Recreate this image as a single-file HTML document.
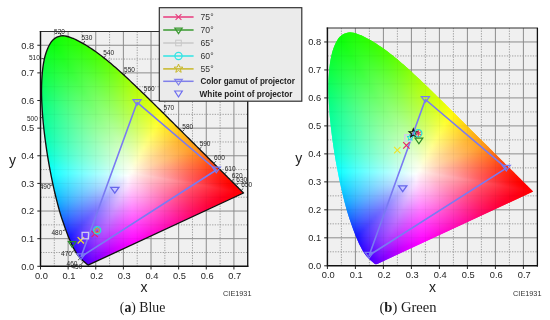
<!DOCTYPE html><html><head><meta charset="utf-8"><title>CIE1931 chromaticity</title><style>html,body{margin:0;padding:0;background:#fff}
#w{position:relative;width:550px;height:320px;overflow:hidden;background:#fff}
.ly{position:absolute;left:0;top:0}
.cf{position:absolute;left:0;top:0;width:208px;height:236px;opacity:1;transform-origin:0 0;clip-path:polygon(48.60px 233.92px,48.60px 233.92px,48.60px 233.92px,48.59px 233.92px,48.59px 233.92px,48.58px 233.92px,48.58px 233.92px,48.57px 233.92px,48.56px 233.93px,48.55px 233.93px,48.54px 233.94px,48.53px 233.94px,48.52px 233.95px,48.51px 233.95px,48.50px 233.95px,48.50px 233.95px,48.49px 233.95px,48.48px 233.94px,48.47px 233.95px,48.45px 233.95px,48.44px 233.95px,48.43px 233.96px,48.41px 233.97px,48.40px 233.97px,48.38px 233.97px,48.37px 233.98px,48.36px 233.98px,48.34px 233.98px,48.33px 233.97px,48.32px 233.97px,48.30px 233.97px,48.28px 233.97px,48.27px 233.97px,48.25px 233.97px,48.23px 233.97px,48.21px 233.97px,48.19px 233.97px,48.17px 233.97px,48.15px 233.98px,48.13px 233.98px,48.10px 233.98px,48.08px 233.98px,48.05px 233.97px,48.02px 233.97px,47.99px 233.96px,47.96px 233.94px,47.93px 233.93px,47.90px 233.91px,47.86px 233.89px,47.81px 233.87px,47.77px 233.84px,47.72px 233.81px,47.67px 233.77px,47.61px 233.74px,47.55px 233.70px,47.50px 233.66px,47.44px 233.61px,47.38px 233.56px,47.31px 233.51px,47.24px 233.46px,47.17px 233.39px,47.09px 233.33px,47.00px 233.26px,46.91px 233.18px,46.82px 233.10px,46.72px 233.01px,46.61px 232.92px,46.51px 232.83px,46.40px 232.73px,46.29px 232.63px,46.18px 232.52px,46.05px 232.41px,45.92px 232.29px,45.79px 232.17px,45.65px 232.04px,45.50px 231.92px,45.35px 231.78px,45.19px 231.64px,45.01px 231.49px,44.83px 231.33px,44.63px 231.16px,44.43px 230.98px,44.22px 230.80px,44.00px 230.61px,43.77px 230.41px,43.53px 230.20px,43.29px 229.99px,43.04px 229.77px,42.78px 229.54px,42.51px 229.29px,42.22px 229.03px,41.93px 228.75px,41.62px 228.46px,41.30px 228.15px,40.98px 227.82px,40.64px 227.47px,40.29px 227.09px,39.93px 226.70px,39.56px 226.30px,39.19px 225.87px,38.80px 225.41px,38.38px 224.88px,37.94px 224.28px,37.47px 223.61px,36.98px 222.90px,36.47px 222.13px,35.93px 221.28px,35.37px 220.36px,34.79px 219.33px,34.18px 218.23px,33.56px 217.06px,32.90px 215.81px,32.23px 214.45px,31.52px 212.96px,30.78px 211.32px,30.01px 209.54px,29.22px 207.66px,28.39px 205.65px,27.54px 203.49px,26.65px 201.16px,25.73px 198.63px,24.76px 195.94px,23.74px 193.09px,22.69px 190.08px,21.62px 186.87px,20.55px 183.47px,19.48px 179.85px,18.42px 176.00px,17.34px 171.94px,16.25px 167.68px,15.17px 163.22px,14.10px 158.59px,13.04px 153.79px,11.99px 148.77px,10.93px 143.51px,9.88px 138.07px,8.86px 132.51px,7.89px 126.89px,6.99px 121.27px,6.15px 115.58px,5.34px 109.76px,4.58px 103.88px,3.88px 98.01px,3.27px 92.21px,2.77px 86.54px,2.35px 80.96px,2.00px 75.41px,1.73px 69.94px,1.57px 64.57px,1.51px 59.37px,1.58px 54.38px,1.76px 49.54px,2.05px 44.82px,2.45px 40.26px,2.97px 35.90px,3.59px 31.81px,4.34px 28.02px,5.22px 24.51px,6.23px 21.23px,7.36px 18.21px,8.58px 15.47px,9.88px 13.04px,11.25px 10.94px,12.70px 9.21px,14.25px 7.82px,15.88px 6.73px,17.57px 5.92px,19.29px 5.33px,21.03px 4.92px,22.79px 4.76px,24.61px 4.89px,26.45px 5.24px,28.32px 5.76px,30.19px 6.37px,32.05px 7.02px,33.92px 7.74px,35.79px 8.59px,37.68px 9.54px,39.55px 10.55px,41.41px 11.59px,43.24px 12.63px,45.04px 13.68px,46.82px 14.76px,48.59px 15.87px,50.33px 17.00px,52.07px 18.16px,53.80px 19.34px,55.51px 20.54px,57.21px 21.77px,58.90px 23.02px,60.58px 24.29px,62.26px 25.58px,63.94px 26.89px,65.61px 28.22px,67.29px 29.57px,68.96px 30.95px,70.62px 32.34px,72.28px 33.75px,73.94px 35.18px,75.60px 36.61px,77.25px 38.07px,78.89px 39.54px,80.54px 41.02px,82.19px 42.52px,83.83px 44.02px,85.48px 45.53px,87.12px 47.05px,88.76px 48.59px,90.41px 50.13px,92.05px 51.69px,93.70px 53.25px,95.34px 54.81px,96.99px 56.39px,98.64px 57.97px,100.29px 59.56px,101.94px 61.16px,103.59px 62.75px,105.23px 64.35px,106.87px 65.95px,108.51px 67.56px,110.15px 69.17px,111.79px 70.78px,113.42px 72.39px,115.06px 74.00px,116.70px 75.61px,118.33px 77.22px,119.96px 78.83px,121.59px 80.44px,123.20px 82.04px,124.82px 83.63px,126.43px 85.23px,128.03px 86.83px,129.62px 88.41px,131.21px 90.00px,132.79px 91.57px,134.36px 93.13px,135.93px 94.70px,137.49px 96.25px,139.04px 97.80px,140.58px 99.33px,142.10px 100.85px,143.62px 102.36px,145.13px 103.87px,146.62px 105.36px,148.11px 106.84px,149.58px 108.30px,151.03px 109.75px,152.47px 111.18px,153.89px 112.60px,155.31px 114.00px,156.70px 115.38px,158.08px 116.75px,159.43px 118.09px,160.76px 119.42px,162.07px 120.73px,163.36px 122.03px,164.63px 123.30px,165.87px 124.54px,167.08px 125.75px,168.26px 126.92px,169.40px 128.06px,170.52px 129.18px,171.62px 130.27px,172.69px 131.33px,173.74px 132.38px,174.77px 133.41px,175.79px 134.42px,176.78px 135.41px,177.75px 136.37px,178.69px 137.30px,179.60px 138.21px,180.48px 139.08px,181.33px 139.92px,182.15px 140.73px,182.94px 141.51px,183.71px 142.28px,184.46px 143.02px,185.18px 143.73px,185.87px 144.43px,186.54px 145.09px,187.19px 145.74px,187.81px 146.36px,188.41px 146.97px,188.99px 147.55px,189.54px 148.10px,190.08px 148.63px,190.59px 149.15px,191.08px 149.64px,191.56px 150.12px,192.02px 150.57px,192.47px 151.01px,192.89px 151.43px,193.30px 151.83px,193.69px 152.22px,194.08px 152.60px,194.44px 152.97px,194.80px 153.32px,195.14px 153.66px,195.46px 153.99px,195.78px 154.31px,196.09px 154.62px,196.40px 154.92px,196.69px 155.22px,196.98px 155.50px,197.25px 155.78px,197.52px 156.05px,197.78px 156.31px,198.03px 156.56px,198.27px 156.80px,198.51px 157.03px,198.73px 157.26px,198.95px 157.48px,199.16px 157.69px,199.36px 157.89px,199.56px 158.08px,199.75px 158.26px,199.93px 158.44px,200.10px 158.60px,200.26px 158.76px,200.42px 158.92px,200.57px 159.07px,200.71px 159.21px,200.84px 159.34px,200.97px 159.47px,201.09px 159.59px,201.21px 159.71px,201.33px 159.83px,201.43px 159.93px,201.54px 160.04px,201.64px 160.14px,201.73px 160.23px,201.82px 160.32px,201.90px 160.40px,201.98px 160.48px,202.06px 160.56px,202.13px 160.63px,202.20px 160.70px,202.26px 160.76px,202.31px 160.81px,202.36px 160.86px,202.41px 160.91px,202.46px 160.96px,202.50px 161.00px,202.55px 161.05px,202.59px 161.09px,202.63px 161.13px,202.67px 161.17px,202.71px 161.21px,202.75px 161.25px,202.79px 161.29px,202.82px 161.32px,202.85px 161.35px,202.88px 161.38px,202.91px 161.41px,202.95px 161.45px,202.98px 161.48px,203.01px 161.51px,203.04px 161.54px,203.08px 161.58px,203.11px 161.61px,203.14px 161.64px,203.17px 161.67px,203.20px 161.70px,203.23px 161.73px,203.25px 161.75px,203.28px 161.78px,203.30px 161.80px,203.33px 161.83px,203.35px 161.85px,203.37px 161.87px,203.38px 161.88px,203.40px 161.90px,203.41px 161.91px,203.43px 161.93px,203.44px 161.94px,203.45px 161.95px,203.46px 161.96px,203.46px 161.96px,203.47px 161.97px,203.48px 161.98px,203.48px 161.98px,203.49px 161.99px,203.49px 161.99px,203.49px 161.99px,203.50px 162.00px)}
.cf i{display:block;height:1px;width:208px}
.cf i:first-child{margin-top:3px}
.c2 i{height:2.2px;margin-bottom:-1.2px}
text{font-family:"Liberation Sans",Arial,sans-serif;fill:#262626}
.tk{font-size:9.3px}
.wl{font-size:6.5px;fill:#222}
.lg{font-size:8.6px;fill:#333}
.lgb{font-size:8.5px;font-weight:bold;fill:#222}
.axl{font-size:14px;fill:#222}
.cie{font-size:7.3px;fill:#333}
.cap{font-family:"Liberation Serif","DejaVu Serif",serif;font-size:14.2px;fill:#1c1c1c}
.r3{background:linear-gradient(90deg,#000,#000,#000,#000,#13ff06,#18ff05,#1eff04,#23ff04,#000,#000,#000,#000,#000,#000,#000,#000,#000,#000,#000,#000,#000,#000,#000,#000,#000,#000,#000,#000,#000,#000,#000,#000,#000,#000,#000,#000,#000,#000,#000,#000,#000,#000,#000,#000,#000,#000,#000,#000,#000,#000,#000,#000,#000)}
.r4{background:linear-gradient(90deg,#000,#000,#000,#000,#12ff06,#17ff05,#1dff04,#22ff04,#000,#000,#000,#000,#000,#000,#000,#000,#000,#000,#000,#000,#000,#000,#000,#000,#000,#000,#000,#000,#000,#000,#000,#000,#000,#000,#000,#000,#000,#000,#000,#000,#000,#000,#000,#000,#000,#000,#000,#000,#000,#000,#000,#000,#000)}
.r5{background:linear-gradient(90deg,#000,#000,#000,#0cff07,#11ff06,#17ff05,#1cff05,#21ff03,#27ff03,#000,#000,#000,#000,#000,#000,#000,#000,#000,#000,#000,#000,#000,#000,#000,#000,#000,#000,#000,#000,#000,#000,#000,#000,#000,#000,#000,#000,#000,#000,#000,#000,#000,#000,#000,#000,#000,#000,#000,#000,#000,#000,#000,#000)}
.r6{background:linear-gradient(90deg,#000,#000,#000,#0bff07,#10ff06,#17ff06,#1dff06,#21ff04,#26ff03,#2cff02,#000,#000,#000,#000,#000,#000,#000,#000,#000,#000,#000,#000,#000,#000,#000,#000,#000,#000,#000,#000,#000,#000,#000,#000,#000,#000,#000,#000,#000,#000,#000,#000,#000,#000,#000,#000,#000,#000,#000,#000,#000,#000,#000)}
.r7{background:linear-gradient(90deg,#000,#000,#000,#0aff07,#10ff07,#17ff07,#1dff07,#21ff06,#25ff03,#2bff02,#32ff02,#000,#000,#000,#000,#000,#000,#000,#000,#000,#000,#000,#000,#000,#000,#000,#000,#000,#000,#000,#000,#000,#000,#000,#000,#000,#000,#000,#000,#000,#000,#000,#000,#000,#000,#000,#000,#000,#000,#000,#000,#000,#000)}
.r8{background:linear-gradient(90deg,#000,#000,#0bff0f,#09ff07,#10ff08,#17ff09,#1dff09,#22ff07,#26ff04,#2aff02,#31ff01,#000,#000,#000,#000,#000,#000,#000,#000,#000,#000,#000,#000,#000,#000,#000,#000,#000,#000,#000,#000,#000,#000,#000,#000,#000,#000,#000,#000,#000,#000,#000,#000,#000,#000,#000,#000,#000,#000,#000,#000,#000,#000)}
.r9{background:linear-gradient(90deg,#000,#000,#0bff10,#09ff08,#10ff08,#17ff0a,#1dff0a,#22ff08,#26ff06,#2aff03,#30ff01,#37ff01,#000,#000,#000,#000,#000,#000,#000,#000,#000,#000,#000,#000,#000,#000,#000,#000,#000,#000,#000,#000,#000,#000,#000,#000,#000,#000,#000,#000,#000,#000,#000,#000,#000,#000,#000,#000,#000,#000,#000,#000,#000)}
.r10{background:linear-gradient(90deg,#000,#000,#0bff11,#0aff0a,#10ff09,#17ff0b,#1eff0b,#23ff0a,#26ff07,#2aff04,#2fff01,#36ff01,#000,#000,#000,#000,#000,#000,#000,#000,#000,#000,#000,#000,#000,#000,#000,#000,#000,#000,#000,#000,#000,#000,#000,#000,#000,#000,#000,#000,#000,#000,#000,#000,#000,#000,#000,#000,#000,#000,#000,#000,#000)}
.r11{background:linear-gradient(90deg,#000,#000,#0bff12,#0aff0b,#10ff0a,#18ff0c,#1eff0d,#23ff0c,#27ff09,#2bff06,#2fff02,#35ff01,#000,#000,#000,#000,#000,#000,#000,#000,#000,#000,#000,#000,#000,#000,#000,#000,#000,#000,#000,#000,#000,#000,#000,#000,#000,#000,#000,#000,#000,#000,#000,#000,#000,#000,#000,#000,#000,#000,#000,#000,#000)}
.r12{background:linear-gradient(90deg,#000,#000,#0bff13,#0bff0d,#10ff0b,#18ff0d,#1eff0e,#24ff0d,#27ff0a,#2bff07,#2fff03,#34ff01,#3cff01,#000,#000,#000,#000,#000,#000,#000,#000,#000,#000,#000,#000,#000,#000,#000,#000,#000,#000,#000,#000,#000,#000,#000,#000,#000,#000,#000,#000,#000,#000,#000,#000,#000,#000,#000,#000,#000,#000,#000,#000)}
.r13{background:linear-gradient(90deg,#000,#0cff1c,#0bff14,#0cff0f,#10ff0c,#18ff0e,#1fff0f,#24ff0f,#28ff0c,#2bff09,#2fff05,#34ff01,#3bff01,#000,#000,#000,#000,#000,#000,#000,#000,#000,#000,#000,#000,#000,#000,#000,#000,#000,#000,#000,#000,#000,#000,#000,#000,#000,#000,#000,#000,#000,#000,#000,#000,#000,#000,#000,#000,#000,#000,#000,#000)}
.r14{background:linear-gradient(90deg,#000,#0cff1d,#0bff15,#0dff11,#10ff0d,#18ff10,#1fff11,#25ff10,#28ff0e,#2cff0a,#30ff07,#34ff03,#3aff01,#43ff02,#000,#000,#000,#000,#000,#000,#000,#000,#000,#000,#000,#000,#000,#000,#000,#000,#000,#000,#000,#000,#000,#000,#000,#000,#000,#000,#000,#000,#000,#000,#000,#000,#000,#000,#000,#000,#000,#000,#000)}
.r15{background:linear-gradient(90deg,#000,#0cff1e,#0bff17,#0eff13,#10ff0f,#18ff11,#1fff12,#25ff12,#29ff0f,#2dff0c,#30ff08,#34ff04,#39ff01,#42ff01,#000,#000,#000,#000,#000,#000,#000,#000,#000,#000,#000,#000,#000,#000,#000,#000,#000,#000,#000,#000,#000,#000,#000,#000,#000,#000,#000,#000,#000,#000,#000,#000,#000,#000,#000,#000,#000,#000,#000)}
.r16{background:linear-gradient(90deg,#000,#0cff1f,#0bff18,#0eff14,#1f1,#19ff12,#20ff13,#26ff13,#2aff11,#2dff0e,#31ff0a,#35ff06,#3aff02,#41ff01,#4aff02,#000,#000,#000,#000,#000,#000,#000,#000,#000,#000,#000,#000,#000,#000,#000,#000,#000,#000,#000,#000,#000,#000,#000,#000,#000,#000,#000,#000,#000,#000,#000,#000,#000,#000,#000,#000,#000,#000)}
.r17{background:linear-gradient(90deg,#000,#0cff20,#0bff19,#0fff16,#12ff13,#19ff13,#20ff15,#26ff15,#2aff13,#2eff10,#32ff0c,#35ff08,#3aff04,#40ff01,#49ff02,#000,#000,#000,#000,#000,#000,#000,#000,#000,#000,#000,#000,#000,#000,#000,#000,#000,#000,#000,#000,#000,#000,#000,#000,#000,#000,#000,#000,#000,#000,#000,#000,#000,#000,#000,#000,#000,#000)}
.r18{background:linear-gradient(90deg,#000,#0cff22,#0cff1b,#10ff18,#13ff15,#19ff14,#20ff16,#27ff16,#2bff15,#2fff12,#32ff0e,#36ff0a,#3aff06,#40ff02,#49ff02,#000,#000,#000,#000,#000,#000,#000,#000,#000,#000,#000,#000,#000,#000,#000,#000,#000,#000,#000,#000,#000,#000,#000,#000,#000,#000,#000,#000,#000,#000,#000,#000,#000,#000,#000,#000,#000,#000)}
.r19{background:linear-gradient(90deg,#000,#0cff23,#0dff1c,#11ff1a,#14ff17,#19ff15,#21ff17,#27ff18,#2cff16,#2fff13,#33ff10,#37ff0c,#3bff07,#40ff03,#48ff02,#52ff03,#000,#000,#000,#000,#000,#000,#000,#000,#000,#000,#000,#000,#000,#000,#000,#000,#000,#000,#000,#000,#000,#000,#000,#000,#000,#000,#000,#000,#000,#000,#000,#000,#000,#000,#000,#000,#000)}
.r20{background:linear-gradient(90deg,#000,#0cff24,#0dff1e,#11ff1c,#15ff19,#19ff16,#21ff18,#27ff19,#2cff18,#30ff15,#34ff12,#37ff0e,#3cff09,#41ff05,#47ff02,#51ff03,#000,#000,#000,#000,#000,#000,#000,#000,#000,#000,#000,#000,#000,#000,#000,#000,#000,#000,#000,#000,#000,#000,#000,#000,#000,#000,#000,#000,#000,#000,#000,#000,#000,#000,#000,#000,#000)}
.r21{background:linear-gradient(90deg,#0dff2d,#0cff25,#0eff20,#12ff1d,#16ff1b,#19ff18,#21ff1a,#28ff1b,#2dff1a,#31ff17,#35ff14,#38ff10,#3cff0b,#41ff07,#47ff03,#50ff03,#000,#000,#000,#000,#000,#000,#000,#000,#000,#000,#000,#000,#000,#000,#000,#000,#000,#000,#000,#000,#000,#000,#000,#000,#000,#000,#000,#000,#000,#000,#000,#000,#000,#000,#000,#000,#000)}
.r22{background:linear-gradient(90deg,#0dff2e,#0cff26,#0eff22,#13ff1f,#17ff1d,#1aff19,#22ff1b,#28ff1c,#2eff1c,#32ff19,#35ff16,#39ff12,#3dff0d,#42ff08,#47ff04,#50ff03,#5aff04,#000,#000,#000,#000,#000,#000,#000,#000,#000,#000,#000,#000,#000,#000,#000,#000,#000,#000,#000,#000,#000,#000,#000,#000,#000,#000,#000,#000,#000,#000,#000,#000,#000,#000,#000,#000)}
.r23{background:linear-gradient(90deg,#0dff2f,#0cff28,#0fff23,#14ff21,#18ff1f,#1bff1c,#22ff1c,#29ff1d,#2eff1d,#33ff1b,#36ff18,#3aff14,#3eff0f,#42ff0a,#48ff06,#4fff02,#59ff03,#000,#000,#000,#000,#000,#000,#000,#000,#000,#000,#000,#000,#000,#000,#000,#000,#000,#000,#000,#000,#000,#000,#000,#000,#000,#000,#000,#000,#000,#000,#000,#000,#000,#000,#000,#000)}
.r24{background:linear-gradient(90deg,#0dff30,#0cff29,#0fff25,#14ff23,#19ff20,#1cff1e,#22ff1d,#29ff1f,#2fff1f,#33ff1d,#37ff1a,#3bff16,#3fff11,#43ff0c,#48ff08,#4fff03,#59ff03,#000,#000,#000,#000,#000,#000,#000,#000,#000,#000,#000,#000,#000,#000,#000,#000,#000,#000,#000,#000,#000,#000,#000,#000,#000,#000,#000,#000,#000,#000,#000,#000,#000,#000,#000,#000)}
.r25{background:linear-gradient(90deg,#0dff32,#0cff2a,#10ff27,#15ff25,#19ff22,#1dff20,#22ff1f,#29ff20,#30ff21,#34ff1f,#38ff1c,#3cff18,#3fff13,#44ff0e,#49ff0a,#4fff05,#58ff03,#63ff04,#000,#000,#000,#000,#000,#000,#000,#000,#000,#000,#000,#000,#000,#000,#000,#000,#000,#000,#000,#000,#000,#000,#000,#000,#000,#000,#000,#000,#000,#000,#000,#000,#000,#000,#000)}
.r26{background:linear-gradient(90deg,#0dff33,#0cff2c,#10ff28,#15ff26,#1aff24,#1eff22,#22ff20,#2aff22,#30ff22,#35ff21,#39ff1e,#3cff1a,#40ff15,#45ff10,#4aff0b,#50ff07,#58ff03,#62ff04,#000,#000,#000,#000,#000,#000,#000,#000,#000,#000,#000,#000,#000,#000,#000,#000,#000,#000,#000,#000,#000,#000,#000,#000,#000,#000,#000,#000,#000,#000,#000,#000,#000,#000,#000)}
.r27{background:linear-gradient(90deg,#0dff34,#0cff2d,#11ff2a,#16ff28,#1bff26,#1fff24,#22ff21,#2aff23,#31ff24,#36ff23,#3aff20,#3dff1c,#41ff17,#45ff12,#4bff0d,#50ff09,#57ff04,#62ff04,#000,#000,#000,#000,#000,#000,#000,#000,#000,#000,#000,#000,#000,#000,#000,#000,#000,#000,#000,#000,#000,#000,#000,#000,#000,#000,#000,#000,#000,#000,#000,#000,#000,#000,#000)}
.r28{background:linear-gradient(90deg,#0dff36,#0cff2e,#11ff2c,#17ff2a,#1bff28,#20ff25,#2f2,#2aff24,#31ff25,#37ff25,#3bff22,#3eff1e,#42ff19,#46ff15,#4bff10,#51ff0a,#58ff06,#61ff04,#6dff06,#000,#000,#000,#000,#000,#000,#000,#000,#000,#000,#000,#000,#000,#000,#000,#000,#000,#000,#000,#000,#000,#000,#000,#000,#000,#000,#000,#000,#000,#000,#000,#000,#000,#000)}
.r29{background:linear-gradient(90deg,#0dff37,#0cff2f,#11ff2d,#17ff2c,#1cff2a,#20ff27,#23ff24,#2bff26,#32ff27,#37ff26,#3bff24,#3fff20,#43ff1c,#47ff17,#4cff12,#52ff0c,#59ff07,#61ff04,#6cff05,#000,#000,#000,#000,#000,#000,#000,#000,#000,#000,#000,#000,#000,#000,#000,#000,#000,#000,#000,#000,#000,#000,#000,#000,#000,#000,#000,#000,#000,#000,#000,#000,#000,#000)}
.r30{background:linear-gradient(90deg,#0dff38,#0cff31,#12ff2f,#18ff2d,#1dff2c,#21ff29,#24ff26,#2bff27,#32ff28,#38ff28,#3cff26,#40ff22,#44ff1e,#48ff19,#4dff14,#53ff0e,#59ff09,#61ff05,#6cff05,#000,#000,#000,#000,#000,#000,#000,#000,#000,#000,#000,#000,#000,#000,#000,#000,#000,#000,#000,#000,#000,#000,#000,#000,#000,#000,#000,#000,#000,#000,#000,#000,#000,#000)}
.r31{background:linear-gradient(90deg,#0dff3a,#0cff33,#12ff31,#18ff2f,#1dff2d,#22ff2b,#25ff29,#2bff28,#33ff2a,#39ff2a,#3dff28,#41ff25,#45ff20,#49ff1b,#4eff16,#53ff11,#5aff0b,#61ff06,#6cff05,#77ff07,#000,#000,#000,#000,#000,#000,#000,#000,#000,#000,#000,#000,#000,#000,#000,#000,#000,#000,#000,#000,#000,#000,#000,#000,#000,#000,#000,#000,#000,#000,#000,#000,#000)}
.r32{background:linear-gradient(90deg,#0cff3b,#0dff34,#13ff32,#19ff31,#1eff2f,#23ff2d,#26ff2b,#2bff29,#33ff2b,#39ff2c,#3eff2a,#42ff27,#46ff22,#4aff1d,#4fff18,#54ff13,#5bff0d,#62ff08,#6bff05,#77ff07,#000,#000,#000,#000,#000,#000,#000,#000,#000,#000,#000,#000,#000,#000,#000,#000,#000,#000,#000,#000,#000,#000,#000,#000,#000,#000,#000,#000,#000,#000,#000,#000,#000)}
.r33{background:linear-gradient(90deg,#0cff3c,#0dff36,#13ff34,#19ff33,#1fff31,#23ff2f,#27ff2d,#2bff2b,#33ff2d,#3aff2d,#3fff2c,#43ff29,#47ff24,#4bff1f,#50ff1a,#55ff15,#5bff0f,#63ff0a,#6bff05,#77ff06,#000,#000,#000,#000,#000,#000,#000,#000,#000,#000,#000,#000,#000,#000,#000,#000,#000,#000,#000,#000,#000,#000,#000,#000,#000,#000,#000,#000,#000,#000,#000,#000,#000)}
.r34{background:linear-gradient(90deg,#0cff3e,#0dff37,#13ff36,#1aff35,#1fff33,#24ff31,#28ff2f,#2bff2c,#34ff2e,#3bff2f,#40ff2e,#44ff2b,#48ff27,#4cff22,#51ff1c,#56ff17,#5cff11,#63ff0c,#6bff07,#76ff06,#000,#000,#000,#000,#000,#000,#000,#000,#000,#000,#000,#000,#000,#000,#000,#000,#000,#000,#000,#000,#000,#000,#000,#000,#000,#000,#000,#000,#000,#000,#000,#000,#000)}
.r35{background:linear-gradient(90deg,#0cff3f,#0dff39,#14ff38,#1aff36,#20ff35,#25ff33,#29ff31,#2cff2e,#34ff30,#3bff31,#41ff30,#45ff2d,#49ff29,#4dff24,#52ff1f,#57ff19,#5dff13,#64ff0e,#6cff08,#76ff06,#82ff07,#000,#000,#000,#000,#000,#000,#000,#000,#000,#000,#000,#000,#000,#000,#000,#000,#000,#000,#000,#000,#000,#000,#000,#000,#000,#000,#000,#000,#000,#000,#000,#000)}
.r36{background:linear-gradient(90deg,#0cff41,#0dff3b,#14ff39,#1bff38,#20ff37,#26ff35,#2aff33,#2dff30,#35ff31,#3cff32,#42ff32,#46ff2f,#4aff2b,#4eff26,#53ff21,#58ff1b,#5eff16,#65ff10,#6dff0a,#76ff06,#82ff07,#000,#000,#000,#000,#000,#000,#000,#000,#000,#000,#000,#000,#000,#000,#000,#000,#000,#000,#000,#000,#000,#000,#000,#000,#000,#000,#000,#000,#000,#000,#000,#000)}
.r37{background:linear-gradient(90deg,#0cff42,#0dff3c,#14ff3b,#1bff3a,#21ff39,#26ff37,#2bff35,#2eff32,#35ff32,#3dff34,#43ff34,#47ff31,#4bff2d,#4fff28,#54ff23,#59ff1e,#5fff18,#66ff12,#6dff0c,#76ff07,#82ff07,#000,#000,#000,#000,#000,#000,#000,#000,#000,#000,#000,#000,#000,#000,#000,#000,#000,#000,#000,#000,#000,#000,#000,#000,#000,#000,#000,#000,#000,#000,#000,#000)}
.r38{background:linear-gradient(90deg,#0cff44,#0eff3e,#15ff3d,#1bff3c,#22ff3a,#27ff39,#2cff37,#30ff34,#35ff34,#3dff35,#44ff36,#48ff33,#4cff2f,#50ff2b,#55ff25,#5aff20,#60ff1a,#67ff14,#6eff0e,#77ff09,#82ff07,#000,#000,#000,#000,#000,#000,#000,#000,#000,#000,#000,#000,#000,#000,#000,#000,#000,#000,#000,#000,#000,#000,#000,#000,#000,#000,#000,#000,#000,#000,#000,#000)}
.r39{background:linear-gradient(90deg,#0cff45,#0eff40,#15ff3e,#1cff3d,#22ff3c,#28ff3b,#2dff39,#31ff36,#35ff35,#3eff37,#45ff37,#49ff35,#4eff32,#52ff2d,#56ff28,#5bff22,#61ff1c,#68ff16,#6fff10,#77ff0a,#82ff07,#8dff08,#000,#000,#000,#000,#000,#000,#000,#000,#000,#000,#000,#000,#000,#000,#000,#000,#000,#000,#000,#000,#000,#000,#000,#000,#000,#000,#000,#000,#000,#000,#000)}
.r40{background:linear-gradient(90deg,#0cff47,#0eff41,#15ff40,#1cff3f,#23ff3e,#29ff3d,#2dff3b,#32ff39,#36ff36,#3eff39,#45ff39,#4bff37,#4fff34,#53ff2f,#57ff2a,#5cff24,#62ff1e,#69ff18,#70ff12,#78ff0c,#81ff07,#8eff08,#000,#000,#000,#000,#000,#000,#000,#000,#000,#000,#000,#000,#000,#000,#000,#000,#000,#000,#000,#000,#000,#000,#000,#000,#000,#000,#000,#000,#000,#000,#000)}
.r41{background:linear-gradient(90deg,#0cff48,#0eff43,#15ff42,#1dff41,#23ff40,#29ff3f,#2eff3d,#33ff3b,#36ff38,#3fff3a,#46ff3b,#4cff39,#50ff36,#54ff31,#58ff2c,#5dff27,#63ff21,#6aff1b,#71ff14,#79ff0e,#82ff08,#8eff08,#000,#000,#000,#000,#000,#000,#000,#000,#000,#000,#000,#000,#000,#000,#000,#000,#000,#000,#000,#000,#000,#000,#000,#000,#000,#000,#000,#000,#000,#000,#000)}
.r42{background:linear-gradient(90deg,#0cff4a,#0eff45,#16ff44,#1dff43,#24ff42,#2aff41,#2fff3f,#34ff3d,#37ff3a,#3fff3c,#47ff3d,#4dff3c,#51ff38,#55ff34,#5aff2f,#5fff29,#64ff23,#6bff1d,#72ff16,#7aff10,#83ff0a,#8eff08,#99ff08,#000,#000,#000,#000,#000,#000,#000,#000,#000,#000,#000,#000,#000,#000,#000,#000,#000,#000,#000,#000,#000,#000,#000,#000,#000,#000,#000,#000,#000,#000)}
.r43{background:linear-gradient(90deg,#0bff4c,#0eff47,#16ff45,#1dff45,#24ff44,#2aff43,#30ff41,#35ff3f,#38ff3c,#40ff3d,#48ff3e,#4eff3e,#52ff3a,#56ff36,#5bff31,#60ff2b,#65ff25,#6cff1f,#73ff19,#7bff12,#84ff0c,#8eff08,#9aff08,#000,#000,#000,#000,#000,#000,#000,#000,#000,#000,#000,#000,#000,#000,#000,#000,#000,#000,#000,#000,#000,#000,#000,#000,#000,#000,#000,#000,#000,#000)}
.r44{background:linear-gradient(90deg,#0bff4d,#0eff48,#16ff47,#1eff46,#25ff46,#2bff45,#31ff43,#36ff41,#3aff3e,#40ff3e,#48ff40,#4fff40,#53ff3d,#58ff38,#5cff33,#61ff2d,#67ff27,#6dff21,#74ff1b,#7cff14,#85ff0e,#8eff08,#9aff08,#000,#000,#000,#000,#000,#000,#000,#000,#000,#000,#000,#000,#000,#000,#000,#000,#000,#000,#000,#000,#000,#000,#000,#000,#000,#000,#000,#000,#000,#000)}
.r45{background:linear-gradient(90deg,#0bff4f,#0fff4a,#16ff49,#1eff48,#25ff48,#2cff46,#32ff45,#37ff43,#3bff41,#41ff40,#49ff42,#50ff41,#55ff3f,#59ff3b,#5dff35,#62ff30,#68ff2a,#6eff23,#75ff1d,#7dff16,#86ff0f,#8fff09,#9aff08,#000,#000,#000,#000,#000,#000,#000,#000,#000,#000,#000,#000,#000,#000,#000,#000,#000,#000,#000,#000,#000,#000,#000,#000,#000,#000,#000,#000,#000,#000)}
.r46{background:linear-gradient(90deg,#0bff51,#0fff4c,#17ff4b,#1eff4a,#26ff49,#2cff48,#32ff47,#38ff45,#3cff43,#41ff41,#4aff43,#51ff43,#56ff41,#5aff3d,#5fff38,#63ff32,#69ff2c,#6fff26,#76ff1f,#7eff18,#87ff11,#90ff0b,#9aff08,#a6ff08,#000,#000,#000,#000,#000,#000,#000,#000,#000,#000,#000,#000,#000,#000,#000,#000,#000,#000,#000,#000,#000,#000,#000,#000,#000,#000,#000,#000,#000)}
.r47{background:linear-gradient(90deg,#0bff52,#0fff4e,#17ff4d,#1fff4c,#26ff4b,#2dff4a,#33ff49,#38ff47,#3dff45,#41ff43,#4aff45,#52ff45,#57ff43,#5cff3f,#60ff3a,#65ff34,#6aff2e,#70ff28,#77ff21,#7fff1a,#88ff13,#91ff0d,#9bff08,#a6ff08,#000,#000,#000,#000,#000,#000,#000,#000,#000,#000,#000,#000,#000,#000,#000,#000,#000,#000,#000,#000,#000,#000,#000,#000,#000,#000,#000,#000,#000)}
.r48{background:linear-gradient(90deg,#0bff54,#0fff50,#17ff4f,#1fff4e,#26ff4d,#2dff4c,#34ff4b,#39ff4a,#3eff47,#42ff44,#4bff46,#52ff47,#58ff45,#5dff41,#61ff3c,#66ff37,#6bff30,#71ff2a,#78ff23,#80ff1c,#89ff15,#92ff0e,#9bff08,#a6ff08,#000,#000,#000,#000,#000,#000,#000,#000,#000,#000,#000,#000,#000,#000,#000,#000,#000,#000,#000,#000,#000,#000,#000,#000,#000,#000,#000,#000,#000)}
.r49{background:linear-gradient(90deg,#0bff56,#0fff52,#17ff51,#1fff50,#27ff4f,#2eff4e,#35ff4d,#3aff4c,#3fff49,#43ff46,#4bff48,#53ff49,#59ff47,#5eff43,#62ff3e,#67ff39,#6cff33,#72ff2c,#79ff26,#81ff1f,#8aff17,#93ff10,#9cff0a,#a7ff08,#b1ff08,#000,#000,#000,#000,#000,#000,#000,#000,#000,#000,#000,#000,#000,#000,#000,#000,#000,#000,#000,#000,#000,#000,#000,#000,#000,#000,#000,#000)}
.r50{background:linear-gradient(90deg,#0bff58,#0fff54,#17ff53,#1fff52,#27ff51,#2fff50,#35ff4f,#3bff4e,#40ff4c,#44ff49,#4cff49,#54ff4a,#5aff49,#5fff46,#64ff41,#68ff3b,#6eff35,#74ff2e,#7bff28,#82ff21,#8bff19,#94ff12,#9dff0b,#a7ff07,#b2ff08,#000,#000,#000,#000,#000,#000,#000,#000,#000,#000,#000,#000,#000,#000,#000,#000,#000,#000,#000,#000,#000,#000,#000,#000,#000,#000,#000,#000)}
.r51{background:linear-gradient(90deg,#0bff59,#0fff55,#17ff55,#20ff54,#28ff53,#2fff52,#36ff51,#3cff50,#41ff4e,#46ff4b,#4cff4b,#55ff4c,#5cff4b,#60ff48,#65ff43,#6aff3d,#6fff37,#75ff31,#7cff2a,#84ff23,#8cff1b,#95ff14,#9eff0d,#a7ff07,#b2ff08,#000,#000,#000,#000,#000,#000,#000,#000,#000,#000,#000,#000,#000,#000,#000,#000,#000,#000,#000,#000,#000,#000,#000,#000,#000,#000,#000,#000)}
.r52{background:linear-gradient(90deg,#0aff5b,#0fff57,#17ff57,#20ff56,#28ff55,#30ff54,#37ff53,#3dff52,#42ff50,#47ff4d,#4dff4c,#56ff4e,#5dff4d,#62ff4a,#66ff45,#6bff40,#70ff39,#76ff33,#7dff2c,#85ff25,#8dff1d,#96ff16,#9fff0f,#a8ff08,#b2ff08,#000,#000,#000,#000,#000,#000,#000,#000,#000,#000,#000,#000,#000,#000,#000,#000,#000,#000,#000,#000,#000,#000,#000,#000,#000,#000,#000,#000)}
.r53{background:linear-gradient(90deg,#0aff5d,#0fff59,#18ff59,#20ff58,#28ff57,#30ff56,#37ff55,#3eff54,#43ff52,#48ff4f,#4dff4d,#56ff4f,#5eff4f,#63ff4c,#67ff47,#6cff42,#71ff3c,#77ff35,#7eff2e,#86ff27,#8eff1f,#97ff18,#a0ff10,#a9ff0a,#b3ff07,#bdff08,#000,#000,#000,#000,#000,#000,#000,#000,#000,#000,#000,#000,#000,#000,#000,#000,#000,#000,#000,#000,#000,#000,#000,#000,#000,#000,#000)}
.r54{background:linear-gradient(90deg,#0aff5f,#0fff5b,#18ff5b,#20ff5a,#29ff59,#31ff59,#38ff57,#3eff56,#44ff54,#49ff52,#4eff4f,#57ff51,#5fff51,#64ff4e,#69ff4a,#6dff44,#72ff3e,#78ff37,#7fff30,#87ff29,#90ff21,#99ff1a,#a2ff12,#aaff0b,#b3ff07,#bdff08,#000,#000,#000,#000,#000,#000,#000,#000,#000,#000,#000,#000,#000,#000,#000,#000,#000,#000,#000,#000,#000,#000,#000,#000,#000,#000,#000)}
.r55{background:linear-gradient(90deg,#0aff61,#0fff5d,#18ff5d,#21ff5c,#29ff5b,#31ff5b,#38ff5a,#3fff58,#45ff56,#4aff54,#4fff50,#58ff52,#60ff53,#65ff50,#6aff4c,#6eff46,#74ff40,#7aff39,#80ff32,#88ff2b,#91ff23,#9aff1c,#a3ff14,#abff0d,#b3ff07,#bdff08,#000,#000,#000,#000,#000,#000,#000,#000,#000,#000,#000,#000,#000,#000,#000,#000,#000,#000,#000,#000,#000,#000,#000,#000,#000,#000,#000)}
.r56{background:linear-gradient(90deg,#0aff63,#0fff5f,#18ff5f,#21ff5e,#29ff5d,#31ff5d,#39ff5c,#40ff5a,#46ff58,#4cff56,#50ff53,#58ff54,#60ff54,#66ff52,#6bff4e,#70ff48,#75ff42,#7bff3c,#82ff34,#89ff2d,#92ff25,#9bff1e,#a4ff16,#acff0f,#b4ff08,#beff07,#000,#000,#000,#000,#000,#000,#000,#000,#000,#000,#000,#000,#000,#000,#000,#000,#000,#000,#000,#000,#000,#000,#000,#000,#000,#000,#000)}
.r57{background:linear-gradient(90deg,#0aff65,#0fff62,#18ff61,#21ff60,#2aff60,#32ff5f,#3aff5e,#41ff5c,#47ff5a,#4dff58,#51ff55,#59ff55,#61ff56,#68ff54,#6cff50,#71ff4a,#76ff44,#7cff3e,#83ff37,#8aff2f,#93ff27,#9cff20,#a5ff18,#adff10,#b5ff0a,#beff07,#c7ff08,#000,#000,#000,#000,#000,#000,#000,#000,#000,#000,#000,#000,#000,#000,#000,#000,#000,#000,#000,#000,#000,#000,#000,#000,#000,#000)}
.r58{background:linear-gradient(90deg,#0aff67,#0fff64,#18ff63,#21ff62,#2aff62,#32ff61,#3aff60,#42ff5e,#48ff5c,#4eff5a,#53ff57,#59ff56,#62ff57,#69ff56,#6eff52,#72ff4d,#77ff47,#7dff40,#84ff39,#8cff31,#94ff29,#9dff22,#a6ff1a,#aeff12,#b6ff0b,#beff07,#c7ff07,#000,#000,#000,#000,#000,#000,#000,#000,#000,#000,#000,#000,#000,#000,#000,#000,#000,#000,#000,#000,#000,#000,#000,#000,#000,#000)}
.r59{background:linear-gradient(90deg,#09ff69,#0fff66,#18ff65,#21ff64,#2aff64,#33ff63,#3bff62,#42ff60,#49ff5f,#4fff5c,#54ff59,#5aff58,#63ff59,#6aff58,#6fff54,#73ff4f,#78ff49,#7eff42,#85ff3b,#8dff33,#95ff2c,#9eff24,#a7ff1c,#afff14,#b7ff0d,#beff07,#c8ff07,#000,#000,#000,#000,#000,#000,#000,#000,#000,#000,#000,#000,#000,#000,#000,#000,#000,#000,#000,#000,#000,#000,#000,#000,#000,#000)}
.r60{background:linear-gradient(90deg,#09ff6b,#0fff68,#18ff67,#21ff67,#2bff66,#33ff65,#3bff64,#43ff62,#4aff61,#50ff5e,#55ff5c,#5aff59,#63ff5a,#6bff5a,#70ff56,#75ff51,#7aff4b,#7fff44,#86ff3d,#8eff35,#96ff2e,#9fff26,#a8ff1e,#b0ff16,#b8ff0f,#bfff08,#c8ff07,#000,#000,#000,#000,#000,#000,#000,#000,#000,#000,#000,#000,#000,#000,#000,#000,#000,#000,#000,#000,#000,#000,#000,#000,#000,#000)}
.r61{background:linear-gradient(90deg,#09ff6d,#0fff6a,#18ff69,#22ff69,#2bff68,#34ff67,#3cff66,#44ff64,#4bff63,#51ff60,#56ff5e,#5bff5a,#64ff5c,#6cff5c,#71ff58,#76ff53,#7bff4d,#80ff46,#87ff3f,#8fff38,#97ff30,#a0ff28,#a9ff20,#b1ff18,#b8ff10,#c0ff09,#c8ff07,#d1ff07,#000,#000,#000,#000,#000,#000,#000,#000,#000,#000,#000,#000,#000,#000,#000,#000,#000,#000,#000,#000,#000,#000,#000,#000,#000)}
.r62{background:linear-gradient(90deg,#09ff6e,#0fff6c,#18ff6b,#22ff6b,#2bff6a,#34ff69,#3cff68,#44ff67,#4bff65,#52ff63,#57ff60,#5cff5c,#65ff5d,#6dff5d,#72ff5a,#7f5,#7cff4f,#82ff49,#88ff41,#90ff3a,#98ff32,#a1ff2a,#af2,#b2ff1a,#b9ff12,#c0ff0b,#c8ff06,#d2ff07,#000,#000,#000,#000,#000,#000,#000,#000,#000,#000,#000,#000,#000,#000,#000,#000,#000,#000,#000,#000,#000,#000,#000,#000,#000)}
.r63{background:linear-gradient(90deg,#09ff70,#0fff6e,#18ff6d,#22ff6d,#2bff6c,#34ff6b,#3dff6a,#45ff69,#4cff67,#53ff65,#58ff62,#5dff5e,#65ff5f,#6eff5f,#73ff5c,#78ff57,#7dff51,#83ff4b,#89ff43,#91ff3c,#99ff34,#a2ff2c,#abff24,#b3ff1c,#baff14,#c1ff0d,#c9ff06,#d2ff07,#000,#000,#000,#000,#000,#000,#000,#000,#000,#000,#000,#000,#000,#000,#000,#000,#000,#000,#000,#000,#000,#000,#000,#000,#000)}
.r64{background:linear-gradient(90deg,#09ff72,#0eff70,#18ff6f,#22ff6f,#2cff6e,#35ff6d,#3eff6c,#46ff6b,#4dff69,#54ff67,#5aff64,#5eff61,#66ff60,#6eff61,#75ff5e,#79ff59,#7eff53,#84ff4d,#8aff46,#92ff3e,#9aff36,#a3ff2e,#abff26,#b3ff1e,#bbff16,#c2ff0f,#c9ff08,#d2ff07,#000,#000,#000,#000,#000,#000,#000,#000,#000,#000,#000,#000,#000,#000,#000,#000,#000,#000,#000,#000,#000,#000,#000,#000,#000)}
.r65{background:linear-gradient(90deg,#09ff74,#0eff72,#18ff71,#22ff71,#2cff70,#35ff6f,#3eff6e,#46ff6d,#4eff6b,#55ff69,#5bff66,#60ff63,#66ff61,#6fff62,#76ff60,#7bff5b,#7fff56,#85ff4f,#8bff48,#93ff40,#9bff38,#a3ff30,#acff28,#b4ff20,#bbff18,#c2ff10,#caff09,#d2ff06,#dbff07,#000,#000,#000,#000,#000,#000,#000,#000,#000,#000,#000,#000,#000,#000,#000,#000,#000,#000,#000,#000,#000,#000,#000,#000)}
.r66{background:linear-gradient(90deg,#09ff76,#0eff74,#18ff73,#22ff73,#2cff72,#36ff71,#3fff70,#47ff6f,#4fff6d,#56ff6b,#5cff68,#61ff65,#67ff63,#70ff64,#77ff62,#7cff5e,#80ff58,#86ff51,#8cff4a,#93ff42,#9cff3b,#a4ff32,#adff2a,#b5ff22,#bcff1a,#c3ff12,#caff0b,#d3ff06,#dcff07,#000,#000,#000,#000,#000,#000,#000,#000,#000,#000,#000,#000,#000,#000,#000,#000,#000,#000,#000,#000,#000,#000,#000,#000)}
.r67{background:linear-gradient(90deg,#08ff78,#0eff76,#18ff75,#22ff75,#2cff75,#36ff74,#3fff72,#47ff71,#4fff6f,#56ff6d,#5dff6a,#62ff67,#67ff64,#71ff65,#78ff64,#7dff60,#82ff5a,#87ff53,#8dff4c,#94ff45,#9cff3d,#a5ff35,#adff2c,#b5ff24,#bdff1c,#c4ff14,#cbff0d,#d3ff06,#dcff07,#000,#000,#000,#000,#000,#000,#000,#000,#000,#000,#000,#000,#000,#000,#000,#000,#000,#000,#000,#000,#000,#000,#000,#000)}
.r68{background:linear-gradient(90deg,#08ff7a,#0eff77,#18ff77,#2f7,#2dff77,#36ff76,#3fff74,#48ff73,#50ff71,#57ff6e,#5eff6c,#63ff69,#68ff65,#71ff66,#79ff66,#7eff62,#83ff5c,#88ff56,#8eff4f,#95ff47,#9dff3f,#a6ff37,#aeff2e,#b6ff26,#bdff1e,#c4ff16,#ccff0f,#d3ff08,#ddff07,#000,#000,#000,#000,#000,#000,#000,#000,#000,#000,#000,#000,#000,#000,#000,#000,#000,#000,#000,#000,#000,#000,#000,#000)}
.r69{background:linear-gradient(90deg,#08ff7c,#0eff79,#18ff79,#23ff79,#2dff79,#37ff78,#40ff76,#49ff75,#51ff73,#58ff70,#5fff6e,#64ff6b,#69ff67,#72ff68,#7aff67,#7fff64,#84ff5e,#89ff58,#8fff51,#96ff49,#9eff41,#a6ff39,#aeff31,#b6ff28,#beff20,#c5ff18,#cf1,#d4ff0a,#ddff06,#e6ff08,#000,#000,#000,#000,#000,#000,#000,#000,#000,#000,#000,#000,#000,#000,#000,#000,#000,#000,#000,#000,#000,#000,#000)}
.r70{background:linear-gradient(90deg,#08ff7e,#0eff7b,#18ff7b,#23ff7b,#2dff7b,#37ff7a,#40ff78,#49ff77,#51ff75,#59ff72,#5fff70,#65ff6d,#6aff69,#72ff69,#7bff69,#80ff66,#85ff60,#8aff5a,#90ff53,#97ff4c,#9fff44,#a7ff3b,#afff33,#b7ff2b,#beff22,#c5ff1a,#cdff13,#d5ff0b,#ddff06,#e7ff07,#000,#000,#000,#000,#000,#000,#000,#000,#000,#000,#000,#000,#000,#000,#000,#000,#000,#000,#000,#000,#000,#000,#000)}
.r71{background:linear-gradient(90deg,#08ff7f,#0dff7d,#18ff7d,#23ff7d,#2dff7d,#37ff7c,#41ff7a,#4aff79,#52ff76,#59ff74,#60ff72,#66ff6f,#6cff6c,#73ff6b,#7bff6b,#81ff67,#86ff62,#8bff5c,#91ff55,#98ff4e,#9fff46,#a7ff3e,#b0ff35,#b7ff2d,#bfff24,#c6ff1c,#ceff15,#d5ff0d,#deff07,#e7ff07,#000,#000,#000,#000,#000,#000,#000,#000,#000,#000,#000,#000,#000,#000,#000,#000,#000,#000,#000,#000,#000,#000,#000)}
.r72{background:linear-gradient(90deg,#08ff81,#0dff7f,#18ff7f,#23ff7f,#2dff7f,#38ff7e,#41ff7c,#4aff7a,#52ff78,#5aff76,#61ff74,#67ff71,#6dff6e,#73ff6c,#7cff6c,#82ff69,#87ff65,#8cff5e,#92ff58,#99ff50,#a0ff48,#a8ff40,#b0ff37,#b8ff2f,#bfff27,#c7ff1f,#ceff17,#d6ff0f,#deff08,#e8ff07,#000,#000,#000,#000,#000,#000,#000,#000,#000,#000,#000,#000,#000,#000,#000,#000,#000,#000,#000,#000,#000,#000,#000)}
.r73{background:linear-gradient(90deg,#08ff83,#0dff81,#18ff81,#23ff81,#2eff81,#38ff80,#42ff7e,#4aff7c,#53ff7a,#5bff78,#62ff76,#68ff73,#6eff70,#74ff6d,#7dff6e,#83ff6b,#88ff67,#8dff61,#93ff5a,#99ff53,#a1ff4b,#a9ff42,#b1ff3a,#b8ff31,#c0ff29,#c7ff21,#cfff19,#d7ff11,#dfff0a,#e8ff07,#f2ff08,#000,#000,#000,#000,#000,#000,#000,#000,#000,#000,#000,#000,#000,#000,#000,#000,#000,#000,#000,#000,#000,#000)}
.r74{background:linear-gradient(90deg,#08ff85,#0dff82,#18ff83,#23ff83,#2eff83,#38ff82,#42ff80,#4bff7e,#53ff7c,#5bff7a,#63ff77,#69ff75,#6fff72,#74ff6e,#7dff6f,#84ff6d,#89ff69,#8eff63,#94ff5c,#9aff55,#a1ff4d,#a9ff45,#b1ff3c,#b9ff34,#c0ff2b,#c8ff23,#cfff1b,#d7ff13,#e0ff0c,#e9ff07,#f2ff08,#000,#000,#000,#000,#000,#000,#000,#000,#000,#000,#000,#000,#000,#000,#000,#000,#000,#000,#000,#000,#000,#000)}
.r75{background:linear-gradient(90deg,#07ff86,#0dff84,#18ff85,#23ff85,#2eff84,#38ff84,#42ff82,#4bff80,#54ff7e,#5cff7c,#64ff79,#6aff77,#70ff74,#75ff70,#7eff71,#85ff6f,#8aff6b,#8fff65,#95ff5f,#9bff57,#a2ff4f,#aaff47,#b2ff3e,#b9ff36,#c1ff2d,#c8ff25,#d0ff1d,#d8ff15,#e0ff0e,#e9ff07,#f3ff08,#000,#000,#000,#000,#000,#000,#000,#000,#000,#000,#000,#000,#000,#000,#000,#000,#000,#000,#000,#000,#000,#000)}
.r76{background:linear-gradient(90deg,#07ff88,#0cff86,#17ff86,#23ff87,#2eff86,#39ff86,#43ff84,#4cff82,#54ff80,#5dff7e,#64ff7b,#6bff79,#71ff76,#76ff72,#7fff72,#86ff71,#8cff6d,#90ff68,#96ff61,#9cff5a,#a3ff52,#aaff49,#b2ff41,#baff38,#c1ff30,#c9ff27,#d1ff1f,#d9ff17,#e1ff10,#eaff09,#f4ff08,#fdff09,#000,#000,#000,#000,#000,#000,#000,#000,#000,#000,#000,#000,#000,#000,#000,#000,#000,#000,#000,#000,#000)}
.r77{background:linear-gradient(90deg,#07ff8a,#0cff87,#17ff88,#23ff88,#2eff88,#39ff87,#43ff86,#4cff84,#55ff82,#5dff7f,#65ff7d,#6cff7b,#72ff78,#77ff74,#7fff74,#87ff73,#8dff70,#91ff6a,#97ff64,#9dff5c,#a4ff54,#abff4c,#b3ff43,#baff3b,#c2ff32,#caff2a,#d1ff22,#d9ff1a,#e2ff12,#ebff0b,#f4ff08,#feff09,#000,#000,#000,#000,#000,#000,#000,#000,#000,#000,#000,#000,#000,#000,#000,#000,#000,#000,#000,#000,#000)}
.r78{background:linear-gradient(90deg,#07ff8b,#0cff89,#17ff8a,#23ff8a,#2eff8a,#39ff89,#43ff88,#4cff86,#55ff84,#5eff81,#66ff7f,#6dff7c,#73ff7a,#79ff76,#80ff75,#88ff75,#8eff72,#93ff6d,#98ff66,#9eff5f,#a4ff57,#acff4e,#b3ff46,#bbff3d,#c2ff34,#caff2c,#d2ff24,#daff1c,#e3ff14,#ecff0d,#f5ff07,#feff09,#000,#000,#000,#000,#000,#000,#000,#000,#000,#000,#000,#000,#000,#000,#000,#000,#000,#000,#000,#000,#000)}
.r79{background:linear-gradient(90deg,#07ff8d,#0cff8a,#17ff8b,#23ff8c,#2eff8b,#39ff8b,#43ff89,#4dff88,#56ff85,#5eff83,#66ff81,#6eff7e,#74ff7c,#7aff78,#80ff77,#89ff77,#8fff74,#94ff6f,#99ff69,#9eff61,#a5ff59,#acff51,#b4ff48,#bbff3f,#c3ff37,#cbff2e,#d3ff26,#dbff1e,#e3ff16,#ecff0f,#f6ff08,#feff09,#000,#000,#000,#000,#000,#000,#000,#000,#000,#000,#000,#000,#000,#000,#000,#000,#000,#000,#000,#000,#000)}
.r80{background:linear-gradient(90deg,#07ff8e,#0cff8c,#17ff8d,#23ff8d,#2eff8d,#39ff8d,#43ff8b,#4dff89,#56ff87,#5fff85,#67ff82,#6eff80,#75ff7e,#7bff7b,#81ff78,#8aff79,#90ff76,#95ff72,#9aff6b,#9fff64,#a6ff5c,#adff53,#b4ff4b,#bcff42,#c4ff39,#cbff31,#d3ff29,#dcff21,#e4ff19,#edff11,#f7ff0a,#ffff09,#fff70b,#000,#000,#000,#000,#000,#000,#000,#000,#000,#000,#000,#000,#000,#000,#000,#000,#000,#000,#000,#000)}
.r81{background:linear-gradient(90deg,#07ff90,#0cff8d,#17ff8e,#23ff8f,#2eff8f,#39ff8e,#43ff8d,#4dff8b,#56ff89,#5fff87,#67ff84,#6fff82,#76ff7f,#7cff7d,#81ff79,#8bff7b,#91ff79,#96ff74,#9bff6e,#a0ff67,#a7ff5f,#aeff56,#b5ff4d,#bdff44,#c4ff3c,#cf3,#d4ff2b,#ddff23,#e5ff1b,#eeff13,#f8ff0c,#fffe09,#fff50b,#000,#000,#000,#000,#000,#000,#000,#000,#000,#000,#000,#000,#000,#000,#000,#000,#000,#000,#000,#000)}
.r82{background:linear-gradient(90deg,#07ff91,#0cff8f,#17ff90,#23ff90,#2eff90,#39ff90,#44ff8f,#4dff8d,#57ff8b,#60ff88,#68ff86,#70ff84,#77ff81,#7dff7f,#82ff7b,#8bff7c,#92ff7b,#97ff77,#9cff70,#a1ff69,#a7ff61,#aeff59,#b6ff50,#bdff47,#c5ff3e,#cdff36,#d5ff2e,#ddff25,#e6ff1d,#efff16,#f9ff0f,#fffd09,#fff40b,#000,#000,#000,#000,#000,#000,#000,#000,#000,#000,#000,#000,#000,#000,#000,#000,#000,#000,#000,#000)}
.r83{background:linear-gradient(90deg,#07ff93,#0bff90,#17ff91,#23ff92,#2eff92,#39ff91,#44ff90,#4eff8f,#57ff8c,#60ff8a,#69ff88,#71ff86,#78ff83,#7eff81,#84ff7e,#8cff7e,#94ff7d,#98ff79,#9dff73,#a2ff6c,#a8ff64,#afff5b,#b6ff52,#beff4a,#c5ff41,#cdff38,#d6ff30,#deff28,#e7ff20,#f0ff18,#faff11,#fffc0a,#fff30b,#000,#000,#000,#000,#000,#000,#000,#000,#000,#000,#000,#000,#000,#000,#000,#000,#000,#000,#000,#000)}
.r84{background:linear-gradient(90deg,#07ff94,#0bff92,#17ff93,#23ff93,#2eff93,#39ff93,#44ff92,#4eff90,#57ff8e,#60ff8c,#69ff8a,#71ff87,#79ff85,#80ff83,#85ff80,#8dff80,#95ff80,#9aff7c,#9eff76,#a3ff6f,#a9ff66,#b0ff5e,#b7ff55,#bfff4c,#c6ff43,#ceff3b,#d7ff33,#dfff2a,#e8ff22,#f1ff1b,#fbff13,#fffa0c,#fff20b,#ffea0d,#000,#000,#000,#000,#000,#000,#000,#000,#000,#000,#000,#000,#000,#000,#000,#000,#000,#000,#000)}
.r85{background:linear-gradient(90deg,#07ff96,#0bff93,#17ff94,#23ff95,#2eff95,#39ff94,#44ff93,#4eff92,#58ff90,#61ff8e,#6aff8b,#72ff89,#7aff87,#81ff85,#86ff82,#8dff81,#96ff82,#9bff7e,#9fff78,#a4ff71,#aaff69,#b1ff61,#b8ff58,#bfff4f,#c7ff46,#cfff3d,#d7ff35,#e0ff2d,#e9ff25,#f2ff1d,#fcff16,#fff90f,#fff00b,#ffe90d,#000,#000,#000,#000,#000,#000,#000,#000,#000,#000,#000,#000,#000,#000,#000,#000,#000,#000,#000)}
.r86{background:linear-gradient(90deg,#07ff97,#0bff95,#17ff95,#22ff96,#2eff96,#39ff96,#44ff95,#4eff94,#58ff92,#61ff8f,#6aff8d,#73ff8b,#7aff89,#82ff87,#88ff84,#8eff83,#97ff84,#9cff81,#a0ff7b,#a5ff74,#abff6c,#b1ff63,#b9ff5a,#c0ff51,#c8ff49,#d0ff40,#d8ff38,#e1ff2f,#eaff27,#f3ff20,#fcff18,#fff811,#ffef0b,#ffe80d,#000,#000,#000,#000,#000,#000,#000,#000,#000,#000,#000,#000,#000,#000,#000,#000,#000,#000,#000)}
.r87{background:linear-gradient(90deg,#07ff99,#0bff96,#17ff97,#22ff97,#2eff98,#39ff97,#44ff97,#4eff95,#58ff93,#62ff91,#6bff8f,#73ff8d,#7bff8b,#82ff89,#89ff87,#8eff84,#97ff86,#9dff83,#a1ff7e,#a6ff77,#acff6f,#b2ff66,#b9ff5d,#c1ff54,#c8ff4b,#d1ff43,#d9ff3a,#e2ff32,#ebff2a,#f4ff22,#feff1b,#fff713,#ffee0c,#ffe60d,#000,#000,#000,#000,#000,#000,#000,#000,#000,#000,#000,#000,#000,#000,#000,#000,#000,#000,#000)}
.r88{background:linear-gradient(90deg,#07ff9a,#0aff97,#16ff98,#2f9,#2eff99,#39ff99,#44ff98,#4eff97,#58ff95,#62ff93,#6bff91,#74ff8f,#7cff8d,#83ff8b,#8aff89,#8fff86,#98ff88,#9eff86,#a3ff80,#a7ff79,#acff71,#b3ff69,#baff60,#c1ff57,#c9ff4e,#d1ff45,#daff3d,#e3ff35,#ecff2d,#f5ff25,#ffff1d,#fff616,#ffed0f,#ffe50d,#ffde0f,#000,#000,#000,#000,#000,#000,#000,#000,#000,#000,#000,#000,#000,#000,#000,#000,#000,#000)}
.r89{background:linear-gradient(90deg,#07ff9c,#0aff99,#16ff9a,#22ff9a,#2eff9a,#39ff9a,#44ff9a,#4fff98,#59ff97,#62ff95,#6bff93,#74ff91,#7dff8f,#84ff8d,#8bff8b,#90ff88,#99ff89,#a0ff88,#a4ff83,#a8ff7c,#adff74,#b4ff6c,#bbff62,#c2ff59,#caff51,#d2ff48,#dbff40,#e4ff37,#edff2f,#f7ff27,#fffe20,#fff418,#ffeb11,#ffe40d,#ffdd0f,#000,#000,#000,#000,#000,#000,#000,#000,#000,#000,#000,#000,#000,#000,#000,#000,#000,#000)}
.r90{background:linear-gradient(90deg,#07ff9d,#0aff9a,#16ff9b,#22ff9b,#2eff9c,#39ff9c,#44ff9b,#4fff9a,#59ff98,#63ff97,#6cff94,#75ff92,#7dff91,#85ff8f,#8cff8d,#92ff8b,#9aff8b,#a1ff8a,#a5ff86,#a9ff7f,#aeff77,#b5ff6e,#bcff65,#c3ff5c,#cbff53,#d3ff4b,#dcff42,#e5ff3a,#eeff32,#f8ff2a,#fffd23,#fff31b,#ffea13,#ffe20d,#ffdb0f,#000,#000,#000,#000,#000,#000,#000,#000,#000,#000,#000,#000,#000,#000,#000,#000,#000,#000)}
.r91{background:linear-gradient(90deg,#07ff9e,#0aff9b,#16ff9c,#22ff9d,#2eff9d,#39ff9d,#44ff9c,#4fff9b,#59ff9a,#63ff98,#6cff96,#75ff94,#7eff92,#86ff91,#8dff8f,#93ff8d,#9bff8d,#a2ff8d,#a6ff88,#aaff82,#b0ff7a,#b6ff71,#bdff68,#c4ff5f,#ccff56,#d4ff4e,#ddff45,#e6ff3d,#f0ff35,#f9ff2d,#fffb25,#fff21e,#ffe916,#ffe10f,#ffda0f,#000,#000,#000,#000,#000,#000,#000,#000,#000,#000,#000,#000,#000,#000,#000,#000,#000,#000)}
.r92{background:linear-gradient(90deg,#07ffa0,#09ff9d,#16ff9d,#22ff9e,#2eff9e,#39ff9e,#44ff9e,#4fff9d,#59ff9c,#63ff9a,#6dff98,#76ff96,#7eff94,#87ff93,#8eff91,#94ff8f,#9bff8f,#a3ff8f,#a8ff8b,#acff85,#b1ff7d,#b7ff74,#beff6b,#c5ff62,#cdff59,#d5ff50,#deff48,#e7ff40,#f1ff37,#faff2f,#fffa28,#fff120,#ffe818,#ffe011,#ffd80f,#ffd211,#000,#000,#000,#000,#000,#000,#000,#000,#000,#000,#000,#000,#000,#000,#000,#000,#000)}
.r93{background:linear-gradient(90deg,#07ffa1,#09ff9e,#16ff9f,#22ff9f,#2effa0,#39ffa0,#44ff9f,#4fff9e,#59ff9d,#63ff9c,#6dff9a,#76ff98,#7fff96,#87ff95,#8fff93,#95ff91,#9cff90,#a4ff91,#a9ff8e,#adff87,#b2ff80,#b8ff77,#beff6e,#c6ff65,#ceff5c,#d6ff53,#dfff4b,#e8ff42,#f2ff3a,#fcff32,#fff92b,#ffef23,#ffe71b,#ffde13,#ffd70f,#ffd011,#000,#000,#000,#000,#000,#000,#000,#000,#000,#000,#000,#000,#000,#000,#000,#000,#000)}
.r94{background:linear-gradient(90deg,#07ffa3,#09ff9f,#15ffa0,#22ffa1,#2effa1,#39ffa1,#44ffa1,#4fffa0,#59ff9f,#64ff9d,#6dff9c,#77ff9a,#80ff98,#88ff97,#90ff95,#97ff94,#9cff92,#a5ff93,#aaff90,#aeff8a,#b3ff82,#b9ff7a,#bfff71,#c7ff67,#cfff5f,#d7ff56,#e0ff4d,#eaff45,#f3ff3d,#fdff35,#fff72e,#ffee26,#ffe61e,#ffdd16,#ffd50f,#ffce11,#000,#000,#000,#000,#000,#000,#000,#000,#000,#000,#000,#000,#000,#000,#000,#000,#000)}
.r95{background:linear-gradient(90deg,#07ffa4,#08ffa1,#15ffa1,#22ffa2,#2dffa2,#39ffa2,#44ffa2,#4fffa1,#5affa0,#64ff9f,#6eff9d,#77ff9c,#80ff9a,#89ff99,#91ff97,#98ff96,#9dff94,#a6ff96,#acff93,#afff8d,#b4ff85,#baff7d,#c0ff74,#c8ff6a,#d0ff61,#d8ff59,#e1ff50,#ebff48,#f4ff40,#feff38,#fff631,#ffed28,#ffe420,#ffdc18,#ffd311,#fc1,#000,#000,#000,#000,#000,#000,#000,#000,#000,#000,#000,#000,#000,#000,#000,#000,#000)}
.r96{background:linear-gradient(90deg,#07ffa6,#08ffa2,#15ffa3,#21ffa3,#2dffa4,#39ffa4,#44ffa3,#4fffa3,#5affa2,#64ffa1,#6eff9f,#78ff9e,#81ff9c,#89ff9b,#92ff99,#99ff98,#9eff96,#a7ff97,#adff96,#b1ff90,#b5ff88,#bbff80,#c2ff76,#c9ff6d,#d1ff64,#d9ff5c,#e2ff53,#ecff4b,#f6ff43,#ffff3b,#fff533,#ffec2b,#ffe323,#ffdb1b,#ffd213,#ffca11,#000,#000,#000,#000,#000,#000,#000,#000,#000,#000,#000,#000,#000,#000,#000,#000,#000)}
.r97{background:linear-gradient(90deg,#07ffa7,#08ffa3,#15ffa4,#21ffa5,#2dffa5,#39ffa5,#44ffa5,#4fffa4,#5affa4,#64ffa2,#6effa1,#78ff9f,#81ff9e,#8aff9c,#92ff9b,#9aff9a,#a0ff98,#a8ff99,#aeff98,#b2ff93,#b7ff8b,#bcff83,#c3ff79,#caff70,#d2ff67,#daff5e,#e4ff56,#edff4e,#f7ff46,#fffd3e,#fff336,#ffeb2e,#ffe226,#ffd91d,#ffd015,#ffc811,#ffc212,#000,#000,#000,#000,#000,#000,#000,#000,#000,#000,#000,#000,#000,#000,#000,#000)}
.r98{background:linear-gradient(90deg,#07ffa9,#07ffa5,#15ffa6,#21ffa6,#2dffa6,#39ffa6,#44ffa6,#4fffa6,#5affa5,#64ffa4,#6fffa3,#78ffa1,#82ffa0,#8bff9e,#93ff9d,#9bff9c,#a1ff9b,#a8ff9b,#afff9b,#b3ff95,#b8ff8e,#bdff86,#c4ff7c,#cbff73,#d3ff6a,#dbff61,#e5ff59,#efff51,#f8ff48,#fffc41,#fff239,#ffe931,#ffe128,#ffd820,#ffcf18,#ffc611,#ffc012,#000,#000,#000,#000,#000,#000,#000,#000,#000,#000,#000,#000,#000,#000,#000,#000)}
.r99{background:linear-gradient(90deg,#07ffaa,#07ffa6,#14ffa7,#21ffa7,#2dffa8,#39ffa8,#44ffa8,#4fffa7,#5affa7,#65ffa6,#6fffa4,#79ffa3,#82ffa2,#8bffa0,#94ff9f,#9cff9e,#a2ff9d,#a9ff9d,#b1ff9d,#b5ff98,#b9ff91,#beff89,#c5ff7f,#ccff76,#d4ff6d,#ddff64,#e6ff5c,#f0ff54,#faff4b,#fffa44,#fff13c,#ffe833,#ffe02b,#ffd722,#ffce1a,#ffc513,#ffbe13,#000,#000,#000,#000,#000,#000,#000,#000,#000,#000,#000,#000,#000,#000,#000,#000)}
.r100{background:linear-gradient(90deg,#07ffac,#07ffa8,#14ffa8,#21ffa9,#2dffa9,#39ffa9,#44ffa9,#4fffa9,#5affa8,#65ffa7,#6fffa6,#79ffa5,#83ffa4,#8cffa2,#94ffa1,#9cffa0,#a3ff9f,#aaff9e,#b2ff9f,#b6ff9b,#baff94,#c0ff8c,#c6ff82,#cdff79,#d5ff70,#deff67,#e7ff5f,#f1ff57,#fbff4e,#fff947,#ffef3f,#ffe736,#ffde2e,#ffd525,#ffcc1d,#ffc315,#ffbc13,#ffb614,#000,#000,#000,#000,#000,#000,#000,#000,#000,#000,#000,#000,#000,#000,#000)}
.r101{background:linear-gradient(90deg,#07ffae,#07ffa9,#14ffaa,#20ffaa,#2dffaa,#39ffab,#4fa,#4fffaa,#5affa9,#65ffa9,#6fffa8,#79ffa7,#83ffa5,#8cffa4,#95ffa3,#9dffa2,#a4ffa2,#aaffa0,#b3ffa2,#b8ff9e,#bcff97,#c1ff8e,#c7ff85,#ceff7c,#d6ff73,#dfff6a,#e9ff62,#f2ff5a,#fcff51,#fff84a,#ffee42,#ffe639,#ffdd30,#ffd428,#ffcb1f,#ffc217,#ffba13,#ffb414,#000,#000,#000,#000,#000,#000,#000,#000,#000,#000,#000,#000,#000,#000,#000)}
.r102{background:linear-gradient(90deg,#07ffaf,#07ffab,#13ffab,#20ffac,#2dffac,#39ffac,#44ffac,#4fffab,#5affab,#65ffaa,#6fffa9,#7affa8,#83ffa7,#8dffa6,#96ffa5,#9effa5,#a5ffa4,#abffa2,#b4ffa4,#b9ffa1,#bdff9a,#c2ff92,#c8ff88,#cfff7f,#d7ff76,#e0ff6d,#eaff65,#f4ff5c,#feff55,#fff64d,#ffed45,#ffe43c,#ffdc33,#ffd22a,#ffc922,#ffc019,#ffb813,#ffb214,#000,#000,#000,#000,#000,#000,#000,#000,#000,#000,#000,#000,#000,#000,#000)}
.r103{background:linear-gradient(90deg,#07ffb1,#07ffad,#13ffad,#20ffad,#2cffad,#38ffad,#44ffad,#4fffad,#5affac,#65ffac,#70ffab,#7affaa,#84ffa9,#8dffa8,#96ffa7,#9fffa7,#a6ffa6,#adffa5,#b5ffa6,#baffa3,#beff9d,#c3ff95,#c9ff8b,#d0ff82,#d8ff79,#e1ff70,#ebff68,#f5ff5f,#ffff58,#fff550,#ffec47,#ffe33f,#ffda36,#ffd12d,#ffc824,#ffbe1c,#ffb614,#ffb014,#000,#000,#000,#000,#000,#000,#000,#000,#000,#000,#000,#000,#000,#000,#000)}
.r104{background:linear-gradient(90deg,#07ffb3,#07ffae,#13ffae,#20ffaf,#2cffaf,#38ffaf,#44ffaf,#4fffae,#5bffae,#65ffad,#70ffad,#7affac,#84ffab,#8effaa,#97ffa9,#9fffa9,#a7ffa8,#aeffa7,#b6ffa8,#bcffa6,#c0ffa0,#c5ff98,#cbff8e,#d2ff85,#daff7c,#e3ff73,#edff6b,#f7ff62,#fffd5b,#fff353,#ffea4a,#ffe241,#ffd939,#ffcf30,#ffc627,#ffbd1e,#ffb416,#ffaf14,#ffab15,#000,#000,#000,#000,#000,#000,#000,#000,#000,#000,#000,#000,#000,#000)}
.r105{background:linear-gradient(90deg,#07ffb4,#07ffb0,#12ffb0,#20ffb0,#2cffb0,#38ffb0,#44ffb0,#4fffb0,#5bffaf,#65ffaf,#70ffae,#7affae,#84ffad,#8effac,#97ffab,#a0ffab,#a8ffaa,#afffa9,#b7ffaa,#bdffa9,#c1ffa3,#c6ff9b,#ccff91,#d3ff88,#dbff7f,#e4ff76,#eeff6e,#f8ff66,#fffc5e,#fff256,#ffe94d,#ffe044,#ffd73b,#ffce32,#ffc529,#ffbc20,#ffb318,#ffad14,#ffa915,#000,#000,#000,#000,#000,#000,#000,#000,#000,#000,#000,#000,#000,#000)}
.r106{background:linear-gradient(90deg,#07ffb6,#07ffb2,#12ffb1,#1fffb2,#2cffb2,#38ffb2,#44ffb2,#4fffb1,#5bffb1,#66ffb0,#70ffb0,#7bffaf,#85ffaf,#8effae,#98ffad,#a1ffad,#a9ffac,#b0ffac,#b7ffac,#bfffab,#c3ffa6,#c7ff9e,#cdff94,#d4ff8b,#dcff82,#e5ff79,#efff71,#faff69,#fffa61,#fff059,#ffe850,#ffdf47,#ffd63e,#ffcc35,#ffc32c,#ffba23,#ffb21b,#ffab14,#ffa815,#000,#000,#000,#000,#000,#000,#000,#000,#000,#000,#000,#000,#000,#000)}
.r107{background:linear-gradient(90deg,#07ffb8,#07ffb4,#12ffb3,#1fffb3,#2cffb3,#38ffb3,#44ffb3,#4fffb3,#5bffb2,#66ffb2,#70ffb2,#7bffb1,#85ffb1,#8fffb0,#98ffaf,#a1ffaf,#aaffae,#b1ffae,#b8ffad,#c0ffae,#c4ffa9,#c8ffa1,#ceff97,#d5ff8e,#ddff85,#e7ff7c,#f1ff74,#fbff6c,#fff964,#ffef5c,#ffe653,#ffde4a,#ffd441,#ffcb37,#ffc22e,#ffb925,#ffb01d,#ffa915,#ffa615,#000,#000,#000,#000,#000,#000,#000,#000,#000,#000,#000,#000,#000,#000)}
.r108{background:linear-gradient(90deg,#07ffba,#07ffb5,#11ffb5,#1fffb5,#2bffb5,#38ffb5,#44ffb5,#4fffb4,#5bffb4,#66ffb4,#70ffb3,#7bffb3,#85ffb2,#8fffb2,#98ffb1,#a2ffb1,#abffb0,#b2ffb0,#b8ffaf,#c1ffb0,#c5ffab,#caffa4,#d0ff9a,#d7ff91,#dfff88,#e8ff7f,#f2ff77,#fdff6f,#fff767,#ffee5e,#ffe556,#ffdc4c,#ffd343,#ffc93a,#ffc031,#ffb728,#ffaf1f,#ffa917,#ffa515,#ffa315,#000,#000,#000,#000,#000,#000,#000,#000,#000,#000,#000,#000,#000)}
.r109{background:linear-gradient(90deg,#07ffbb,#07ffb7,#11ffb6,#1effb7,#2bffb7,#38ffb6,#44ffb6,#4fffb6,#5bffb6,#66ffb5,#71ffb5,#7bffb4,#85ffb4,#8fffb4,#99ffb3,#a2ffb3,#abffb2,#b3ffb2,#baffb1,#c2ffb3,#c7ffae,#cbffa7,#d1ff9d,#d8ff94,#e0ff8b,#e9ff82,#f4ff7a,#feff72,#fff66a,#ffec61,#ffe458,#ffdb4f,#ffd146,#ffc83c,#ffbf33,#ffb62a,#ffae21,#ffa819,#ffa415,#ffa215,#000,#000,#000,#000,#000,#000,#000,#000,#000,#000,#000,#000,#000)}
.r110{background:linear-gradient(90deg,#07ffbd,#07ffb9,#11ffb8,#1effb8,#2bffb8,#38ffb8,#44ffb8,#4fffb7,#5bffb7,#66ffb7,#71ffb6,#7bffb6,#85ffb6,#8fffb6,#99ffb5,#a3ffb5,#acffb4,#b4ffb4,#bbffb4,#c4ffb5,#c8ffb1,#cdffaa,#d2ffa0,#d9ff97,#e1ff8e,#ebff85,#f5ff7d,#fffe75,#fff46d,#ffeb64,#ffe25b,#ffd952,#ffd048,#ffc63f,#ffbd35,#ffb52c,#ffad23,#ffa71b,#ffa215,#ffa115,#000,#000,#000,#000,#000,#000,#000,#000,#000,#000,#000,#000,#000)}
.r111{background:linear-gradient(90deg,#06ffbf,#07ffbb,#10ffba,#1effba,#2bffba,#37ffba,#43ffb9,#4fffb9,#5bffb9,#66ffb8,#71ffb8,#7bffb8,#86ffb8,#90ffb7,#99ffb7,#a3ffb7,#acffb6,#b5ffb6,#bcffb6,#c4ffb7,#caffb4,#ceffad,#d3ffa3,#daff9a,#e3ff91,#ecff88,#f7ff80,#fffd78,#fff370,#ffea67,#ffe15e,#ffd755,#ffce4b,#ffc541,#ffbc38,#ffb42f,#ffad26,#ffa71d,#ffa216,#ff9f15,#000,#000,#000,#000,#000,#000,#000,#000,#000,#000,#000,#000,#000)}
.r112{background:linear-gradient(90deg,#06ffc1,#07ffbd,#10ffbc,#1effbc,#2bffbc,#37ffbb,#43ffbb,#4fffbb,#5bffba,#66ffba,#71ffba,#7bffb9,#86ffb9,#90ffb9,#9affb9,#a3ffb9,#adffb8,#b6ffb8,#beffb8,#c5ffb9,#cbffb7,#cfffb0,#d5ffa6,#dcff9d,#e4ff94,#eeff8b,#f8ff83,#fffb7b,#fff173,#ffe86a,#ffdf61,#ffd657,#ffcc4e,#ffc344,#ffba3a,#ffb331,#ffac28,#ffa61f,#ffa118,#ff9e15,#ff9b16,#000,#000,#000,#000,#000,#000,#000,#000,#000,#000,#000,#000)}
.r113{background:linear-gradient(90deg,#06ffc3,#07ffbf,#0fffbd,#1dffbe,#2affbd,#37ffbd,#43ffbd,#4fffbd,#5bffbc,#66ffbc,#71ffbb,#7cffbb,#86ffbb,#90ffbb,#9affbb,#a4ffbb,#adffba,#b7ffba,#bfffba,#c6ffba,#cdffb9,#d1ffb3,#d6ffa9,#ddffa0,#e5ff97,#efff8e,#faff86,#fffa7e,#fff076,#ffe76d,#ffde63,#ffd45a,#ffcb50,#ffc246,#ffb93d,#ffb233,#ffac2a,#ffa622,#ffa01a,#ff9c15,#ff9915,#000,#000,#000,#000,#000,#000,#000,#000,#000,#000,#000,#000)}
.r114{background:linear-gradient(90deg,#06ffc5,#06ffc1,#0fffbf,#1dffbf,#2affbf,#37ffbf,#43ffbf,#4fffbe,#5bffbe,#66ffbd,#71ffbd,#7cffbd,#86ffbd,#90ffbd,#9affbd,#a4ffbd,#aeffbd,#b7ffbd,#c0ffbd,#c7ffbc,#ceffbc,#d2ffb5,#d7ffac,#deffa3,#e7ff9a,#f1ff92,#fbff89,#fff881,#ffee78,#ffe56f,#ffdc66,#ffd25c,#ffc953,#ffc049,#ffb83f,#ffb136,#ffab2c,#ffa624,#ffa01b,#ff9a15,#ff9715,#000,#000,#000,#000,#000,#000,#000,#000,#000,#000,#000,#000)}
.r115{background:linear-gradient(90deg,#000,#06ffc3,#0effc1,#1dffc1,#2affc1,#37ffc1,#43ffc0,#4fffc0,#5bffc0,#66ffbf,#71ffbf,#7cffbe,#86ffbe,#90ffbe,#9bffbf,#a4ffbf,#aeffbf,#b8ffbf,#c1ffbf,#c7ffbe,#d0ffbf,#d4ffb8,#d9ffaf,#e0ffa6,#e8ff9d,#f2ff95,#fdff8d,#fff684,#ffed7b,#ffe472,#ffda69,#ffd15f,#ffc855,#ffbf4b,#ffb741,#ffb138,#ffab2f,#ffa526,#ff9f1d,#ff9816,#ff9415,#000,#000,#000,#000,#000,#000,#000,#000,#000,#000,#000,#000)}
.r116{background:linear-gradient(90deg,#000,#06ffc5,#0effc3,#1cffc3,#2affc3,#36ffc3,#43ffc2,#4fffc2,#5bffc1,#66ffc1,#71ffc1,#7cffc0,#86ffc0,#91ffc0,#9bffc0,#a5ffc1,#afffc1,#b8ffc1,#c1ffc1,#c9ffc0,#d1ffc1,#d5ffbb,#daffb2,#e1ffa9,#e9ffa0,#f4ff98,#feff90,#fff587,#ffec7e,#ffe275,#ffd96b,#ffcf61,#ffc657,#ffbe4e,#ffb744,#ffb03a,#ffaa31,#ffa428,#ff9e1f,#ff9618,#ff9115,#ff8d15,#000,#000,#000,#000,#000,#000,#000,#000,#000,#000,#000)}
.r117{background:linear-gradient(90deg,#000,#06ffc7,#0dffc5,#1cffc5,#29ffc5,#36ffc5,#43ffc4,#4fffc4,#5bffc3,#66ffc3,#71ffc2,#7cffc2,#87ffc2,#91ffc2,#9bffc2,#a5ffc2,#afffc3,#b9ffc3,#c2ffc3,#caffc3,#d2ffc3,#d7ffbe,#dbffb5,#e2ffac,#ebffa3,#f5ff9a,#fffe92,#fff38a,#ffea81,#ffe177,#ffd76e,#ffce64,#ffc55a,#ffbd50,#ffb646,#ffb03c,#fa3,#ffa32a,#ff9c21,#ff9519,#ff8e15,#ff8a15,#000,#000,#000,#000,#000,#000,#000,#000,#000,#000,#000)}
.r118{background:linear-gradient(90deg,#000,#06ffc9,#0dffc7,#1bffc7,#29ffc7,#36ffc6,#43ffc6,#4fffc6,#5bffc5,#66ffc5,#71ffc4,#7cffc4,#87ffc4,#91ffc4,#9bffc4,#a5ffc4,#afffc5,#b9ffc5,#c3ffc5,#cbffc5,#d3ffc6,#d8ffc1,#ddffb8,#e4ffaf,#ecffa6,#f7ff9d,#fffc95,#fff28d,#ffe984,#ffdf7a,#ffd570,#fc6,#ffc35c,#ffbc52,#ffb648,#ffb03f,#ffa935,#ffa22c,#ff9a23,#ff921b,#ff8b15,#ff8715,#000,#000,#000,#000,#000,#000,#000,#000,#000,#000,#000)}
.r119{background:linear-gradient(90deg,#000,#06ffcc,#0cffc9,#1bffc9,#29ffc9,#36ffc8,#42ffc8,#4fffc8,#5bffc7,#66ffc7,#71ffc6,#7cffc6,#87ffc6,#91ffc6,#9bffc6,#a6ffc6,#b0ffc7,#baffc7,#c4ffc7,#ccffc7,#d4ffc7,#d9ffc4,#deffbb,#e5ffb1,#eeffa8,#f8ffa0,#fffb98,#fff08f,#ffe786,#ffdd7c,#ffd473,#ffca69,#ffc25f,#fb5,#ffb54b,#ffaf41,#ffa837,#ffa02e,#ff9825,#ff901d,#ff8816,#ff8314,#000,#000,#000,#000,#000,#000,#000,#000,#000,#000,#000)}
.r120{background:linear-gradient(90deg,#000,#06ffce,#0bffcb,#1bffcb,#29ffcb,#36ffca,#42ffca,#4fffca,#5bffc9,#66ffc9,#71ffc8,#7cffc8,#87ffc7,#91ffc7,#9cffc8,#a6ffc8,#b0ffc9,#baffc9,#c4ffc9,#cdffc9,#d5ffc9,#dbffc7,#e0ffbe,#e6ffb4,#efffab,#faffa3,#fff99a,#ffef92,#ffe689,#ffdc7f,#ffd275,#ffc96b,#ffc161,#ffbb57,#ffb54d,#ffae43,#ffa73a,#ff9f30,#ff9627,#ff8e1f,#ff8517,#ff8014,#ff7b14,#000,#000,#000,#000,#000,#000,#000,#000,#000,#000)}
.r121{background:linear-gradient(90deg,#000,#06ffd0,#0bffce,#1affcd,#28ffcd,#35ffcd,#42ffcc,#4fffcc,#5affcb,#66ffcb,#71ffca,#7cffca,#87ffc9,#91ffc9,#9cffc9,#a6ffca,#b0ffca,#bbffcb,#c5ffcb,#ceffcb,#d6ffcb,#dcffc9,#e1ffc1,#e8ffb7,#f0ffae,#fbffa6,#fff89d,#ffee95,#ffe48b,#ffda81,#ffd077,#ffc86d,#ffc163,#ffba59,#ffb44f,#ffad45,#ffa53c,#ff9d32,#ff9429,#ff8b21,#ff8319,#ff7c14,#ff7814,#000,#000,#000,#000,#000,#000,#000,#000,#000,#000)}
.r122{background:linear-gradient(90deg,#000,#06ffd2,#0affd0,#1affd0,#28ffcf,#35ffcf,#42ffce,#4effce,#5affcd,#66ffcd,#71ffcc,#7cffcc,#87ffcb,#92ffcb,#9cffcb,#a6ffcc,#b1ffcc,#bbffcd,#c5ffcd,#cfffcd,#d7ffcd,#deffcc,#e2ffc4,#e9ffba,#f2ffb1,#fdffa9,#fff6a0,#ffec97,#ffe28e,#ffd884,#ffcf7a,#ffc76f,#ffc065,#ffba5c,#ffb351,#ffac48,#ffa33e,#ff9a34,#ff912b,#ff8922,#ff801a,#ff7814,#ff7413,#000,#000,#000,#000,#000,#000,#000,#000,#000,#000)}
.r123{background:linear-gradient(90deg,#000,#06ffd5,#09ffd2,#19ffd2,#28ffd1,#35ffd1,#42ffd0,#4effd0,#5affcf,#66ffcf,#71ffce,#7cffce,#87ffcd,#92ffcd,#9cffcd,#a7ffce,#b1ffce,#bbffcf,#c6ffcf,#d0ffcf,#d8ffcf,#dfffcf,#e4ffc7,#eaffbd,#f3ffb4,#feffac,#fff5a3,#ffeb9a,#ffe190,#ffd786,#ffcd7c,#ffc672,#ffc068,#ffb95e,#ffb254,#ffaa4a,#ffa140,#ff9836,#ff8f2d,#ff8624,#ff7d1c,#ff7515,#ff7013,#000,#000,#000,#000,#000,#000,#000,#000,#000,#000)}
.r124{background:linear-gradient(90deg,#000,#06ffd7,#09ffd4,#19ffd4,#27ffd4,#35ffd3,#42ffd3,#4effd2,#5affd2,#66ffd1,#71ffd0,#7dffd0,#87ffcf,#92ffcf,#9cffcf,#a7ffcf,#b1ffd0,#bcffd1,#c6ffd1,#d0ffd2,#d9ffd2,#e1ffd1,#e5ffca,#ebffc0,#f5ffb7,#fffeae,#fff3a5,#ffe99c,#ffdf92,#ffd588,#ffcc7e,#ffc574,#ffbf6a,#ffb860,#ffb056,#ffa84c,#ff9e42,#ff9538,#ff8c2f,#ff8326,#ff7b1e,#ff7216,#ff6d13,#ff6912,#000,#000,#000,#000,#000,#000,#000,#000,#000)}
.r125{background:linear-gradient(90deg,#000,#06ffd9,#08ffd7,#18ffd6,#27ffd6,#35ffd5,#42ffd5,#4effd4,#5affd4,#66ffd3,#72ffd3,#7dffd2,#88ffd2,#92ffd1,#9dffd1,#a7ffd1,#b1ffd2,#bcffd3,#c7ffd3,#d1ffd4,#daffd4,#e2ffd4,#e6ffcd,#edffc3,#f6ffba,#fffdb0,#fff2a8,#ffe89f,#ffdd95,#ffd38a,#ffcb80,#ffc576,#ffbf6c,#ffb762,#ffae58,#ffa54e,#ff9c44,#ff923a,#ff8931,#ff8128,#ff781f,#ff6f17,#ff6912,#ff6512,#000,#000,#000,#000,#000,#000,#000,#000,#000)}
.r126{background:linear-gradient(90deg,#000,#06ffdc,#07ffd9,#18ffd9,#27ffd8,#34ffd8,#41ffd7,#4effd7,#5affd6,#66ffd5,#72ffd5,#7dffd4,#88ffd4,#92ffd3,#9dffd3,#a7ffd3,#b2ffd4,#bcffd5,#c7ffd5,#d1ffd6,#dbffd6,#e3ffd6,#e8ffd0,#eeffc6,#f7ffbd,#fffbb3,#fff1aa,#ffe6a1,#ffdb97,#ffd28d,#ffca82,#ffc478,#ffbd6f,#ffb565,#ffac5a,#ffa350,#ff9946,#ff903c,#ff8733,#ff7e2a,#ff7521,#ff6c19,#ff6512,#ff6111,#000,#000,#000,#000,#000,#000,#000,#000,#000)}
.r127{background:linear-gradient(90deg,#000,#06ffde,#06ffdb,#18ffdb,#26ffdb,#34ffda,#41ffd9,#4effd9,#5affd8,#66ffd8,#72ffd7,#7dffd7,#88ffd6,#93ffd6,#9dffd5,#a8ffd5,#b2ffd6,#bdffd7,#c7ffd7,#d2ffd8,#dcffd8,#e4ffd8,#e9ffd3,#efffc9,#f9ffbf,#fffab6,#ffefad,#ffe4a3,#ffda99,#ffd18f,#ffca85,#ffc47b,#ffbc71,#ffb367,#ffaa5c,#ffa052,#ff9648,#ff8d3e,#ff8435,#ff7b2b,#ff7223,#ff6a1a,#ff6113,#ff5d11,#000,#000,#000,#000,#000,#000,#000,#000,#000)}
.r128{background:linear-gradient(90deg,#000,#06ffe1,#06ffde,#17ffde,#26ffdd,#34ffdd,#41ffdc,#4effdb,#5affdb,#66ffda,#72ffd9,#7dffd9,#88ffd8,#93ffd8,#9dffd8,#a8ffd8,#b2ffd8,#bdffd9,#c8ffd9,#d2ffda,#ddffda,#e5ffd9,#ebffd6,#f1ffcb,#faffc2,#fff8b8,#ffeeb0,#ffe3a6,#ffd89b,#ffd091,#ffc987,#ffc27d,#ffba73,#ffb169,#ffa75f,#ff9d54,#ff944a,#ff8a40,#ff8136,#ff782d,#ff7024,#ff671c,#ff5f14,#ff5a10,#ff560f,#000,#000,#000,#000,#000,#000,#000,#000)}
.r129{background:linear-gradient(90deg,#000,#06ffe3,#06ffe1,#16ffe0,#26ffe0,#34ffdf,#41ffde,#4effde,#5affdd,#66ffdc,#72ffdc,#7dffdb,#88ffdb,#93ffda,#9effda,#a8ffda,#b3ffda,#bdffdb,#c8ffdb,#d3ffdc,#ddffdc,#e6ffdc,#ecffd9,#f2ffce,#fcffc5,#fff7bb,#ffecb2,#ffe1a8,#ffd79d,#ffd093,#ffc989,#ffc17f,#ffb875,#ffae6b,#ffa461,#ff9a56,#ff914c,#ff8742,#ff7e38,#ff762f,#ff6d26,#ff641d,#ff5c15,#ff5610,#ff530f,#000,#000,#000,#000,#000,#000,#000,#000)}
.r130{background:linear-gradient(90deg,#000,#06ffe6,#06ffe3,#16ffe3,#25ffe2,#33ffe2,#41ffe1,#4effe0,#5affe0,#66ffdf,#72ffde,#7dffde,#8fd,#93ffdd,#9effdc,#a8ffdc,#b3ffdc,#beffdd,#c8ffdd,#d3ffde,#deffde,#e7ffde,#eeffdb,#f3ffd1,#fdffc8,#fff5be,#ffebb4,#ffdfaa,#ffd6a0,#ffcf95,#ffc78b,#ffbe81,#ffb577,#ffac6d,#ffa263,#ff9858,#ff8e4e,#ff8544,#ff7c3a,#ff7331,#ff6a28,#ff611f,#ff5916,#ff520f,#ff4f0e,#000,#000,#000,#000,#000,#000,#000,#000)}
.r131{background:linear-gradient(90deg,#000,#06ffe9,#06ffe6,#15ffe6,#25ffe5,#33ffe4,#40ffe4,#4dffe3,#5affe2,#66ffe2,#72ffe1,#7dffe0,#88ffe0,#93ffdf,#9effdf,#a9ffdf,#b3ffdf,#beffdf,#c9ffdf,#d4ffe0,#deffe0,#e8ffe0,#efffde,#f5ffd4,#ffffcb,#fff4c1,#ffe9b7,#ffdeac,#ffd6a2,#ffce97,#ffc58d,#ffbc83,#ffb379,#ffa96f,#ff9f65,#ff955a,#ff8b50,#ff8246,#ff793c,#ff7032,#ff6829,#ff5f20,#ff5618,#ff4e10,#ff4b0e,#000,#000,#000,#000,#000,#000,#000,#000)}
.r132{background:linear-gradient(90deg,#000,#06ffeb,#06ffe9,#15ffe8,#24ffe8,#33ffe7,#40ffe6,#4dffe6,#5affe5,#66ffe4,#72ffe4,#7dffe3,#89ffe2,#94ffe2,#9effe1,#a9ffe1,#b4ffe1,#beffe1,#c9ffe2,#d4ffe2,#dfffe3,#e9ffe2,#f1ffe1,#f6ffd8,#fffece,#fff3c3,#ffe7b9,#ffddae,#ffd5a4,#ffcd9a,#ffc38f,#ffb986,#ffb07c,#ffa672,#ff9c67,#ff925c,#ff8852,#ff7f47,#ff763e,#ff6e34,#ff652b,#ff5c22,#ff5319,#ff4b11,#ff470d,#ff450c,#000,#000,#000,#000,#000,#000,#000)}
.r133{background:linear-gradient(90deg,#000,#06ffee,#06ffec,#14ffeb,#24ffea,#32ffea,#40ffe9,#4dffe8,#5affe8,#66ffe7,#72ffe6,#7dffe6,#89ffe5,#94ffe4,#9fffe4,#a9ffe4,#b4ffe4,#bfffe4,#caffe4,#d4ffe4,#dfffe5,#eaffe4,#f2ffe4,#f7ffdb,#fffccf,#fff1c6,#ffe6bb,#ffdcb0,#ffd4a6,#ffca9c,#ffc092,#ffb788,#ffad7e,#ffa374,#ff9a69,#ff905e,#ff8653,#ff7c49,#ff733f,#ff6b36,#ff622d,#ff5923,#ff511a,#ff4912,#ff430d,#ff410b,#000,#000,#000,#000,#000,#000,#000)}
.r134{background:linear-gradient(90deg,#000,#05fff1,#06ffef,#13ffee,#23ffed,#32ffec,#40ffec,#4dffeb,#5affea,#66ffea,#72ffe9,#7dffe8,#89ffe8,#94ffe7,#9fffe7,#aaffe6,#b4ffe6,#bfffe6,#caffe6,#d5ffe6,#e0ffe7,#eaffe7,#f3ffe6,#f9ffde,#fffbd2,#fff0c8,#ffe4bd,#ffdcb3,#ffd2a8,#ffc89e,#ffbe94,#ffb48a,#ffaa80,#ffa176,#ff976b,#ff8d60,#ff8355,#ff7a4b,#ff7141,#ff6838,#ff602e,#ff5725,#ff4e1c,#ff4613,#ff3f0c,#ff3d0b,#000,#000,#000,#000,#000,#000,#000)}
.r135{background:linear-gradient(90deg,#000,#05fff3,#06fff2,#13fff1,#23fff0,#32ffef,#40ffee,#4dffee,#5affed,#66ffec,#72ffec,#7effeb,#89ffea,#94ffea,#9fffea,#aaffe9,#b5ffe9,#c0ffe9,#caffe9,#d5ffe9,#e0ffe9,#ebffe9,#f4ffe8,#faffe1,#fffad5,#ffeecb,#ffe4c0,#ffdbb5,#ffd0aa,#ffc5a0,#ffbb96,#ffb18c,#ffa882,#ff9e78,#ff946d,#ff8a62,#ff8157,#ff774d,#ff6e43,#ff6639,#ff5d30,#ff5427,#ff4b1d,#ff4315,#ff3c0d,#ff3a0a,#000,#000,#000,#000,#000,#000,#000)}
.r136{background:linear-gradient(90deg,#000,#05fff6,#06fff4,#12fff3,#22fff3,#31fff2,#3ffff1,#4dfff1,#59fff0,#66ffef,#72ffef,#7effee,#89ffed,#94ffed,#9fffec,#aaffec,#b5ffec,#c0ffec,#cbffec,#d6ffeb,#e0ffeb,#ebffeb,#f5ffeb,#fbffe5,#fff8d8,#ffedcd,#ffe3c2,#ffd9b7,#ffcdad,#ffc3a3,#ffb998,#ffaf8e,#ffa584,#ff9c7a,#ff926f,#ff8864,#ff7e59,#ff754f,#ff6c45,#ff633b,#ff5b31,#ff5228,#ff491f,#ff4116,#ff390e,#ff360a,#ff3508,#000,#000,#000,#000,#000,#000)}
.r137{background:linear-gradient(90deg,#000,#05fff9,#05fff7,#11fff6,#22fff6,#31fff5,#3ffff4,#4cfff3,#59fff3,#66fff2,#72fff1,#7efff1,#89fff0,#94fff0,#a0ffef,#aaffef,#b5ffef,#c0ffef,#cbffee,#d6ffee,#e1ffed,#ebffed,#f6ffed,#fcffe8,#fff7db,#ffecd0,#ffe2c4,#ffd6b9,#ffcbaf,#ffc0a5,#ffb69b,#ffad91,#ffa387,#ff9a7c,#ff9071,#ff8666,#ff7c5b,#ff7350,#ff6946,#ff613d,#ff5833,#ff4f2a,#ff4720,#ff3e17,#ff370f,#ff3209,#ff3107,#000,#000,#000,#000,#000,#000)}
.r138{background:linear-gradient(90deg,#000,#05fffc,#05fffa,#11fff9,#21fff8,#31fff8,#3ffff7,#4cfff6,#59fff6,#66fff5,#72fff4,#7efff4,#89fff3,#95fff3,#a0fff2,#abfff2,#b6fff2,#c1fff2,#ccfff1,#d7fff1,#e1fff0,#ecffef,#f6ffef,#feffeb,#fff6de,#ffebd2,#ffdfc7,#ffd4bc,#ffc9b2,#ffbea7,#ffb49d,#ffab93,#ffa189,#ff987e,#ff8e73,#ff8468,#ff7a5d,#ff7052,#ff6748,#ff5e3e,#ff5635,#ff4d2b,#f42,#ff3c19,#ff3410,#ff2e08,#ff2d07,#000,#000,#000,#000,#000,#000)}
.r139{background:linear-gradient(90deg,#000,#000,#05fffd,#10fffc,#21fffb,#30fffb,#3efffa,#4cfff9,#59fff8,#66fff8,#72fff7,#7efff6,#89fff6,#95fff6,#a0fff5,#abfff5,#b6fff5,#c1fff5,#ccfff4,#d7fff4,#e2fff3,#ecfff1,#f6fff1,#ffe,#fff4e1,#ffe9d4,#ffddc9,#ffd2be,#ffc7b4,#ffbcaa,#ffb2a0,#ffa996,#ff9f8b,#ff9681,#ff8c75,#ff826a,#ff785f,#ff6e54,#ff654a,#ff5c40,#ff5436,#ff4b2d,#ff4223,#ff3a1a,#ff3211,#ff2b09,#ff2a06,#000,#000,#000,#000,#000,#000)}
.r140{background:linear-gradient(90deg,#000,#000,#05ffff,#0fffff,#20fffe,#30fffd,#3efffd,#4cfffc,#59fffb,#66fffb,#72fffa,#7efff9,#89fff9,#95fff8,#a0fff8,#abfff8,#b6fff8,#c1fff8,#ccfff7,#d7fff7,#e2fff5,#ecfff4,#f7fff3,#fffef1,#fff3e3,#ffe7d7,#ffdbcc,#ffd0c1,#ffc5b7,#ffbbad,#ffb1a2,#ffa798,#ff9e8e,#ff9483,#ff8a78,#ff806c,#ff7661,#ff6c56,#ff634b,#ff5a42,#ff5138,#ff492e,#ff4025,#ff381c,#ff3012,#ff290a,#ff2605,#ff2603,#000,#000,#000,#000,#000)}
.r141{background:linear-gradient(90deg,#000,#000,#05ffff,#0effff,#20ffff,#2fffff,#3effff,#4bffff,#59fffe,#65fffe,#72fffd,#7efffc,#89fffc,#95fffb,#a0fffb,#abfffb,#b6fffb,#c2fffb,#cdfffa,#d8fffa,#e2fff8,#edfff7,#f7fff6,#fffdf3,#fff1e6,#ffe5da,#ffdacf,#ffcfc4,#ffc4ba,#ffbaaf,#ffb0a5,#ffa69b,#ff9c90,#ff9385,#ff897a,#ff7e6e,#ff7463,#ff6a58,#ff614d,#ff5843,#ff4f3a,#ff4730,#ff3e27,#ff361d,#ff2e14,#ff260b,#ff2205,#ff2203,#000,#000,#000,#000,#000)}
.r142{background:linear-gradient(90deg,#000,#000,#05ffff,#0dffff,#1fffff,#2fffff,#3dffff,#4bffff,#58ffff,#6ff,#72ffff,#7effff,#8affff,#96fffe,#a1fffe,#adfffe,#b8fffe,#c3fffe,#cefffe,#d9fffd,#e4fffb,#eefffa,#f9fff8,#fffbf4,#fff1e9,#ffe5dd,#ffd9d2,#ffcec7,#ffc3bc,#ffb9b2,#ffafa8,#ffa59d,#ff9b93,#ff9188,#ff877c,#ff7d71,#ff7365,#ff695a,#ff5f4f,#ff5645,#ff4e3b,#ff4532,#ff3c28,#ff341f,#ff2c15,#ff240c,#ff1f04,#ff1f02,#000,#000,#000,#000,#000)}
.r143{background:linear-gradient(90deg,#000,#000,#05ffff,#0cffff,#1ffeff,#2efeff,#3dfdff,#4bfdff,#58fcff,#65fcff,#72fcff,#7efcff,#8afdff,#96fdff,#a2fdff,#adfdff,#b9fdff,#c4fdff,#cffdff,#dbfeff,#e6fffe,#f1fffc,#fbfffb,#fff7f4,#ffeee9,#ffe6e1,#ffdad5,#ffceca,#ffc3bf,#ffb9b5,#ffaeaa,#ffa4a0,#ff9a95,#ff908a,#ff867f,#ff7c73,#ff7167,#ff675c,#ff5e51,#ff5547,#ff4c3d,#ff4333,#ff3a2a,#ff3220,#ff2a16,#ff220d,#ff1c04,#ff1b01,#000,#000,#000,#000,#000)}
.r144{background:linear-gradient(90deg,#000,#000,#05fdff,#0bfcff,#1efbff,#2efbff,#3dfaff,#4bfaff,#58f9ff,#65f9ff,#72f9ff,#7efaff,#8afaff,#96faff,#a2faff,#adfaff,#b8faff,#c4faff,#cffaff,#dbfbff,#e6fdff,#f2ffff,#fdffff,#fff4f5,#ffebe9,#ffe2e0,#ffdad8,#ffd0cf,#ffc4c3,#ffb9b8,#ffaead,#ffa4a3,#ff9a98,#ff908d,#ff8581,#ff7b75,#ff7069,#ff665d,#ff5c53,#ff5348,#ff4a3f,#ff4135,#ff392b,#ff3022,#ff2818,#ff200e,#ff1a05,#ff1800,#ff1800,#000,#000,#000,#000)}
.r145{background:linear-gradient(90deg,#000,#000,#05faff,#0af9ff,#1df9ff,#2df8ff,#3cf8ff,#4af7ff,#58f7ff,#65f7ff,#72f7ff,#7ef7ff,#8af7ff,#96f7ff,#a1f7ff,#adf7ff,#b8f7ff,#c3f7ff,#cff7ff,#daf8ff,#e6faff,#f1fbff,#fcfbff,#fff1f5,#ffe8ea,#ffdfdf,#ffd6d6,#ffcfcf,#ffc7c8,#ffbbbc,#ffaeb0,#ffa4a6,#ff9a9b,#ff8f8f,#ff8583,#ff7a77,#ff6f6b,#ff645f,#ff5b54,#ff524a,#ff4940,#ff4037,#ff372d,#ff2e23,#ff2619,#ff1e0f,#ff1806,#ff1500,#ff1500,#000,#000,#000,#000)}
.r146{background:linear-gradient(90deg,#000,#000,#05f7ff,#09f6ff,#1cf6ff,#2df5ff,#3cf5ff,#4af4ff,#57f4ff,#65f4ff,#71f4ff,#7ef4ff,#8af4ff,#96f4ff,#a1f4ff,#acf4ff,#b8f4ff,#c3f4ff,#cef4ff,#d9f5ff,#e5f7ff,#f0f7ff,#fbf8ff,#ffeef5,#ffe5eb,#ffdbdf,#ffd3d6,#ffcbce,#ffc4c7,#ffbcc0,#ffb2b6,#ffa6aa,#ff9a9e,#ff8f92,#ff8586,#ff797a,#ff6e6d,#ff6461,#ff5a56,#ff514c,#ff4842,#ff3f38,#ff362f,#ff2d25,#ff241a,#ff1d10,#ff1607,#f10,#ff1200,#000,#000,#000,#000)}
.r147{background:linear-gradient(90deg,#000,#000,#05f5ff,#08f3ff,#1cf3ff,#2cf3ff,#3bf2ff,#49f2ff,#57f1ff,#64f1ff,#71f1ff,#7df1ff,#89f1ff,#95f1ff,#a1f1ff,#acf1ff,#b7f1ff,#c2f1ff,#cef2ff,#d9f2ff,#e4f3ff,#eff3ff,#fcf6ff,#ffebf5,#ffe2eb,#ffd8df,#ffcfd5,#ffc7cd,#ffc0c6,#ffb8bf,#ffb1b8,#ffa9af,#ff9da3,#ff9196,#ff8589,#ff797c,#ff6e6f,#ff6363,#ff5958,#ff504e,#ff4644,#ff3d3a,#ff3430,#ff2c26,#ff231c,#ff1b11,#ff1408,#ff0f00,#ff0f00,#000,#000,#000,#000)}
.r148{background:linear-gradient(90deg,#000,#000,#05f2ff,#06f0ff,#1bf0ff,#2cf0ff,#3befff,#49efff,#57efff,#64eeff,#71eeff,#7deeff,#89eeff,#95eeff,#a0eeff,#aceeff,#b7eeff,#c2eeff,#cdefff,#d8efff,#e3efff,#edefff,#fcf5ff,#ffe7f5,#ffe0ec,#ffd5e0,#ffccd6,#ffc4cd,#ffbcc5,#ffb5be,#ffadb6,#ffa6af,#ffa0a8,#ff949b,#ff878e,#ff7a80,#ff6d72,#ff6266,#ff585a,#ff4f50,#ff4646,#ff3c3c,#ff3332,#ff2a28,#ff221d,#ff1a13,#ff1309,#ff0d00,#ff0c00,#ff0d00,#000,#000,#000)}
.r149{background:linear-gradient(90deg,#000,#000,#05efff,#05edff,#1aedff,#2bedff,#3aedff,#49ecff,#56ecff,#64ecff,#70ebff,#7debff,#89ebff,#94ebff,#a0ebff,#abebff,#b6ebff,#c1ebff,#ccecff,#d7ebff,#e1ebff,#ebebff,#fdf3ff,#ffe4f6,#ffddec,#ffd3e1,#ffc9d6,#ffc1cd,#ffb9c5,#ffb1bd,#ffaab5,#ffa3ae,#ff9ca6,#ff949e,#ff8a93,#ff7d85,#ff7077,#ff6369,#ff585c,#ff4e52,#ff4548,#ff3c3e,#ff3234,#ff2929,#ff201f,#ff1814,#ff110a,#ff0b01,#ff0900,#ff0a00,#000,#000,#000)}
.r150{background:linear-gradient(90deg,#000,#000,#05ecff,#05eaff,#19eaff,#2aeaff,#3aeaff,#48eaff,#56e9ff,#63e9ff,#70e9ff,#7ce8ff,#88e8ff,#94e8ff,#9fe8ff,#aae8ff,#b5e8ff,#c0e8ff,#cbe8ff,#d5e8ff,#e0e7ff,#ebe8ff,#fdf0ff,#ffe1f6,#ffdaed,#ffd0e2,#ffc6d7,#ffbecd,#ffb6c4,#ffaebc,#ffa6b4,#ff9fad,#ff98a5,#ff919d,#ff8994,#ff808a,#ff727b,#ff666e,#ff5a61,#ff4f55,#ff444a,#ff3b40,#ff3235,#ff282b,#ff1f20,#ff1715,#ff100b,#ff0a01,#ff0600,#ff0700,#000,#000,#000)}
.r151{background:linear-gradient(90deg,#000,#000,#05eaff,#06e7ff,#19e8ff,#2ae7ff,#39e7ff,#48e7ff,#56e6ff,#63e6ff,#70e6ff,#7ce5ff,#88e5ff,#93e5ff,#9fe5ff,#aae5ff,#b5e5ff,#bfe5ff,#cae4ff,#d4e3ff,#dee3ff,#ece6ff,#fcedff,#ffdef6,#ffd7ed,#ffcde3,#ffc4d8,#ffbbcd,#ffb2c4,#ffaabc,#ffa3b4,#ff9cac,#ff94a4,#ff8d9c,#ff8592,#ff7c89,#ff747f,#ff6872,#ff5c66,#ff515a,#ff464e,#ff3c42,#ff3137,#ff272c,#ff1e21,#ff1617,#ff0f0c,#ff0802,#ff0400,#ff0400,#000,#000,#000)}
.r152{background:linear-gradient(90deg,#000,#000,#05e7ff,#06e5ff,#18e5ff,#29e5ff,#39e4ff,#47e4ff,#55e4ff,#62e3ff,#6fe3ff,#7be3ff,#87e2ff,#93e2ff,#9ee2ff,#a9e2ff,#b4e2ff,#bee1ff,#c9e0ff,#d3dfff,#dddeff,#ede5ff,#fce9ff,#ffdbf6,#ffd4ed,#ffcbe3,#ffc1d8,#ffb8ce,#ffafc4,#ffa7bc,#ff9fb3,#ff98ab,#ff91a3,#ff899b,#ff8191,#ff7987,#ff707d,#ff6774,#ff5f6a,#ff545e,#ff4953,#ff3e47,#ff333b,#ff282f,#ff1e23,#ff1518,#ff0e0d,#ff0704,#ff0200,#ff0100,#ff0300,#000,#000)}
.r153{background:linear-gradient(90deg,#000,#000,#05e4ff,#06e2ff,#17e2ff,#28e2ff,#38e2ff,#47e1ff,#55e1ff,#62e1ff,#6fe0ff,#7be0ff,#87e0ff,#92dfff,#9ddfff,#a8dfff,#b3deff,#bdddff,#c7dcff,#d1dbff,#dbdaff,#ede3ff,#fce6ff,#ffd8f7,#ffd1ee,#ffc8e4,#ffbfd9,#ffb5cf,#ffacc5,#ffa4bc,#ff9cb3,#ff95ab,#ff8da2,#ff869a,#ff7e90,#ff7586,#ff6c7c,#ff6472,#ff5d6a,#ff5663,#ff4b57,#ff404b,#ff353f,#ff2a33,#ff1f26,#ff151a,#ff0d0f,#ff0605,#ff0100,#f00,#f00,#000,#000)}
.r154{background:linear-gradient(90deg,#000,#000,#05e2ff,#06dfff,#16dfff,#28dfff,#37dfff,#46dfff,#54deff,#61deff,#6eddff,#7addff,#86ddff,#91dcff,#9cdcff,#a7dbff,#b2dbff,#bcd9ff,#c6d8ff,#d0d7ff,#dad7ff,#eee1ff,#fce2ff,#ffd5f7,#ffceee,#ffc6e5,#ffbcda,#ffb2d0,#ffa9c5,#ffa1bc,#ff99b3,#ff92aa,#ff8aa2,#ff8299,#ff7a8f,#ff7185,#ff687b,#ff6071,#ff5969,#ff5261,#ff4c59,#ff424f,#ff3743,#ff2c37,#ff212a,#ff171e,#ff0e12,#ff0607,#f00,#f00,#f00,#000,#000)}
.r155{background:linear-gradient(90deg,#000,#000,#05dfff,#06dcff,#15dcff,#27dcff,#37dcff,#46dcff,#53dcff,#61dbff,#6ddbff,#7adaff,#85daff,#91d9ff,#9bd9ff,#a6d8ff,#b0d7ff,#bbd5ff,#c5d4ff,#ced2ff,#dbd5ff,#eedfff,#fcdfff,#ffd2f7,#ffcbef,#ffc3e5,#ffbadb,#ffb0d0,#ffa7c6,#ff9ebc,#ff96b3,#ff8eaa,#ff87a2,#ff7f98,#ff778f,#ff6e84,#ff657a,#ff5d70,#ff5568,#ff4f60,#ff4858,#ff4150,#ff3947,#ff2e3b,#ff232e,#ff1922,#ff1016,#ff080b,#ff0100,#f00,#f00,#000,#000)}
.r156{background:linear-gradient(90deg,#000,#000,#05dcff,#06daff,#14d9ff,#26daff,#36daff,#45d9ff,#53d9ff,#60d8ff,#6dd8ff,#79d7ff,#85d7ff,#90d6ff,#9bd5ff,#a5d4ff,#afd3ff,#b9d1ff,#c3cfff,#cdceff,#dcd4ff,#efddff,#fbdbff,#ffcff7,#ffc8ef,#ffc1e6,#ffb7dc,#ffadd1,#ffa4c7,#ff9bbd,#ff93b3,#ff8baa,#ff84a1,#ff7c98,#ff738e,#ff6a83,#ff6279,#ff596f,#ff5266,#ff4b5e,#ff4456,#ff3d4e,#ff3646,#ff2f3e,#ff2532,#ff1b26,#ff121a,#ff090e,#ff0204,#f00,#f00,#f00,#000)}
.r157{background:linear-gradient(90deg,#000,#000,#05daff,#06d7ff,#13d6ff,#25d7ff,#35d7ff,#44d7ff,#52d6ff,#60d6ff,#6cd5ff,#78d4ff,#84d4ff,#8fd3ff,#9ad2ff,#a4d0ff,#aeceff,#b8cdff,#c2cbff,#cbcaff,#ddd2ff,#efdbff,#fbd7ff,#ffccf8,#ffc5ef,#ffbee7,#ffb5dd,#ffabd2,#ffa1c8,#ff98bd,#ff90b3,#f8a,#ff80a1,#ff7898,#ff708d,#ff6783,#ff5e78,#ff566e,#ff4f65,#ff485d,#ff4155,#ff3a4d,#ff3345,#ff2b3c,#ff2533,#ff1d29,#ff141d,#ff0b12,#ff0407,#f00,#f00,#f00,#000)}
.r158{background:linear-gradient(90deg,#000,#000,#000,#06d4ff,#12d3ff,#25d4ff,#35d4ff,#44d4ff,#52d4ff,#5fd3ff,#6cd2ff,#78d2ff,#83d1ff,#8ecfff,#99ceff,#a3ccff,#adcaff,#b6c8ff,#c0c6ff,#cac6ff,#ded1ff,#efd9ff,#fbd4ff,#ffc8f8,#ffc2f0,#ffbbe7,#ffb2de,#ffa8d3,#ff9ec8,#ff95be,#ff8db4,#ff85aa,#ff7da1,#ff7597,#ff6d8d,#ff6482,#ff5b78,#ff536e,#ff4b65,#ff445c,#ff3e54,#ff374c,#ff2f43,#ff283b,#ff2132,#ff1b29,#ff1521,#ff0d16,#ff060b,#ff0001,#f00,#f00,#000)}
.r159{background:linear-gradient(90deg,#000,#000,#000,#06d1ff,#11d0ff,#24d1ff,#34d1ff,#43d1ff,#51d1ff,#5ed0ff,#6bcfff,#77ceff,#82cdff,#8dccff,#97caff,#a2c8ff,#abc6ff,#b5c4ff,#bec2ff,#cbc4ff,#dfcfff,#efd6ff,#fbd0ff,#ffc5f8,#ffbff0,#ffb8e8,#ffafdf,#ffa5d4,#ff9cc9,#ff92bf,#ff8ab4,#ff82ab,#ff7aa1,#ff7297,#ff6a8d,#ff6182,#ff5877,#ff506d,#ff4864,#ff415b,#ff3a53,#ff334a,#ff2c42,#ff2539,#ff1e31,#ff1828,#ff1220,#ff0d18,#ff070e,#ff0004,#f00,#f00,#000)}
.r160{background:linear-gradient(90deg,#000,#000,#000,#06cfff,#10cdff,#23ceff,#33cfff,#42ceff,#50ceff,#5ecdff,#6accff,#76cbff,#81caff,#8cc8ff,#96c6ff,#a0c4ff,#aac1ff,#b3bfff,#bdbeff,#ccc3ff,#dfcdff,#eed2ff,#faccff,#ffc2f9,#ffbbf0,#ffb5e8,#ffacdf,#ffa3d5,#ff99ca,#ff90bf,#ff87b5,#ff7fab,#ff77a1,#ff6f97,#ff668d,#ff5e82,#f57,#ff4d6d,#ff4563,#ff3e5a,#ff3752,#ff3049,#ff2941,#ff2238,#ff1b2f,#ff1527,#ff0f1f,#ff0a17,#ff070f,#ff0208,#f00,#f00,#f00)}
.r161{background:linear-gradient(90deg,#000,#000,#000,#06ccff,#0fcbff,#2cf,#32ccff,#42ccff,#50cbff,#5dcbff,#69c9ff,#75c8ff,#80c6ff,#8bc4ff,#95c2ff,#9fbfff,#a9bdff,#b2bbff,#bbb9ff,#cdc1ff,#e0cbff,#eeceff,#fac8ff,#ffbef9,#ffb8f1,#ffb2e9,#ffa9e0,#ffa0d6,#ff96cb,#ff8dc0,#ff84b6,#ff7cac,#ff74a2,#ff6c97,#ff638c,#ff5a81,#ff5277,#ff4a6c,#ff4263,#ff3b5a,#ff3451,#ff2d48,#ff2640,#ff1e37,#ff182e,#ff1226,#ff0c1e,#ff0816,#ff040f,#ff0008,#ff0001,#f00,#f00)}
.r162{background:linear-gradient(90deg,#000,#000,#000,#06caff,#0ec8ff,#21c9ff,#32c9ff,#41c9ff,#4fc8ff,#5cc8ff,#69c6ff,#74c4ff,#7fc2ff,#8ac0ff,#94beff,#9ebbff,#a7b8ff,#b0b6ff,#bab5ff,#cebfff,#e0c8ff,#eecaff,#fac4ff,#ffbbf9,#ffb5f1,#ffafe9,#ffa6e0,#ff9dd6,#ff93cc,#ff8ac1,#ff81b6,#ff79ac,#ff71a2,#ff6997,#ff608c,#ff5781,#ff4f76,#ff476c,#ff3f62,#ff3859,#ff3150,#ff2a48,#ff233f,#ff1b36,#ff152d,#ff0f25,#ff091d,#ff0515,#ff010e,#ff0007,#ff0001,#f00,#f00)}
.r163{background:linear-gradient(90deg,#000,#000,#000,#06c7ff,#0cc4ff,#20c6ff,#31c6ff,#40c6ff,#4ec5ff,#5cc4ff,#68c3ff,#74c1ff,#7ebfff,#89bcff,#93b9ff,#9cb6ff,#a6b4ff,#afb2ff,#bbb3ff,#cfbdff,#e0c6ff,#edc6ff,#f9c0ff,#ffb7fa,#ffb1f2,#ffabea,#ffa3e1,#ff9ad7,#ff90cd,#ff87c2,#ff7eb7,#ff76ad,#ff6ea2,#ff6698,#ff5d8d,#ff5481,#ff4c76,#ff446c,#ff3c62,#ff3559,#ff2e50,#ff2747,#ff203e,#ff1935,#ff122d,#ff0c24,#ff071c,#ff0214,#ff000d,#ff0007,#ff0001,#f00,#000)}
.r164{background:linear-gradient(90deg,#000,#000,#000,#06c4ff,#0bc1ff,#1fc3ff,#30c3ff,#3fc3ff,#4ec2ff,#5bc1ff,#67bfff,#73bdff,#7dbbff,#88b8ff,#91b5ff,#9bb2ff,#a4afff,#adadff,#bcb2ff,#cfbbff,#e1c4ff,#edc2ff,#f9bcff,#ffb4fa,#ffaef2,#ffa8ea,#ffa0e1,#ff97d8,#ff8dcd,#ff84c3,#ff7bb8,#ff73ad,#ff6ba3,#ff6398,#ff5a8d,#ff5282,#ff4976,#ff416c,#ff3a62,#ff3258,#ff2b4f,#ff2446,#ff1d3d,#ff1634,#ff0f2c,#ff0923,#ff041b,#ff0014,#ff000d,#ff0007,#ff0003,#f00,#000)}
.r165{background:linear-gradient(90deg,#000,#000,#000,#07c2ff,#09beff,#1ec0ff,#2fc0ff,#3fc0ff,#4dbfff,#5abeff,#66bcff,#72b9ff,#7cb7ff,#87b4ff,#90b1ff,#99aeff,#a3abff,#aca9ff,#bdb0ff,#d0b9ff,#e1c1ff,#ecbeff,#f8b8ff,#ffb0fb,#ffaaf3,#ffa4eb,#ff9de2,#ff94d8,#ff8bce,#ff81c4,#ff78b9,#ff70ae,#ff68a3,#ff6098,#ff578d,#ff4f82,#ff4677,#ff3e6c,#ff3762,#ff3058,#ff294f,#ff2146,#ff1a3d,#ff1334,#ff0c2b,#ff0723,#ff011b,#ff0014,#ff000d,#ff0007,#ff0005,#000,#000)}
.r166{background:linear-gradient(90deg,#000,#000,#000,#07bfff,#07bbff,#1dbdff,#2ebdff,#3ebdff,#4cbcff,#59baff,#66b8ff,#71b6ff,#7bb3ff,#85afff,#8facff,#98a9ff,#a1a7ff,#aaa5ff,#beaeff,#d0b7ff,#e1bfff,#ecbaff,#f8b4ff,#ffacfb,#ffa6f3,#ffa1eb,#ff9ae2,#ff91d9,#ff88cf,#ff7ec4,#ff76ba,#ff6daf,#ff65a4,#ff5d99,#ff548d,#ff4c82,#f47,#ff3c6c,#ff3462,#ff2d58,#ff264e,#ff1f45,#ff173c,#ff1033,#ff0a2b,#ff0422,#ff001b,#ff0013,#ff000d,#ff0009,#ff0006,#000,#000)}
.r167{background:linear-gradient(90deg,#000,#000,#000,#07bdff,#07b8ff,#1cbaff,#2ebaff,#3dbaff,#4bb9ff,#59b7ff,#65b4ff,#70b2ff,#7aaeff,#84abff,#8da8ff,#96a5ff,#a0a2ff,#aba3ff,#bfacff,#d1b5ff,#e1bcff,#ecb6ff,#f8b0ff,#ffa9fc,#ffa3f4,#ff9deb,#ff96e3,#ff8ed9,#ff85d0,#ff7cc5,#ff73ba,#ff6aaf,#ff62a4,#ff5a99,#ff518e,#ff4982,#ff4177,#ff396c,#ff3162,#ff2a58,#ff234e,#ff1c45,#ff153c,#ff0e33,#ff072a,#ff0222,#ff001a,#ff0013,#ff000e,#ff000b,#000,#000,#000)}
.r168{background:linear-gradient(90deg,#000,#000,#000,#07baff,#07b5ff,#1bb6ff,#2db7ff,#3cb6ff,#4bb5ff,#58b3ff,#64b1ff,#6faeff,#79aaff,#83a7ff,#8ca3ff,#95a0ff,#9e9eff,#aca1ff,#bfaaff,#d1b3ff,#e0b7ff,#ebb2ff,#f7acff,#ffa5fc,#ff9ff4,#ff9aec,#ff93e3,#ff8bda,#ff82d0,#ff79c6,#ff70bb,#ff67b0,#ff5fa5,#ff579a,#ff4e8e,#ff4683,#ff3e77,#ff366c,#ff2f62,#ff2858,#ff214e,#ff1944,#ff123b,#ff0b32,#ff052a,#f02,#ff001a,#ff0014,#ff000f,#000,#000,#000,#000)}
.r169{background:linear-gradient(90deg,#000,#000,#000,#07b7ff,#08b2ff,#1ab3ff,#2cb3ff,#3bb3ff,#4ab1ff,#57afff,#63adff,#6eaaff,#78a6ff,#82a3ff,#8b9fff,#949cff,#9c99ff,#ad9fff,#c0a8ff,#d2b0ff,#e0b3ff,#ebadff,#f7a8ff,#ffa1fc,#ff9bf4,#ff96ec,#ff90e4,#ff88db,#ff7fd1,#ff76c7,#ff6dbc,#ff64b1,#ff5ca6,#ff549a,#ff4c8f,#ff4383,#ff3b78,#ff346c,#ff2c62,#ff2558,#ff1e4e,#ff1744,#ff103b,#ff0932,#ff032a,#f02,#ff001a,#ff0015,#f01,#000,#000,#000,#000)}
.r170{background:linear-gradient(90deg,#000,#000,#000,#07b5ff,#08afff,#19b0ff,#2bb0ff,#3bafff,#49aeff,#56acff,#62a9ff,#6da5ff,#77a2ff,#809eff,#899bff,#9298ff,#9b95ff,#ae9dff,#c1a6ff,#d2aeff,#e0afff,#eba9ff,#f7a4ff,#ff9dfd,#ff98f5,#ff93ed,#ff8ce4,#ff84db,#ff7cd1,#ff73c7,#ff6abd,#ff61b2,#ff59a7,#ff519b,#ff498f,#ff4084,#ff3978,#ff316d,#ff2a62,#ff2358,#ff1c4e,#ff1444,#ff0d3b,#ff0732,#ff012a,#f02,#ff001b,#ff0016,#000,#000,#000,#000,#000)}
.r171{background:linear-gradient(90deg,#000,#000,#000,#08b2ff,#08acff,#18acff,#2aacff,#3aacff,#48aaff,#56a8ff,#61a5ff,#6ca1ff,#769eff,#7f9aff,#8896ff,#9193ff,#9c93ff,#af9bff,#c2a4ff,#d2abff,#dfabff,#eba5ff,#f6a0ff,#ff9afd,#ff94f5,#ff8fed,#ff89e5,#ff81db,#ff78d2,#ff70c8,#ff67bd,#ff5fb2,#ff56a7,#ff4e9c,#ff4690,#ff3e84,#ff3679,#ff2e6d,#ff2762,#ff2058,#ff194e,#ff1244,#ff0b3b,#ff0432,#ff002a,#f02,#ff001c,#ff0018,#000,#000,#000,#000,#000)}
.r172{background:linear-gradient(90deg,#000,#000,#000,#08afff,#08a9ff,#17a9ff,#29a9ff,#39a8ff,#48a6ff,#55a4ff,#61a1ff,#6b9dff,#7599ff,#7e96ff,#8692ff,#8f8fff,#9d91ff,#b09aff,#c2a2ff,#d3a9ff,#dfa7ff,#eaa1ff,#f69cff,#ff96fd,#ff90f6,#ff8bed,#ff85e5,#ff7edc,#ff75d2,#ff6dc9,#ff64be,#ff5cb3,#ff53a8,#ff4b9c,#ff4391,#ff3b85,#ff3379,#ff2c6e,#ff2463,#ff1e58,#ff174e,#ff1044,#ff093b,#ff0232,#ff002a,#ff0023,#ff001e,#000,#000,#000,#000,#000,#000)}
.r173{background:linear-gradient(90deg,#000,#000,#000,#08acff,#09a6ff,#17a5ff,#29a5ff,#39a4ff,#47a2ff,#54a0ff,#609dff,#6a99ff,#7495ff,#7c91ff,#858eff,#8e8aff,#9e8fff,#b198ff,#c39fff,#d3a6ff,#dfa3ff,#ea9dff,#f698ff,#ff92fe,#ff8cf6,#ff87ee,#ff82e5,#ff7adc,#ff72d3,#ff6ac9,#ff61bf,#ff59b4,#ff50a9,#ff489d,#ff4091,#ff3885,#ff307a,#ff296e,#ff2263,#ff1b58,#ff144e,#ff0d45,#ff073b,#f03,#ff002a,#ff0024,#ff0020,#000,#000,#000,#000,#000,#000)}
.r174{background:linear-gradient(90deg,#000,#000,#000,#08a9ff,#09a3ff,#16a1ff,#28a1ff,#38a0ff,#469eff,#539cff,#5f98ff,#6995ff,#7291ff,#7b8dff,#8489ff,#8c86ff,#9f8eff,#b196ff,#c39dff,#d3a4ff,#de9fff,#ea99ff,#f594ff,#ff8efe,#ff89f7,#ff84ee,#ff7ee6,#f7d,#ff6fd3,#ff66ca,#ff5ebf,#ff56b5,#ff4eaa,#ff459e,#ff3d92,#ff3586,#ff2e7a,#ff266f,#ff1f64,#ff1959,#ff124f,#ff0b45,#ff043c,#f03,#ff002b,#ff0026,#000,#000,#000,#000,#000,#000,#000)}
.r175{background:linear-gradient(90deg,#000,#000,#000,#000,#09a0ff,#159dff,#279dff,#379cff,#469aff,#5298ff,#5e94ff,#6891ff,#718dff,#7a89ff,#8285ff,#8d84ff,#a08cff,#b294ff,#c49bff,#d4a1ff,#de9aff,#ea95ff,#f58fff,#ff8afe,#ff85f7,#ff80ee,#ff7ae6,#ff73dd,#ff6cd4,#ff63ca,#ff5bc0,#ff53b5,#ff4baa,#ff439f,#ff3b93,#ff3387,#ff2b7b,#ff246f,#ff1d64,#ff1659,#ff104f,#ff0945,#ff023c,#ff0034,#ff002d,#ff0028,#000,#000,#000,#000,#000,#000,#000)}
.r176{background:linear-gradient(90deg,#000,#000,#000,#000,#0a9cff,#1499ff,#2699ff,#3698ff,#4596ff,#5294ff,#5d90ff,#678cff,#7088ff,#7985ff,#8181ff,#8e82ff,#a18aff,#b392ff,#c498ff,#d39dff,#de96ff,#ea91ff,#f58bff,#ff86ff,#ff81f7,#ff7cef,#ff77e6,#ff70dd,#ff68d4,#ff60cb,#ff58c1,#ff50b6,#ff48ab,#ff40a0,#ff3894,#ff3088,#ff297c,#ff2170,#ff1a65,#ff145a,#ff0d50,#ff0746,#ff013d,#ff0034,#ff002f,#000,#000,#000,#000,#000,#000,#000,#000)}
.r177{background:linear-gradient(90deg,#000,#000,#000,#000,#0a99ff,#1395ff,#2695ff,#3694ff,#4492ff,#518fff,#5c8cff,#68f,#6f84ff,#7780ff,#7f7dff,#8f81ff,#a188ff,#b38fff,#c496ff,#d399ff,#de92ff,#e98cff,#f587ff,#ff83ff,#ff7df8,#ff79ef,#ff73e7,#ff6cde,#ff65d5,#ff5dcb,#ff55c1,#ff4db7,#ff45ac,#ff3da0,#ff3594,#ff2d88,#ff267c,#ff1f71,#ff1865,#ff115a,#ff0b50,#ff0546,#ff003d,#ff0036,#ff0031,#000,#000,#000,#000,#000,#000,#000,#000)}
.r178{background:linear-gradient(90deg,#000,#000,#000,#000,#0b96ff,#1291ff,#2591ff,#3590ff,#438eff,#508bff,#5b88ff,#6584ff,#6e80ff,#767cff,#7e78ff,#907fff,#a286ff,#b48dff,#c593ff,#d394ff,#dd8eff,#e988ff,#f583ff,#ff7fff,#ff79f8,#ff75ef,#ff6fe7,#ff69de,#ff62d5,#ff5acb,#ff52c2,#ff4ab7,#ff42ad,#ff3aa1,#ff3295,#ff2b89,#ff237d,#ff1c71,#ff1566,#ff0f5b,#ff0951,#ff0347,#ff003f,#ff0039,#000,#000,#000,#000,#000,#000,#000,#000,#000)}
.r179{background:linear-gradient(90deg,#000,#000,#000,#000,#0b92ff,#108cff,#248dff,#348cff,#438aff,#4f87ff,#5a84ff,#6480ff,#6d7cff,#7578ff,#7e76ff,#917dff,#a384ff,#b58bff,#c591ff,#d290ff,#dd8aff,#e984ff,#f47fff,#ff7bff,#ff76f8,#ff71f0,#ff6ce7,#ff65de,#ff5ed5,#ff57cc,#ff4fc2,#ff47b8,#ff3fad,#ff37a2,#ff2f96,#ff288a,#ff217e,#ff1a72,#ff1367,#ff0d5c,#ff0752,#ff0148,#ff0041,#ff003b,#000,#000,#000,#000,#000,#000,#000,#000,#000)}
.r180{background:linear-gradient(90deg,#000,#000,#000,#000,#0b8fff,#0f88ff,#2389ff,#3488ff,#4286ff,#4f83ff,#5a80ff,#637cff,#6c78ff,#7474ff,#8074ff,#927cff,#a482ff,#b589ff,#c68eff,#d28cff,#dd86ff,#e980ff,#f47bff,#fe77ff,#ff72f9,#ff6df0,#ff68e7,#ff62df,#ff5bd6,#ff53cc,#ff4cc3,#ff44b9,#ff3cae,#ff34a3,#ff2d97,#ff258b,#ff1e7f,#ff1773,#ff1167,#ff0a5d,#ff0552,#ff0049,#ff0043,#000,#000,#000,#000,#000,#000,#000,#000,#000,#000)}
.r181{background:linear-gradient(90deg,#000,#000,#000,#000,#0c8cff,#0d83ff,#2385ff,#3384ff,#4182ff,#4e7fff,#597bff,#6278ff,#6b74ff,#7270ff,#8173ff,#937aff,#a581ff,#b687ff,#c68cff,#d288ff,#dd82ff,#e97cff,#f477ff,#fe73ff,#ff6ef9,#ff69f0,#ff64e8,#ff5edf,#ff57d6,#ff50cd,#ff48c3,#ff41b9,#ff39af,#ff31a3,#ff2a97,#ff238b,#ff1b7f,#ff1574,#ff0e68,#ff085d,#ff0353,#ff004c,#ff0045,#000,#000,#000,#000,#000,#000,#000,#000,#000,#000)}
.r182{background:linear-gradient(90deg,#000,#000,#000,#000,#0c88ff,#0e7fff,#2280ff,#327fff,#407dff,#4d7bff,#5877ff,#6173ff,#6a6fff,#716bff,#8271ff,#9478ff,#a57fff,#b684ff,#c789ff,#d284ff,#dd7eff,#e978ff,#f473ff,#fe6fff,#ff6af9,#ff66f0,#ff61e8,#ff5bdf,#ff54d6,#ff4dcd,#ff45c3,#ff3eba,#ff36af,#ff2fa4,#ff2798,#ff208c,#ff1980,#ff1274,#ff0c69,#ff065e,#ff0255,#ff004e,#000,#000,#000,#000,#000,#000,#000,#000,#000,#000,#000)}
.r183{background:linear-gradient(90deg,#000,#000,#000,#000,#0c85ff,#0e7bff,#217cff,#317bff,#4079ff,#4c77ff,#5773ff,#606fff,#686bff,#7169ff,#8370ff,#9576ff,#a67dff,#b782ff,#c787ff,#d280ff,#dd7aff,#e974ff,#f46fff,#fe6bff,#ff66fa,#ff62f1,#ff5de8,#ff57df,#ff51d6,#ff49cd,#ff42c4,#ff3aba,#ff33b0,#ff2ca5,#ff2499,#ff1d8d,#ff1681,#ff1075,#ff0a6a,#ff045f,#ff0257,#000,#000,#000,#000,#000,#000,#000,#000,#000,#000,#000,#000)}
.r184{background:linear-gradient(90deg,#000,#000,#000,#000,#0d81ff,#0e78ff,#2077ff,#3077ff,#3f75ff,#4b72ff,#566fff,#5f6bff,#6767ff,#7367ff,#856eff,#9674ff,#a77bff,#b780ff,#c783ff,#d27cff,#dd76ff,#e970ff,#f46bff,#fe67ff,#ff62fa,#ff5ef1,#ff59e8,#ff53e0,#ff4dd7,#ff46ce,#ff3fc4,#ff37ba,#ff30b0,#ff29a5,#ff229a,#ff1b8e,#ff1482,#ff0d76,#ff086b,#ff0461,#ff025a,#000,#000,#000,#000,#000,#000,#000,#000,#000,#000,#000,#000)}
.r185{background:linear-gradient(90deg,#000,#000,#000,#000,#0d7eff,#0f74ff,#1f73ff,#3073ff,#3e71ff,#4a6eff,#556bff,#5e67ff,#6663ff,#7466ff,#866cff,#9773ff,#a779ff,#b87dff,#c77fff,#d178ff,#dd72ff,#e96cff,#f467ff,#fe63ff,#ff5ffa,#ff5af1,#ff55e9,#ff50e0,#ff49d7,#ff43ce,#ff3bc4,#ff34bb,#ff2db1,#ff26a6,#ff1f9a,#ff188f,#ff1183,#ff0b77,#ff066c,#ff0464,#000,#000,#000,#000,#000,#000,#000,#000,#000,#000,#000,#000,#000)}
.r186{background:linear-gradient(90deg,#000,#000,#000,#000,#0d7aff,#0f71ff,#1e6fff,#2f6eff,#3d6dff,#4a6aff,#5467ff,#5d63ff,#655fff,#7664ff,#876bff,#9871ff,#a876ff,#b97bff,#c77cff,#d174ff,#dd6eff,#e968ff,#f464ff,#fe5fff,#ff5bfa,#ff57f1,#ff52e9,#ff4ce0,#ff46d7,#ff3fce,#ff38c5,#ff31bb,#ff2ab1,#ff23a7,#ff1c9b,#ff158f,#ff0f83,#ff0978,#ff056e,#ff0466,#000,#000,#000,#000,#000,#000,#000,#000,#000,#000,#000,#000,#000)}
.r187{background:linear-gradient(90deg,#000,#000,#000,#000,#0e77ff,#106dff,#1d6aff,#2e6aff,#3c68ff,#4966ff,#5363ff,#5c5fff,#655cff,#7763ff,#8869ff,#996fff,#a974ff,#b979ff,#c778ff,#d170ff,#dd6aff,#e964ff,#f360ff,#fd5bff,#ff57fa,#ff53f1,#ff4ee9,#ff48e0,#ff42d7,#ff3cce,#ff35c5,#ff2ebb,#ff27b2,#ff20a7,#ff199c,#ff1390,#ff0c84,#ff0779,#ff0570,#000,#000,#000,#000,#000,#000,#000,#000,#000,#000,#000,#000,#000,#000)}
.r188{background:linear-gradient(90deg,#000,#000,#000,#000,#000,#106aff,#1b66ff,#2d66ff,#3b64ff,#4862ff,#525fff,#5b5bff,#675bff,#7961ff,#8968ff,#9a6dff,#aa72ff,#ba76ff,#c774ff,#d26cff,#d6f,#e961ff,#f35cff,#fd58ff,#ff53fb,#ff4ff2,#ff4ae9,#ff45e0,#ff3fd7,#ff38ce,#ff31c5,#ff2bbc,#ff24b2,#ff1da8,#ff169c,#ff1091,#ff0a85,#ff077b,#ff0572,#000,#000,#000,#000,#000,#000,#000,#000,#000,#000,#000,#000,#000,#000)}
.r189{background:linear-gradient(90deg,#000,#000,#000,#000,#000,#1066ff,#1a61ff,#2c61ff,#3a60ff,#475eff,#515bff,#5a57ff,#6859ff,#7a60ff,#8b66ff,#9b6bff,#ab70ff,#bb74ff,#c670ff,#d268ff,#dd62ff,#e95dff,#f358ff,#fd54ff,#ff50fb,#ff4bf2,#ff46e9,#ff41e0,#ff3bd8,#ff35cf,#ff2ec5,#ff27bc,#ff21b2,#ff1aa8,#ff139d,#ff0d91,#ff0886,#ff077d,#000,#000,#000,#000,#000,#000,#000,#000,#000,#000,#000,#000,#000,#000,#000)}
.r190{background:linear-gradient(90deg,#000,#000,#000,#000,#000,#1063ff,#195cff,#2a5dff,#395cff,#465aff,#5056ff,#5953ff,#6a58ff,#7b5eff,#8c64ff,#9c6aff,#ac6eff,#bb72ff,#c66cff,#d265ff,#dd5eff,#e959ff,#f354ff,#fd50ff,#ff4cfb,#ff47f2,#ff43e9,#ff3de0,#ff38d8,#ff31cf,#ff2bc6,#ff24bc,#ff1db3,#ff17a8,#ff119d,#ff0b92,#ff0888,#ff077f,#000,#000,#000,#000,#000,#000,#000,#000,#000,#000,#000,#000,#000,#000,#000)}
.r191{background:linear-gradient(90deg,#000,#000,#000,#000,#000,#105fff,#1758ff,#2959ff,#3858ff,#45f,#4f52ff,#584fff,#6b56ff,#7c5dff,#8d62ff,#9d68ff,#ad6cff,#bc70ff,#c668ff,#d261ff,#dd5bff,#e955ff,#f351ff,#fd4cff,#ff48fb,#ff44f2,#ff3fe9,#ff3ae1,#ff34d8,#ff2ecf,#ff27c6,#ff21bc,#ff1ab3,#ff14a9,#ff0e9e,#ff0993,#ff088a,#000,#000,#000,#000,#000,#000,#000,#000,#000,#000,#000,#000,#000,#000,#000,#000)}
.r192{background:linear-gradient(90deg,#000,#000,#000,#000,#000,#115cff,#1653ff,#2854ff,#3753ff,#4351ff,#4e4eff,#5a4eff,#6c55ff,#7e5bff,#8e61ff,#9e66ff,#ad6aff,#bd6dff,#c765ff,#d25dff,#dd57ff,#e952ff,#f34dff,#fd49ff,#ff44fb,#ff40f2,#ff3be9,#ff36e1,#ff30d8,#ff2acf,#ff24c6,#ff1dbd,#ff17b3,#ff11a9,#ff0b9e,#ff0995,#ff088c,#000,#000,#000,#000,#000,#000,#000,#000,#000,#000,#000,#000,#000,#000,#000,#000)}
.r193{background:linear-gradient(90deg,#000,#000,#000,#000,#000,#1158ff,#144eff,#2750ff,#364fff,#424dff,#4c4aff,#5b4dff,#6e53ff,#7f59ff,#8f5fff,#9f64ff,#ae67ff,#bd69ff,#c761ff,#d25aff,#de53ff,#e94eff,#f349ff,#fd45ff,#ff41fb,#ff3cf2,#ff37e9,#ff32e1,#ff2dd8,#ff27cf,#ff20c6,#ff1abd,#ff14b3,#ff0ea9,#ff099f,#ff0996,#000,#000,#000,#000,#000,#000,#000,#000,#000,#000,#000,#000,#000,#000,#000,#000,#000)}
.r194{background:linear-gradient(90deg,#000,#000,#000,#000,#000,#1055ff,#134aff,#254bff,#344bff,#4149ff,#4b46ff,#5c4bff,#6f52ff,#8058ff,#905dff,#a061ff,#af65ff,#bd66ff,#c75dff,#d256ff,#de50ff,#e94aff,#f345ff,#fd41ff,#ff3dfc,#ff38f2,#ff34e9,#ff2fe1,#ff29d8,#ff23cf,#ff1dc6,#ff17bd,#ff11b3,#ff0baa,#ff09a1,#ff0898,#000,#000,#000,#000,#000,#000,#000,#000,#000,#000,#000,#000,#000,#000,#000,#000,#000)}
.r195{background:linear-gradient(90deg,#000,#000,#000,#000,#000,#1052ff,#1346ff,#2447ff,#3347ff,#3f45ff,#4a42ff,#5e4aff,#7050ff,#8156ff,#915bff,#a15fff,#b063ff,#bd62ff,#c75aff,#d252ff,#de4cff,#e947ff,#f442ff,#fd3dff,#ff39fc,#ff35f2,#ff30e9,#ff2be1,#ff25d8,#ff1fcf,#ff19c6,#ff13bd,#ff0eb4,#ff09aa,#ff09a2,#000,#000,#000,#000,#000,#000,#000,#000,#000,#000,#000,#000,#000,#000,#000,#000,#000,#000)}
.r196{background:linear-gradient(90deg,#000,#000,#000,#000,#000,#104eff,#1343ff,#2242ff,#3142ff,#3e41ff,#4b41ff,#5f48ff,#714eff,#8254ff,#9259ff,#a25dff,#b161ff,#bd5eff,#c756ff,#d34fff,#de48ff,#e943ff,#f43eff,#fd3aff,#ff35fc,#ff31f2,#ff2ce9,#ff27e1,#ff22d8,#ff1ccf,#ff16c6,#ff10bd,#ff0bb4,#ff09ac,#000,#000,#000,#000,#000,#000,#000,#000,#000,#000,#000,#000,#000,#000,#000,#000,#000,#000,#000)}
.r197{background:linear-gradient(90deg,#000,#000,#000,#000,#000,#104bff,#1240ff,#203eff,#303eff,#3c3cff,#4c3fff,#6046ff,#724dff,#8352ff,#9357ff,#a25bff,#b15eff,#bd5aff,#c752ff,#d34bff,#de45ff,#e93fff,#f43aff,#fd36ff,#ff32fc,#ff2df2,#ff28e9,#ff23e1,#ff1ed8,#ff18cf,#ff12c6,#ff0dbd,#ff09b4,#ff09ad,#000,#000,#000,#000,#000,#000,#000,#000,#000,#000,#000,#000,#000,#000,#000,#000,#000,#000,#000)}
.r198{background:linear-gradient(90deg,#000,#000,#000,#000,#000,#1047ff,#123cff,#1e39ff,#2e3aff,#3b38ff,#4d3eff,#6145ff,#734bff,#8350ff,#9455ff,#a359ff,#b25cff,#bd57ff,#c74eff,#d347ff,#de41ff,#e93cff,#f437ff,#fd32ff,#ff2efc,#ff29f2,#ff25e9,#ff20e1,#ff1ad8,#ff15cf,#ff0fc7,#ff09bd,#ff09b6,#000,#000,#000,#000,#000,#000,#000,#000,#000,#000,#000,#000,#000,#000,#000,#000,#000,#000,#000,#000)}
.r199{background:linear-gradient(90deg,#000,#000,#000,#000,#000,#0f44ff,#1239ff,#1d35ff,#2c35ff,#3934ff,#4e3cff,#6143ff,#7349ff,#844eff,#9453ff,#a456ff,#b35aff,#bd53ff,#c84bff,#d344ff,#de3dff,#e938ff,#f433ff,#fd2fff,#ff2afc,#ff26f2,#ff21e9,#ff1ce1,#ff16d8,#ff11cf,#ff0bc7,#ff08be,#ff08b7,#000,#000,#000,#000,#000,#000,#000,#000,#000,#000,#000,#000,#000,#000,#000,#000,#000,#000,#000,#000)}
.r200{background:linear-gradient(90deg,#000,#000,#000,#000,#000,#000,#1136ff,#1a30ff,#2a31ff,#3a32ff,#4f3aff,#6241ff,#7447ff,#854cff,#9551ff,#a454ff,#b357ff,#bd4fff,#c847ff,#d340ff,#df3aff,#e934ff,#f42fff,#fd2bff,#ff26fc,#ff22f3,#ff1de9,#ff18e1,#ff13d8,#ff0dd0,#ff08c7,#ff08bf,#000,#000,#000,#000,#000,#000,#000,#000,#000,#000,#000,#000,#000,#000,#000,#000,#000,#000,#000,#000,#000)}
.r201{background:linear-gradient(90deg,#000,#000,#000,#000,#000,#000,#1132ff,#182bff,#282cff,#3b30ff,#5039ff,#633fff,#7445ff,#854aff,#954eff,#a552ff,#b354ff,#bd4bff,#c843ff,#d33cff,#df36ff,#ea31ff,#f42cff,#fd27ff,#ff23fc,#ff1ef3,#ff19e9,#ff14e1,#ff0fd8,#ff0ad0,#ff07c7,#ff07c0,#000,#000,#000,#000,#000,#000,#000,#000,#000,#000,#000,#000,#000,#000,#000,#000,#000,#000,#000,#000,#000)}
.r202{background:linear-gradient(90deg,#000,#000,#000,#000,#000,#000,#102fff,#1626ff,#2627ff,#3b2fff,#5037ff,#633dff,#7543ff,#8648ff,#964cff,#a54fff,#b350ff,#bd47ff,#c83fff,#d438ff,#df32ff,#ea2dff,#f428ff,#fd24ff,#ff1ffc,#ff1af3,#ff16ea,#ff10e1,#ff0bd8,#ff06d0,#ff06c8,#000,#000,#000,#000,#000,#000,#000,#000,#000,#000,#000,#000,#000,#000,#000,#000,#000,#000,#000,#000,#000,#000)}
.r203{background:linear-gradient(90deg,#000,#000,#000,#000,#000,#000,#0f2bff,#1321ff,#2322ff,#3b2dff,#5035ff,#633bff,#7541ff,#8646ff,#964aff,#a54dff,#b34cff,#bd43ff,#c83cff,#d435ff,#df2fff,#ea29ff,#f425ff,#fd20ff,#ff1bfc,#ff17f3,#ff12ea,#ff0de1,#ff08d8,#ff05d0,#ff06c9,#000,#000,#000,#000,#000,#000,#000,#000,#000,#000,#000,#000,#000,#000,#000,#000,#000,#000,#000,#000,#000,#000)}
.r204{background:linear-gradient(90deg,#000,#000,#000,#000,#000,#000,#0e28ff,#111cff,#2420ff,#3c2bff,#5033ff,#6339ff,#753fff,#8644ff,#9647ff,#a64bff,#b248ff,#bd40ff,#c838ff,#d431ff,#df2bff,#ea26ff,#f421ff,#fd1cff,#ff18fd,#ff13f3,#ff0eea,#ff09e1,#ff04d8,#ff05d1,#000,#000,#000,#000,#000,#000,#000,#000,#000,#000,#000,#000,#000,#000,#000,#000,#000,#000,#000,#000,#000,#000,#000)}
.r205{background:linear-gradient(90deg,#000,#000,#000,#000,#000,#000,#0d25ff,#0f18ff,#241eff,#3c29ff,#5131ff,#6337ff,#753dff,#8641ff,#9645ff,#a648ff,#b244ff,#bd3cff,#c834ff,#d42dff,#df27ff,#ea22ff,#f41dff,#fd19ff,#ff14fd,#ff0ff3,#ff0aea,#ff05e1,#ff04d9,#ff05d2,#000,#000,#000,#000,#000,#000,#000,#000,#000,#000,#000,#000,#000,#000,#000,#000,#000,#000,#000,#000,#000,#000,#000)}
.r206{background:linear-gradient(90deg,#000,#000,#000,#000,#000,#000,#0c21ff,#0e15ff,#241cff,#3c26ff,#502fff,#6335ff,#753bff,#863fff,#9642ff,#a646ff,#b240ff,#bc38ff,#c830ff,#d429ff,#df23ff,#ea1eff,#f41aff,#fd15ff,#ff10fd,#ff0bf3,#ff06ea,#ff02e1,#ff03da,#000,#000,#000,#000,#000,#000,#000,#000,#000,#000,#000,#000,#000,#000,#000,#000,#000,#000,#000,#000,#000,#000,#000,#000)}
.r207{background:linear-gradient(90deg,#000,#000,#000,#000,#000,#000,#0b1eff,#0d11ff,#241aff,#3b24ff,#502cff,#6333ff,#7538ff,#863dff,#9640ff,#a643ff,#b13cff,#bc34ff,#c82cff,#d426ff,#df20ff,#ea1bff,#f316ff,#fd11ff,#ff0cfd,#ff08f3,#ff03ea,#ff02e1,#ff03da,#000,#000,#000,#000,#000,#000,#000,#000,#000,#000,#000,#000,#000,#000,#000,#000,#000,#000,#000,#000,#000,#000,#000,#000)}
.r208{background:linear-gradient(90deg,#000,#000,#000,#000,#000,#000,#0a1bff,#0e10ff,#2418ff,#3b22ff,#502aff,#6331ff,#7536ff,#863aff,#963dff,#a641ff,#b138ff,#bc30ff,#c828ff,#d422ff,#df1cff,#e917ff,#f312ff,#fd0dff,#ff09fd,#ff04f3,#ff00ea,#ff01e2,#000,#000,#000,#000,#000,#000,#000,#000,#000,#000,#000,#000,#000,#000,#000,#000,#000,#000,#000,#000,#000,#000,#000,#000,#000)}
.r209{background:linear-gradient(90deg,#000,#000,#000,#000,#000,#000,#0917ff,#1010ff,#2316ff,#3b20ff,#4f28ff,#632eff,#7434ff,#8538ff,#963bff,#a63dff,#b034ff,#bc2cff,#c825ff,#d41eff,#df18ff,#e913ff,#f30eff,#fc0aff,#ff05fd,#ff00f3,#ff00ea,#000,#000,#000,#000,#000,#000,#000,#000,#000,#000,#000,#000,#000,#000,#000,#000,#000,#000,#000,#000,#000,#000,#000,#000,#000,#000)}
.r210{background:linear-gradient(90deg,#000,#000,#000,#000,#000,#000,#000,#110fff,#2313ff,#3a1eff,#4f25ff,#622cff,#7431ff,#8535ff,#9638ff,#a53aff,#b030ff,#bb28ff,#c821ff,#d41aff,#df14ff,#e90fff,#f30bff,#fc06ff,#ff01fd,#ff00f3,#ff00eb,#000,#000,#000,#000,#000,#000,#000,#000,#000,#000,#000,#000,#000,#000,#000,#000,#000,#000,#000,#000,#000,#000,#000,#000,#000,#000)}
.r211{background:linear-gradient(90deg,#000,#000,#000,#000,#000,#000,#000,#120fff,#2311ff,#3a1bff,#4e23ff,#612aff,#732fff,#8432ff,#9536ff,#a435ff,#af2cff,#bb24ff,#c71dff,#d316ff,#df11ff,#e90cff,#f307ff,#fc02ff,#ff00fd,#ff00f4,#000,#000,#000,#000,#000,#000,#000,#000,#000,#000,#000,#000,#000,#000,#000,#000,#000,#000,#000,#000,#000,#000,#000,#000,#000,#000,#000)}
.r212{background:linear-gradient(90deg,#000,#000,#000,#000,#000,#000,#000,#130eff,#220fff,#3919ff,#4e21ff,#6127ff,#732cff,#8430ff,#9533ff,#a331ff,#ae28ff,#bb20ff,#c719ff,#d313ff,#de0dff,#e908ff,#f203ff,#fc00ff,#ff00fd,#ff00f4,#000,#000,#000,#000,#000,#000,#000,#000,#000,#000,#000,#000,#000,#000,#000,#000,#000,#000,#000,#000,#000,#000,#000,#000,#000,#000,#000)}
.r213{background:linear-gradient(90deg,#000,#000,#000,#000,#000,#000,#000,#150dff,#210cff,#3916ff,#4d1eff,#6025ff,#7229ff,#832dff,#9430ff,#a22dff,#ae24ff,#ba1cff,#c715ff,#d30fff,#de09ff,#e804ff,#f200ff,#fb00ff,#ff00fd,#000,#000,#000,#000,#000,#000,#000,#000,#000,#000,#000,#000,#000,#000,#000,#000,#000,#000,#000,#000,#000,#000,#000,#000,#000,#000,#000,#000)}
.r214{background:linear-gradient(90deg,#000,#000,#000,#000,#000,#000,#000,#160dff,#220aff,#3814ff,#4c1cff,#5f22ff,#7127ff,#822aff,#942eff,#a129ff,#ad20ff,#b918ff,#c611ff,#d20bff,#de05ff,#e800ff,#f200ff,#fb00ff,#ff00fd,#000,#000,#000,#000,#000,#000,#000,#000,#000,#000,#000,#000,#000,#000,#000,#000,#000,#000,#000,#000,#000,#000,#000,#000,#000,#000,#000,#000)}
.r215{background:linear-gradient(90deg,#000,#000,#000,#000,#000,#000,#000,#170cff,#220aff,#3712ff,#4b19ff,#5e20ff,#7024ff,#8228ff,#932bff,#a025ff,#ac1cff,#b914ff,#c60dff,#d207ff,#dd01ff,#e800ff,#f200ff,#fb00ff,#000,#000,#000,#000,#000,#000,#000,#000,#000,#000,#000,#000,#000,#000,#000,#000,#000,#000,#000,#000,#000,#000,#000,#000,#000,#000,#000,#000,#000)}
.r216{background:linear-gradient(90deg,#000,#000,#000,#000,#000,#000,#000,#170bff,#2309ff,#360fff,#4b17ff,#5d1dff,#6f21ff,#8125ff,#9328ff,#9f21ff,#ab18ff,#b810ff,#c509ff,#d103ff,#d0f,#e700ff,#f100ff,#fb00ff,#000,#000,#000,#000,#000,#000,#000,#000,#000,#000,#000,#000,#000,#000,#000,#000,#000,#000,#000,#000,#000,#000,#000,#000,#000,#000,#000,#000,#000)}
.r217{background:linear-gradient(90deg,#000,#000,#000,#000,#000,#000,#000,#180aff,#2408ff,#360dff,#4a14ff,#5c1aff,#6e1fff,#8022ff,#9225ff,#9e1dff,#aa14ff,#b70cff,#c405ff,#d100ff,#dc00ff,#e700ff,#f100ff,#000,#000,#000,#000,#000,#000,#000,#000,#000,#000,#000,#000,#000,#000,#000,#000,#000,#000,#000,#000,#000,#000,#000,#000,#000,#000,#000,#000,#000,#000)}
.r218{background:linear-gradient(90deg,#000,#000,#000,#000,#000,#000,#000,#000,#2507ff,#350aff,#4912ff,#5b18ff,#6d1cff,#7f1fff,#9022ff,#9d18ff,#aa10ff,#b708ff,#c402ff,#d000ff,#dc00ff,#e700ff,#f100ff,#000,#000,#000,#000,#000,#000,#000,#000,#000,#000,#000,#000,#000,#000,#000,#000,#000,#000,#000,#000,#000,#000,#000,#000,#000,#000,#000,#000,#000,#000)}
.r219{background:linear-gradient(90deg,#000,#000,#000,#000,#000,#000,#000,#000,#2507ff,#3407ff,#480fff,#5a15ff,#6c19ff,#7e1dff,#8f1dff,#9b14ff,#a90cff,#b604ff,#c300ff,#cf00ff,#db00ff,#e700ff,#000,#000,#000,#000,#000,#000,#000,#000,#000,#000,#000,#000,#000,#000,#000,#000,#000,#000,#000,#000,#000,#000,#000,#000,#000,#000,#000,#000,#000,#000,#000)}
.r220{background:linear-gradient(90deg,#000,#000,#000,#000,#000,#000,#000,#000,#2606ff,#3305ff,#470dff,#5912ff,#6b16ff,#7d1aff,#8d19ff,#9a10ff,#a808ff,#b500ff,#c200ff,#cf00ff,#db00ff,#e600ff,#000,#000,#000,#000,#000,#000,#000,#000,#000,#000,#000,#000,#000,#000,#000,#000,#000,#000,#000,#000,#000,#000,#000,#000,#000,#000,#000,#000,#000,#000,#000)}
.r221{background:linear-gradient(90deg,#000,#000,#000,#000,#000,#000,#000,#000,#2705ff,#3202ff,#450aff,#580fff,#6914ff,#7c17ff,#8b15ff,#990cff,#a704ff,#b400ff,#c100ff,#ce00ff,#db00ff,#000,#000,#000,#000,#000,#000,#000,#000,#000,#000,#000,#000,#000,#000,#000,#000,#000,#000,#000,#000,#000,#000,#000,#000,#000,#000,#000,#000,#000,#000,#000,#000)}
.r222{background:linear-gradient(90deg,#000,#000,#000,#000,#000,#000,#000,#000,#2704ff,#3202ff,#4407ff,#560dff,#6811ff,#7b15ff,#8a11ff,#9708ff,#a500ff,#b300ff,#c000ff,#ce00ff,#000,#000,#000,#000,#000,#000,#000,#000,#000,#000,#000,#000,#000,#000,#000,#000,#000,#000,#000,#000,#000,#000,#000,#000,#000,#000,#000,#000,#000,#000,#000,#000,#000)}
.r223{background:linear-gradient(90deg,#000,#000,#000,#000,#000,#000,#000,#000,#2804ff,#3301ff,#4305ff,#550aff,#670eff,#7912ff,#880dff,#9604ff,#a400ff,#b200ff,#c000ff,#ce00ff,#000,#000,#000,#000,#000,#000,#000,#000,#000,#000,#000,#000,#000,#000,#000,#000,#000,#000,#000,#000,#000,#000,#000,#000,#000,#000,#000,#000,#000,#000,#000,#000,#000)}
.r224{background:linear-gradient(90deg,#000,#000,#000,#000,#000,#000,#000,#000,#2803ff,#30f,#4202ff,#5407ff,#650bff,#780fff,#8608ff,#9400ff,#a300ff,#b100ff,#c000ff,#000,#000,#000,#000,#000,#000,#000,#000,#000,#000,#000,#000,#000,#000,#000,#000,#000,#000,#000,#000,#000,#000,#000,#000,#000,#000,#000,#000,#000,#000,#000,#000,#000,#000)}
.r225{background:linear-gradient(90deg,#000,#000,#000,#000,#000,#000,#000,#000,#000,#3400ff,#4100ff,#5304ff,#6409ff,#770dff,#8504ff,#9300ff,#a200ff,#b000ff,#bf00ff,#000,#000,#000,#000,#000,#000,#000,#000,#000,#000,#000,#000,#000,#000,#000,#000,#000,#000,#000,#000,#000,#000,#000,#000,#000,#000,#000,#000,#000,#000,#000,#000,#000,#000)}
.r226{background:linear-gradient(90deg,#000,#000,#000,#000,#000,#000,#000,#000,#000,#3400ff,#4000ff,#5202ff,#6306ff,#7509ff,#8300ff,#9100ff,#a000ff,#b000ff,#000,#000,#000,#000,#000,#000,#000,#000,#000,#000,#000,#000,#000,#000,#000,#000,#000,#000,#000,#000,#000,#000,#000,#000,#000,#000,#000,#000,#000,#000,#000,#000,#000,#000,#000)}
.r227{background:linear-gradient(90deg,#000,#000,#000,#000,#000,#000,#000,#000,#000,#3500ff,#4000ff,#5100ff,#6203ff,#7405ff,#8100ff,#9000ff,#a000ff,#b000ff,#000,#000,#000,#000,#000,#000,#000,#000,#000,#000,#000,#000,#000,#000,#000,#000,#000,#000,#000,#000,#000,#000,#000,#000,#000,#000,#000,#000,#000,#000,#000,#000,#000,#000,#000)}
.r228{background:linear-gradient(90deg,#000,#000,#000,#000,#000,#000,#000,#000,#000,#3500ff,#4000ff,#4f00ff,#6100ff,#7201ff,#8000ff,#8e00ff,#a000ff,#000,#000,#000,#000,#000,#000,#000,#000,#000,#000,#000,#000,#000,#000,#000,#000,#000,#000,#000,#000,#000,#000,#000,#000,#000,#000,#000,#000,#000,#000,#000,#000,#000,#000,#000,#000)}
.r229{background:linear-gradient(90deg,#000,#000,#000,#000,#000,#000,#000,#000,#000,#000,#4100ff,#4f00ff,#6000ff,#7000ff,#7e00ff,#8e00ff,#a000ff,#000,#000,#000,#000,#000,#000,#000,#000,#000,#000,#000,#000,#000,#000,#000,#000,#000,#000,#000,#000,#000,#000,#000,#000,#000,#000,#000,#000,#000,#000,#000,#000,#000,#000,#000,#000)}
.r230{background:linear-gradient(90deg,#000,#000,#000,#000,#000,#000,#000,#000,#000,#000,#4100ff,#4e00ff,#5f00ff,#6f00ff,#7d00ff,#8e00ff,#000,#000,#000,#000,#000,#000,#000,#000,#000,#000,#000,#000,#000,#000,#000,#000,#000,#000,#000,#000,#000,#000,#000,#000,#000,#000,#000,#000,#000,#000,#000,#000,#000,#000,#000,#000,#000)}
.r231{background:linear-gradient(90deg,#000,#000,#000,#000,#000,#000,#000,#000,#000,#000,#4200ff,#4e00ff,#5f00ff,#6d00ff,#7d00ff,#8e00ff,#000,#000,#000,#000,#000,#000,#000,#000,#000,#000,#000,#000,#000,#000,#000,#000,#000,#000,#000,#000,#000,#000,#000,#000,#000,#000,#000,#000,#000,#000,#000,#000,#000,#000,#000,#000,#000)}
.r232{background:linear-gradient(90deg,#000,#000,#000,#000,#000,#000,#000,#000,#000,#000,#4300ff,#4f00ff,#5e00ff,#6c00ff,#7d00ff,#000,#000,#000,#000,#000,#000,#000,#000,#000,#000,#000,#000,#000,#000,#000,#000,#000,#000,#000,#000,#000,#000,#000,#000,#000,#000,#000,#000,#000,#000,#000,#000,#000,#000,#000,#000,#000,#000)}
.r233{background:linear-gradient(90deg,#000,#000,#000,#000,#000,#000,#000,#000,#000,#000,#000,#4f00ff,#5e00ff,#6c00ff,#7d00ff,#000,#000,#000,#000,#000,#000,#000,#000,#000,#000,#000,#000,#000,#000,#000,#000,#000,#000,#000,#000,#000,#000,#000,#000,#000,#000,#000,#000,#000,#000,#000,#000,#000,#000,#000,#000,#000,#000)}
.r234{background:linear-gradient(90deg,#000,#000,#000,#000,#000,#000,#000,#000,#000,#000,#000,#5000ff,#5e00ff,#6d00ff,#7e00ff,#000,#000,#000,#000,#000,#000,#000,#000,#000,#000,#000,#000,#000,#000,#000,#000,#000,#000,#000,#000,#000,#000,#000,#000,#000,#000,#000,#000,#000,#000,#000,#000,#000,#000,#000,#000,#000,#000)}</style></head><body><div id="w"><svg class="ly" width="550" height="320" viewBox="0 0 550 320"><rect x="40.5" y="31.45" width="207.23" height="234.85" fill="#f0f0f0"/><path d="M54.31 31.45V266.3" stroke="#969696" stroke-width="0.9" stroke-dasharray="1.3 1.3"/><path d="M68.13 31.45V266.3" stroke="#8c8c8c" stroke-width="1"/><path d="M81.95 31.45V266.3" stroke="#969696" stroke-width="0.9" stroke-dasharray="1.3 1.3"/><path d="M95.76 31.45V266.3" stroke="#8c8c8c" stroke-width="1"/><path d="M109.58 31.45V266.3" stroke="#969696" stroke-width="0.9" stroke-dasharray="1.3 1.3"/><path d="M123.39 31.45V266.3" stroke="#8c8c8c" stroke-width="1"/><path d="M137.21 31.45V266.3" stroke="#969696" stroke-width="0.9" stroke-dasharray="1.3 1.3"/><path d="M151.02 31.45V266.3" stroke="#8c8c8c" stroke-width="1"/><path d="M164.84 31.45V266.3" stroke="#969696" stroke-width="0.9" stroke-dasharray="1.3 1.3"/><path d="M178.65 31.45V266.3" stroke="#8c8c8c" stroke-width="1"/><path d="M192.47 31.45V266.3" stroke="#969696" stroke-width="0.9" stroke-dasharray="1.3 1.3"/><path d="M206.28 31.45V266.3" stroke="#8c8c8c" stroke-width="1"/><path d="M220.1 31.45V266.3" stroke="#969696" stroke-width="0.9" stroke-dasharray="1.3 1.3"/><path d="M233.91 31.45V266.3" stroke="#8c8c8c" stroke-width="1"/><path d="M40.5 252.49H247.73" stroke="#969696" stroke-width="0.9" stroke-dasharray="1.3 1.3"/><path d="M40.5 238.67H247.73" stroke="#8c8c8c" stroke-width="1"/><path d="M40.5 224.86H247.73" stroke="#969696" stroke-width="0.9" stroke-dasharray="1.3 1.3"/><path d="M40.5 211.04H247.73" stroke="#8c8c8c" stroke-width="1"/><path d="M40.5 197.23H247.73" stroke="#969696" stroke-width="0.9" stroke-dasharray="1.3 1.3"/><path d="M40.5 183.41H247.73" stroke="#8c8c8c" stroke-width="1"/><path d="M40.5 169.59H247.73" stroke="#969696" stroke-width="0.9" stroke-dasharray="1.3 1.3"/><path d="M40.5 155.78H247.73" stroke="#8c8c8c" stroke-width="1"/><path d="M40.5 141.97H247.73" stroke="#969696" stroke-width="0.9" stroke-dasharray="1.3 1.3"/><path d="M40.5 128.15H247.73" stroke="#8c8c8c" stroke-width="1"/><path d="M40.5 114.33H247.73" stroke="#969696" stroke-width="0.9" stroke-dasharray="1.3 1.3"/><path d="M40.5 100.52H247.73" stroke="#8c8c8c" stroke-width="1"/><path d="M40.5 86.7H247.73" stroke="#969696" stroke-width="0.9" stroke-dasharray="1.3 1.3"/><path d="M40.5 72.89H247.73" stroke="#8c8c8c" stroke-width="1"/><path d="M40.5 59.07H247.73" stroke="#969696" stroke-width="0.9" stroke-dasharray="1.3 1.3"/><path d="M40.5 45.26H247.73" stroke="#8c8c8c" stroke-width="1"/><rect x="327.4" y="27.97" width="210" height="237.83" fill="#f0f0f0"/><path d="M341.4 27.97V265.8" stroke="#969696" stroke-width="0.9" stroke-dasharray="1.3 1.3"/><path d="M355.4 27.97V265.8" stroke="#8c8c8c" stroke-width="1"/><path d="M369.4 27.97V265.8" stroke="#969696" stroke-width="0.9" stroke-dasharray="1.3 1.3"/><path d="M383.4 27.97V265.8" stroke="#8c8c8c" stroke-width="1"/><path d="M397.4 27.97V265.8" stroke="#969696" stroke-width="0.9" stroke-dasharray="1.3 1.3"/><path d="M411.4 27.97V265.8" stroke="#8c8c8c" stroke-width="1"/><path d="M425.4 27.97V265.8" stroke="#969696" stroke-width="0.9" stroke-dasharray="1.3 1.3"/><path d="M439.4 27.97V265.8" stroke="#8c8c8c" stroke-width="1"/><path d="M453.4 27.97V265.8" stroke="#969696" stroke-width="0.9" stroke-dasharray="1.3 1.3"/><path d="M467.4 27.97V265.8" stroke="#8c8c8c" stroke-width="1"/><path d="M481.4 27.97V265.8" stroke="#969696" stroke-width="0.9" stroke-dasharray="1.3 1.3"/><path d="M495.4 27.97V265.8" stroke="#8c8c8c" stroke-width="1"/><path d="M509.4 27.97V265.8" stroke="#969696" stroke-width="0.9" stroke-dasharray="1.3 1.3"/><path d="M523.4 27.97V265.8" stroke="#8c8c8c" stroke-width="1"/><path d="M327.4 251.81H537.4" stroke="#969696" stroke-width="0.9" stroke-dasharray="1.3 1.3"/><path d="M327.4 237.82H537.4" stroke="#8c8c8c" stroke-width="1"/><path d="M327.4 223.83H537.4" stroke="#969696" stroke-width="0.9" stroke-dasharray="1.3 1.3"/><path d="M327.4 209.84H537.4" stroke="#8c8c8c" stroke-width="1"/><path d="M327.4 195.85H537.4" stroke="#969696" stroke-width="0.9" stroke-dasharray="1.3 1.3"/><path d="M327.4 181.86H537.4" stroke="#8c8c8c" stroke-width="1"/><path d="M327.4 167.87H537.4" stroke="#969696" stroke-width="0.9" stroke-dasharray="1.3 1.3"/><path d="M327.4 153.88H537.4" stroke="#8c8c8c" stroke-width="1"/><path d="M327.4 139.89H537.4" stroke="#969696" stroke-width="0.9" stroke-dasharray="1.3 1.3"/><path d="M327.4 125.9H537.4" stroke="#8c8c8c" stroke-width="1"/><path d="M327.4 111.91H537.4" stroke="#969696" stroke-width="0.9" stroke-dasharray="1.3 1.3"/><path d="M327.4 97.92H537.4" stroke="#8c8c8c" stroke-width="1"/><path d="M327.4 83.93H537.4" stroke="#969696" stroke-width="0.9" stroke-dasharray="1.3 1.3"/><path d="M327.4 69.94H537.4" stroke="#8c8c8c" stroke-width="1"/><path d="M327.4 55.95H537.4" stroke="#969696" stroke-width="0.9" stroke-dasharray="1.3 1.3"/><path d="M327.4 41.96H537.4" stroke="#8c8c8c" stroke-width="1"/></svg><div class="cf" style="transform:translate(40px,31px)"><i class="r3"></i><i class="r4"></i><i class="r5"></i><i class="r6"></i><i class="r7"></i><i class="r8"></i><i class="r9"></i><i class="r10"></i><i class="r11"></i><i class="r12"></i><i class="r13"></i><i class="r14"></i><i class="r15"></i><i class="r16"></i><i class="r17"></i><i class="r18"></i><i class="r19"></i><i class="r20"></i><i class="r21"></i><i class="r22"></i><i class="r23"></i><i class="r24"></i><i class="r25"></i><i class="r26"></i><i class="r27"></i><i class="r28"></i><i class="r29"></i><i class="r30"></i><i class="r31"></i><i class="r32"></i><i class="r33"></i><i class="r34"></i><i class="r35"></i><i class="r36"></i><i class="r37"></i><i class="r38"></i><i class="r39"></i><i class="r40"></i><i class="r41"></i><i class="r42"></i><i class="r43"></i><i class="r44"></i><i class="r45"></i><i class="r46"></i><i class="r47"></i><i class="r48"></i><i class="r49"></i><i class="r50"></i><i class="r51"></i><i class="r52"></i><i class="r53"></i><i class="r54"></i><i class="r55"></i><i class="r56"></i><i class="r57"></i><i class="r58"></i><i class="r59"></i><i class="r60"></i><i class="r61"></i><i class="r62"></i><i class="r63"></i><i class="r64"></i><i class="r65"></i><i class="r66"></i><i class="r67"></i><i class="r68"></i><i class="r69"></i><i class="r70"></i><i class="r71"></i><i class="r72"></i><i class="r73"></i><i class="r74"></i><i class="r75"></i><i class="r76"></i><i class="r77"></i><i class="r78"></i><i class="r79"></i><i class="r80"></i><i class="r81"></i><i class="r82"></i><i class="r83"></i><i class="r84"></i><i class="r85"></i><i class="r86"></i><i class="r87"></i><i class="r88"></i><i class="r89"></i><i class="r90"></i><i class="r91"></i><i class="r92"></i><i class="r93"></i><i class="r94"></i><i class="r95"></i><i class="r96"></i><i class="r97"></i><i class="r98"></i><i class="r99"></i><i class="r100"></i><i class="r101"></i><i class="r102"></i><i class="r103"></i><i class="r104"></i><i class="r105"></i><i class="r106"></i><i class="r107"></i><i class="r108"></i><i class="r109"></i><i class="r110"></i><i class="r111"></i><i class="r112"></i><i class="r113"></i><i class="r114"></i><i class="r115"></i><i class="r116"></i><i class="r117"></i><i class="r118"></i><i class="r119"></i><i class="r120"></i><i class="r121"></i><i class="r122"></i><i class="r123"></i><i class="r124"></i><i class="r125"></i><i class="r126"></i><i class="r127"></i><i class="r128"></i><i class="r129"></i><i class="r130"></i><i class="r131"></i><i class="r132"></i><i class="r133"></i><i class="r134"></i><i class="r135"></i><i class="r136"></i><i class="r137"></i><i class="r138"></i><i class="r139"></i><i class="r140"></i><i class="r141"></i><i class="r142"></i><i class="r143"></i><i class="r144"></i><i class="r145"></i><i class="r146"></i><i class="r147"></i><i class="r148"></i><i class="r149"></i><i class="r150"></i><i class="r151"></i><i class="r152"></i><i class="r153"></i><i class="r154"></i><i class="r155"></i><i class="r156"></i><i class="r157"></i><i class="r158"></i><i class="r159"></i><i class="r160"></i><i class="r161"></i><i class="r162"></i><i class="r163"></i><i class="r164"></i><i class="r165"></i><i class="r166"></i><i class="r167"></i><i class="r168"></i><i class="r169"></i><i class="r170"></i><i class="r171"></i><i class="r172"></i><i class="r173"></i><i class="r174"></i><i class="r175"></i><i class="r176"></i><i class="r177"></i><i class="r178"></i><i class="r179"></i><i class="r180"></i><i class="r181"></i><i class="r182"></i><i class="r183"></i><i class="r184"></i><i class="r185"></i><i class="r186"></i><i class="r187"></i><i class="r188"></i><i class="r189"></i><i class="r190"></i><i class="r191"></i><i class="r192"></i><i class="r193"></i><i class="r194"></i><i class="r195"></i><i class="r196"></i><i class="r197"></i><i class="r198"></i><i class="r199"></i><i class="r200"></i><i class="r201"></i><i class="r202"></i><i class="r203"></i><i class="r204"></i><i class="r205"></i><i class="r206"></i><i class="r207"></i><i class="r208"></i><i class="r209"></i><i class="r210"></i><i class="r211"></i><i class="r212"></i><i class="r213"></i><i class="r214"></i><i class="r215"></i><i class="r216"></i><i class="r217"></i><i class="r218"></i><i class="r219"></i><i class="r220"></i><i class="r221"></i><i class="r222"></i><i class="r223"></i><i class="r224"></i><i class="r225"></i><i class="r226"></i><i class="r227"></i><i class="r228"></i><i class="r229"></i><i class="r230"></i><i class="r231"></i><i class="r232"></i><i class="r233"></i><i class="r234"></i></div><div class="cf c2" style="transform:translate(326.893px,27.519px) scale(1.01339,1.01267)"><i class="r3"></i><i class="r4"></i><i class="r5"></i><i class="r6"></i><i class="r7"></i><i class="r8"></i><i class="r9"></i><i class="r10"></i><i class="r11"></i><i class="r12"></i><i class="r13"></i><i class="r14"></i><i class="r15"></i><i class="r16"></i><i class="r17"></i><i class="r18"></i><i class="r19"></i><i class="r20"></i><i class="r21"></i><i class="r22"></i><i class="r23"></i><i class="r24"></i><i class="r25"></i><i class="r26"></i><i class="r27"></i><i class="r28"></i><i class="r29"></i><i class="r30"></i><i class="r31"></i><i class="r32"></i><i class="r33"></i><i class="r34"></i><i class="r35"></i><i class="r36"></i><i class="r37"></i><i class="r38"></i><i class="r39"></i><i class="r40"></i><i class="r41"></i><i class="r42"></i><i class="r43"></i><i class="r44"></i><i class="r45"></i><i class="r46"></i><i class="r47"></i><i class="r48"></i><i class="r49"></i><i class="r50"></i><i class="r51"></i><i class="r52"></i><i class="r53"></i><i class="r54"></i><i class="r55"></i><i class="r56"></i><i class="r57"></i><i class="r58"></i><i class="r59"></i><i class="r60"></i><i class="r61"></i><i class="r62"></i><i class="r63"></i><i class="r64"></i><i class="r65"></i><i class="r66"></i><i class="r67"></i><i class="r68"></i><i class="r69"></i><i class="r70"></i><i class="r71"></i><i class="r72"></i><i class="r73"></i><i class="r74"></i><i class="r75"></i><i class="r76"></i><i class="r77"></i><i class="r78"></i><i class="r79"></i><i class="r80"></i><i class="r81"></i><i class="r82"></i><i class="r83"></i><i class="r84"></i><i class="r85"></i><i class="r86"></i><i class="r87"></i><i class="r88"></i><i class="r89"></i><i class="r90"></i><i class="r91"></i><i class="r92"></i><i class="r93"></i><i class="r94"></i><i class="r95"></i><i class="r96"></i><i class="r97"></i><i class="r98"></i><i class="r99"></i><i class="r100"></i><i class="r101"></i><i class="r102"></i><i class="r103"></i><i class="r104"></i><i class="r105"></i><i class="r106"></i><i class="r107"></i><i class="r108"></i><i class="r109"></i><i class="r110"></i><i class="r111"></i><i class="r112"></i><i class="r113"></i><i class="r114"></i><i class="r115"></i><i class="r116"></i><i class="r117"></i><i class="r118"></i><i class="r119"></i><i class="r120"></i><i class="r121"></i><i class="r122"></i><i class="r123"></i><i class="r124"></i><i class="r125"></i><i class="r126"></i><i class="r127"></i><i class="r128"></i><i class="r129"></i><i class="r130"></i><i class="r131"></i><i class="r132"></i><i class="r133"></i><i class="r134"></i><i class="r135"></i><i class="r136"></i><i class="r137"></i><i class="r138"></i><i class="r139"></i><i class="r140"></i><i class="r141"></i><i class="r142"></i><i class="r143"></i><i class="r144"></i><i class="r145"></i><i class="r146"></i><i class="r147"></i><i class="r148"></i><i class="r149"></i><i class="r150"></i><i class="r151"></i><i class="r152"></i><i class="r153"></i><i class="r154"></i><i class="r155"></i><i class="r156"></i><i class="r157"></i><i class="r158"></i><i class="r159"></i><i class="r160"></i><i class="r161"></i><i class="r162"></i><i class="r163"></i><i class="r164"></i><i class="r165"></i><i class="r166"></i><i class="r167"></i><i class="r168"></i><i class="r169"></i><i class="r170"></i><i class="r171"></i><i class="r172"></i><i class="r173"></i><i class="r174"></i><i class="r175"></i><i class="r176"></i><i class="r177"></i><i class="r178"></i><i class="r179"></i><i class="r180"></i><i class="r181"></i><i class="r182"></i><i class="r183"></i><i class="r184"></i><i class="r185"></i><i class="r186"></i><i class="r187"></i><i class="r188"></i><i class="r189"></i><i class="r190"></i><i class="r191"></i><i class="r192"></i><i class="r193"></i><i class="r194"></i><i class="r195"></i><i class="r196"></i><i class="r197"></i><i class="r198"></i><i class="r199"></i><i class="r200"></i><i class="r201"></i><i class="r202"></i><i class="r203"></i><i class="r204"></i><i class="r205"></i><i class="r206"></i><i class="r207"></i><i class="r208"></i><i class="r209"></i><i class="r210"></i><i class="r211"></i><i class="r212"></i><i class="r213"></i><i class="r214"></i><i class="r215"></i><i class="r216"></i><i class="r217"></i><i class="r218"></i><i class="r219"></i><i class="r220"></i><i class="r221"></i><i class="r222"></i><i class="r223"></i><i class="r224"></i><i class="r225"></i><i class="r226"></i><i class="r227"></i><i class="r228"></i><i class="r229"></i><i class="r230"></i><i class="r231"></i><i class="r232"></i><i class="r233"></i><i class="r234"></i></div><svg class="ly" width="550" height="320" viewBox="0 0 550 320"><clipPath id="c1"><path d="M88.6 264.92L88.6 264.92L88.6 264.92L88.59 264.92L88.59 264.92L88.58 264.92L88.58 264.92L88.57 264.92L88.56 264.93L88.55 264.93L88.54 264.94L88.53 264.94L88.52 264.95L88.51 264.95L88.5 264.95L88.5 264.95L88.49 264.95L88.48 264.94L88.47 264.95L88.45 264.95L88.44 264.95L88.43 264.96L88.41 264.97L88.4 264.97L88.38 264.97L88.37 264.98L88.36 264.98L88.34 264.98L88.33 264.97L88.32 264.97L88.3 264.97L88.28 264.97L88.27 264.97L88.25 264.97L88.23 264.97L88.21 264.97L88.19 264.97L88.17 264.97L88.15 264.98L88.13 264.98L88.1 264.98L88.08 264.98L88.05 264.97L88.02 264.97L87.99 264.96L87.96 264.94L87.93 264.93L87.9 264.91L87.86 264.89L87.81 264.87L87.77 264.84L87.72 264.81L87.67 264.77L87.61 264.74L87.55 264.7L87.5 264.66L87.44 264.61L87.38 264.56L87.31 264.51L87.24 264.46L87.17 264.39L87.09 264.33L87 264.26L86.91 264.18L86.82 264.1L86.72 264.01L86.61 263.92L86.51 263.83L86.4 263.73L86.29 263.63L86.18 263.52L86.05 263.41L85.92 263.29L85.79 263.17L85.65 263.04L85.5 262.92L85.35 262.78L85.19 262.64L85.01 262.49L84.83 262.33L84.63 262.16L84.43 261.98L84.22 261.8L84 261.61L83.77 261.41L83.53 261.2L83.29 260.99L83.04 260.77L82.78 260.54L82.51 260.29L82.22 260.03L81.93 259.75L81.62 259.46L81.3 259.15L80.98 258.82L80.64 258.47L80.29 258.09L79.93 257.7L79.56 257.3L79.19 256.87L78.8 256.41L78.38 255.88L77.94 255.28L77.47 254.61L76.98 253.9L76.47 253.13L75.93 252.28L75.37 251.36L74.79 250.33L74.18 249.23L73.56 248.06L72.9 246.81L72.23 245.45L71.52 243.96L70.78 242.32L70.01 240.54L69.22 238.66L68.39 236.65L67.54 234.49L66.65 232.16L65.73 229.63L64.76 226.94L63.74 224.09L62.69 221.08L61.62 217.87L60.55 214.47L59.48 210.85L58.42 207L57.34 202.94L56.25 198.68L55.17 194.22L54.1 189.59L53.04 184.79L51.99 179.77L50.93 174.51L49.88 169.07L48.86 163.51L47.89 157.89L46.99 152.27L46.15 146.58L45.34 140.76L44.58 134.88L43.88 129.01L43.27 123.21L42.77 117.54L42.35 111.96L42 106.41L41.73 100.94L41.57 95.57L41.51 90.37L41.58 85.38L41.76 80.54L42.05 75.82L42.45 71.26L42.97 66.9L43.59 62.81L44.34 59.02L45.22 55.51L46.23 52.23L47.36 49.21L48.58 46.47L49.88 44.04L51.25 41.94L52.7 40.21L54.25 38.82L55.88 37.73L57.57 36.92L59.29 36.33L61.03 35.92L62.79 35.76L64.61 35.89L66.45 36.24L68.32 36.76L70.19 37.37L72.05 38.02L73.92 38.74L75.79 39.59L77.68 40.54L79.55 41.55L81.41 42.59L83.24 43.63L85.04 44.68L86.82 45.76L88.59 46.87L90.33 48L92.07 49.16L93.8 50.34L95.51 51.54L97.21 52.77L98.9 54.02L100.58 55.29L102.26 56.58L103.94 57.89L105.61 59.22L107.29 60.57L108.96 61.95L110.62 63.34L112.28 64.75L113.94 66.18L115.6 67.61L117.25 69.07L118.89 70.54L120.54 72.02L122.19 73.52L123.83 75.02L125.48 76.53L127.12 78.05L128.76 79.59L130.41 81.13L132.05 82.69L133.7 84.25L135.34 85.81L136.99 87.39L138.64 88.97L140.29 90.56L141.94 92.16L143.59 93.75L145.23 95.35L146.87 96.95L148.51 98.56L150.15 100.17L151.79 101.78L153.42 103.39L155.06 105L156.7 106.61L158.33 108.22L159.96 109.83L161.59 111.44L163.2 113.04L164.82 114.63L166.43 116.23L168.03 117.83L169.62 119.41L171.21 121L172.79 122.57L174.36 124.13L175.93 125.7L177.49 127.25L179.04 128.8L180.58 130.33L182.1 131.85L183.62 133.36L185.13 134.87L186.62 136.36L188.11 137.84L189.58 139.3L191.03 140.75L192.47 142.18L193.89 143.6L195.31 145L196.7 146.38L198.08 147.75L199.43 149.09L200.76 150.42L202.07 151.73L203.36 153.03L204.63 154.3L205.87 155.54L207.08 156.75L208.26 157.92L209.4 159.06L210.52 160.18L211.62 161.27L212.69 162.33L213.74 163.38L214.77 164.41L215.79 165.42L216.78 166.41L217.75 167.37L218.69 168.3L219.6 169.21L220.48 170.08L221.33 170.92L222.15 171.73L222.94 172.51L223.71 173.28L224.46 174.02L225.18 174.73L225.87 175.43L226.54 176.09L227.19 176.74L227.81 177.36L228.41 177.97L228.99 178.55L229.54 179.1L230.08 179.63L230.59 180.15L231.08 180.64L231.56 181.12L232.02 181.57L232.47 182.01L232.89 182.43L233.3 182.83L233.69 183.22L234.08 183.6L234.44 183.97L234.8 184.32L235.14 184.66L235.46 184.99L235.78 185.31L236.09 185.62L236.4 185.92L236.69 186.22L236.98 186.5L237.25 186.78L237.52 187.05L237.78 187.31L238.03 187.56L238.27 187.8L238.51 188.03L238.73 188.26L238.95 188.48L239.16 188.69L239.36 188.89L239.56 189.08L239.75 189.26L239.93 189.44L240.1 189.6L240.26 189.76L240.42 189.92L240.57 190.07L240.71 190.21L240.84 190.34L240.97 190.47L241.09 190.59L241.21 190.71L241.33 190.83L241.43 190.93L241.54 191.04L241.64 191.14L241.73 191.23L241.82 191.32L241.9 191.4L241.98 191.48L242.06 191.56L242.13 191.63L242.2 191.7L242.26 191.76L242.31 191.81L242.36 191.86L242.41 191.91L242.46 191.96L242.5 192L242.55 192.05L242.59 192.09L242.63 192.13L242.67 192.17L242.71 192.21L242.75 192.25L242.79 192.29L242.82 192.32L242.85 192.35L242.88 192.38L242.91 192.41L242.95 192.45L242.98 192.48L243.01 192.51L243.04 192.54L243.08 192.58L243.11 192.61L243.14 192.64L243.17 192.67L243.2 192.7L243.23 192.73L243.25 192.75L243.28 192.78L243.3 192.8L243.33 192.83L243.35 192.85L243.37 192.87L243.38 192.88L243.4 192.9L243.41 192.91L243.43 192.93L243.44 192.94L243.45 192.95L243.46 192.96L243.46 192.96L243.47 192.97L243.48 192.98L243.48 192.98L243.49 192.99L243.49 192.99L243.49 192.99L243.5 193Z"/></clipPath><g clip-path="url(#c1)" stroke="#000" stroke-opacity="0.035"><path d="M54.31 31.45V266.3"/><path d="M68.13 31.45V266.3"/><path d="M81.95 31.45V266.3"/><path d="M95.76 31.45V266.3"/><path d="M109.58 31.45V266.3"/><path d="M123.39 31.45V266.3"/><path d="M137.21 31.45V266.3"/><path d="M151.02 31.45V266.3"/><path d="M164.84 31.45V266.3"/><path d="M178.65 31.45V266.3"/><path d="M192.47 31.45V266.3"/><path d="M206.28 31.45V266.3"/><path d="M220.1 31.45V266.3"/><path d="M233.91 31.45V266.3"/><path d="M40.5 252.49H247.73"/><path d="M40.5 238.67H247.73"/><path d="M40.5 224.86H247.73"/><path d="M40.5 211.04H247.73"/><path d="M40.5 197.23H247.73"/><path d="M40.5 183.41H247.73"/><path d="M40.5 169.59H247.73"/><path d="M40.5 155.78H247.73"/><path d="M40.5 141.97H247.73"/><path d="M40.5 128.15H247.73"/><path d="M40.5 114.33H247.73"/><path d="M40.5 100.52H247.73"/><path d="M40.5 86.7H247.73"/><path d="M40.5 72.89H247.73"/><path d="M40.5 59.07H247.73"/><path d="M40.5 45.26H247.73"/></g><clipPath id="c2"><path d="M376.15 264.4L376.15 264.4L376.14 264.4L376.14 264.4L376.13 264.4L376.13 264.4L376.12 264.4L376.11 264.4L376.1 264.41L376.09 264.41L376.08 264.42L376.07 264.43L376.06 264.43L376.05 264.43L376.05 264.43L376.04 264.43L376.03 264.43L376.02 264.43L376.01 264.43L376 264.43L375.98 264.44L375.97 264.44L375.95 264.45L375.94 264.45L375.92 264.46L375.91 264.46L375.9 264.46L375.88 264.46L375.87 264.46L375.86 264.46L375.84 264.46L375.82 264.46L375.81 264.46L375.79 264.46L375.77 264.46L375.75 264.46L375.73 264.46L375.71 264.46L375.69 264.46L375.66 264.46L375.64 264.46L375.61 264.46L375.59 264.46L375.56 264.45L375.53 264.44L375.5 264.43L375.47 264.41L375.43 264.39L375.39 264.37L375.35 264.35L375.3 264.32L375.25 264.29L375.2 264.25L375.14 264.22L375.08 264.18L375.03 264.13L374.97 264.09L374.9 264.04L374.84 263.99L374.77 263.93L374.69 263.87L374.61 263.8L374.52 263.73L374.43 263.65L374.34 263.57L374.24 263.48L374.13 263.39L374.03 263.3L373.92 263.2L373.8 263.09L373.69 262.98L373.56 262.87L373.43 262.75L373.29 262.63L373.15 262.5L373 262.37L372.85 262.24L372.68 262.09L372.51 261.94L372.32 261.78L372.12 261.61L371.92 261.43L371.7 261.24L371.48 261.05L371.25 260.85L371.01 260.64L370.76 260.42L370.51 260.2L370.24 259.97L369.97 259.72L369.68 259.45L369.38 259.16L369.07 258.87L368.75 258.56L368.42 258.23L368.08 257.87L367.72 257.49L367.36 257.09L366.99 256.68L366.61 256.25L366.21 255.78L365.79 255.25L365.34 254.64L364.87 253.96L364.37 253.24L363.85 252.46L363.31 251.61L362.74 250.67L362.15 249.63L361.53 248.51L360.9 247.33L360.24 246.06L359.55 244.68L358.84 243.18L358.09 241.51L357.31 239.72L356.5 237.81L355.67 235.77L354.8 233.58L353.9 231.22L352.96 228.67L351.98 225.94L350.95 223.06L349.89 220L348.8 216.76L347.72 213.31L346.64 209.64L345.56 205.75L344.46 201.64L343.36 197.32L342.26 192.81L341.18 188.12L340.11 183.26L339.05 178.18L337.97 172.85L336.91 167.34L335.87 161.71L334.89 156.02L333.98 150.33L333.12 144.56L332.3 138.67L331.53 132.72L330.83 126.77L330.21 120.89L329.7 115.16L329.27 109.51L328.92 103.89L328.65 98.34L328.48 92.91L328.43 87.64L328.49 82.59L328.68 77.69L328.97 72.91L329.38 68.29L329.9 63.88L330.54 59.73L331.29 55.89L332.18 52.34L333.21 49.02L334.35 45.96L335.59 43.19L336.91 40.73L338.29 38.6L339.76 36.84L341.33 35.44L342.99 34.34L344.7 33.51L346.45 32.91L348.2 32.5L349.99 32.34L351.83 32.47L353.7 32.83L355.59 33.35L357.49 33.97L359.38 34.63L361.26 35.36L363.17 36.22L365.08 37.18L366.98 38.2L368.86 39.26L370.72 40.31L372.54 41.37L374.34 42.46L376.13 43.59L377.9 44.74L379.66 45.91L381.41 47.11L383.15 48.32L384.87 49.56L386.58 50.83L388.29 52.11L389.99 53.42L391.69 54.75L393.39 56.1L395.08 57.47L396.77 58.86L398.46 60.27L400.14 61.7L401.82 63.14L403.5 64.6L405.17 66.07L406.84 67.56L408.51 69.06L410.18 70.57L411.85 72.09L413.52 73.63L415.18 75.17L416.85 76.73L418.51 78.29L420.18 79.86L421.84 81.44L423.51 83.03L425.19 84.62L426.86 86.23L428.53 87.84L430.2 89.45L431.87 91.06L433.53 92.68L435.2 94.31L436.86 95.94L438.52 97.57L440.18 99.2L441.84 100.83L443.49 102.46L445.15 104.09L446.81 105.72L448.46 107.35L450.11 108.97L451.75 110.59L453.38 112.21L455.01 113.83L456.64 115.44L458.25 117.05L459.86 118.66L461.46 120.25L463.06 121.83L464.64 123.41L466.22 124.99L467.79 126.55L469.35 128.11L470.9 129.65L472.44 131.18L473.96 132.7L475.48 134.21L476.98 135.71L478.47 137.19L479.94 138.66L481.4 140.11L482.85 141.54L484.28 142.96L485.69 144.36L487.09 145.75L488.46 147.11L489.8 148.45L491.13 149.78L492.44 151.09L493.73 152.38L494.99 153.64L496.21 154.86L497.4 156.05L498.57 157.2L499.7 158.33L500.81 159.43L501.89 160.51L502.96 161.57L504.01 162.62L505.04 163.64L506.04 164.64L507.02 165.62L507.97 166.56L508.9 167.48L509.79 168.36L510.65 169.21L511.48 170.03L512.29 170.83L513.07 171.6L513.82 172.35L514.55 173.07L515.26 173.77L515.93 174.45L516.59 175.11L517.22 175.74L517.83 176.35L518.41 176.93L518.98 177.5L519.51 178.04L520.03 178.55L520.53 179.05L521.02 179.54L521.49 180L521.94 180.44L522.37 180.87L522.78 181.28L523.18 181.67L523.57 182.06L523.94 182.43L524.3 182.78L524.64 183.13L524.97 183.46L525.3 183.78L525.61 184.1L525.92 184.41L526.22 184.7L526.51 184.99L526.79 185.27L527.06 185.54L527.32 185.81L527.57 186.06L527.82 186.31L528.06 186.54L528.29 186.77L528.51 186.99L528.72 187.2L528.93 187.41L529.12 187.6L529.31 187.78L529.5 187.96L529.67 188.13L529.84 188.3L530 188.45L530.15 188.6L530.29 188.74L530.42 188.88L530.55 189.01L530.68 189.13L530.8 189.26L530.92 189.37L531.02 189.48L531.13 189.58L531.23 189.68L531.32 189.78L531.41 189.87L531.5 189.96L531.58 190.04L531.66 190.11L531.73 190.19L531.8 190.25L531.86 190.32L531.92 190.37L531.97 190.42L532.02 190.47L532.06 190.52L532.11 190.56L532.15 190.61L532.2 190.65L532.24 190.69L532.28 190.74L532.32 190.78L532.36 190.81L532.4 190.85L532.43 190.88L532.46 190.92L532.49 190.95L532.52 190.98L532.56 191.01L532.59 191.04L532.62 191.08L532.66 191.11L532.69 191.14L532.72 191.17L532.75 191.21L532.78 191.24L532.81 191.27L532.84 191.29L532.87 191.32L532.9 191.35L532.92 191.37L532.94 191.4L532.96 191.42L532.98 191.44L533 191.45L533.02 191.47L533.03 191.49L533.04 191.5L533.06 191.51L533.07 191.52L533.07 191.53L533.08 191.53L533.09 191.54L533.09 191.55L533.1 191.55L533.11 191.56L533.11 191.56L533.11 191.57L533.12 191.57Z"/></clipPath><g clip-path="url(#c2)" stroke="#000" stroke-opacity="0.035"><path d="M341.4 27.97V265.8"/><path d="M355.4 27.97V265.8"/><path d="M369.4 27.97V265.8"/><path d="M383.4 27.97V265.8"/><path d="M397.4 27.97V265.8"/><path d="M411.4 27.97V265.8"/><path d="M425.4 27.97V265.8"/><path d="M439.4 27.97V265.8"/><path d="M453.4 27.97V265.8"/><path d="M467.4 27.97V265.8"/><path d="M481.4 27.97V265.8"/><path d="M495.4 27.97V265.8"/><path d="M509.4 27.97V265.8"/><path d="M523.4 27.97V265.8"/><path d="M327.4 251.81H537.4"/><path d="M327.4 237.82H537.4"/><path d="M327.4 223.83H537.4"/><path d="M327.4 209.84H537.4"/><path d="M327.4 195.85H537.4"/><path d="M327.4 181.86H537.4"/><path d="M327.4 167.87H537.4"/><path d="M327.4 153.88H537.4"/><path d="M327.4 139.89H537.4"/><path d="M327.4 125.9H537.4"/><path d="M327.4 111.91H537.4"/><path d="M327.4 97.92H537.4"/><path d="M327.4 83.93H537.4"/><path d="M327.4 69.94H537.4"/><path d="M327.4 55.95H537.4"/><path d="M327.4 41.96H537.4"/></g><path d="M88.6 264.92L88.6 264.92L88.6 264.92L88.59 264.92L88.59 264.92L88.58 264.92L88.58 264.92L88.57 264.92L88.56 264.93L88.55 264.93L88.54 264.94L88.53 264.94L88.52 264.95L88.51 264.95L88.5 264.95L88.5 264.95L88.49 264.95L88.48 264.94L88.47 264.95L88.45 264.95L88.44 264.95L88.43 264.96L88.41 264.97L88.4 264.97L88.38 264.97L88.37 264.98L88.36 264.98L88.34 264.98L88.33 264.97L88.32 264.97L88.3 264.97L88.28 264.97L88.27 264.97L88.25 264.97L88.23 264.97L88.21 264.97L88.19 264.97L88.17 264.97L88.15 264.98L88.13 264.98L88.1 264.98L88.08 264.98L88.05 264.97L88.02 264.97L87.99 264.96L87.96 264.94L87.93 264.93L87.9 264.91L87.86 264.89L87.81 264.87L87.77 264.84L87.72 264.81L87.67 264.77L87.61 264.74L87.55 264.7L87.5 264.66L87.44 264.61L87.38 264.56L87.31 264.51L87.24 264.46L87.17 264.39L87.09 264.33L87 264.26L86.91 264.18L86.82 264.1L86.72 264.01L86.61 263.92L86.51 263.83L86.4 263.73L86.29 263.63L86.18 263.52L86.05 263.41L85.92 263.29L85.79 263.17L85.65 263.04L85.5 262.92L85.35 262.78L85.19 262.64L85.01 262.49L84.83 262.33L84.63 262.16L84.43 261.98L84.22 261.8L84 261.61L83.77 261.41L83.53 261.2L83.29 260.99L83.04 260.77L82.78 260.54L82.51 260.29L82.22 260.03L81.93 259.75L81.62 259.46L81.3 259.15L80.98 258.82L80.64 258.47L80.29 258.09L79.93 257.7L79.56 257.3L79.19 256.87L78.8 256.41L78.38 255.88L77.94 255.28L77.47 254.61L76.98 253.9L76.47 253.13L75.93 252.28L75.37 251.36L74.79 250.33L74.18 249.23L73.56 248.06L72.9 246.81L72.23 245.45L71.52 243.96L70.78 242.32L70.01 240.54L69.22 238.66L68.39 236.65L67.54 234.49L66.65 232.16L65.73 229.63L64.76 226.94L63.74 224.09L62.69 221.08L61.62 217.87L60.55 214.47L59.48 210.85L58.42 207L57.34 202.94L56.25 198.68L55.17 194.22L54.1 189.59L53.04 184.79L51.99 179.77L50.93 174.51L49.88 169.07L48.86 163.51L47.89 157.89L46.99 152.27L46.15 146.58L45.34 140.76L44.58 134.88L43.88 129.01L43.27 123.21L42.77 117.54L42.35 111.96L42 106.41L41.73 100.94L41.57 95.57L41.51 90.37L41.58 85.38L41.76 80.54L42.05 75.82L42.45 71.26L42.97 66.9L43.59 62.81L44.34 59.02L45.22 55.51L46.23 52.23L47.36 49.21L48.58 46.47L49.88 44.04L51.25 41.94L52.7 40.21L54.25 38.82L55.88 37.73L57.57 36.92L59.29 36.33L61.03 35.92L62.79 35.76L64.61 35.89L66.45 36.24L68.32 36.76L70.19 37.37L72.05 38.02L73.92 38.74L75.79 39.59L77.68 40.54L79.55 41.55L81.41 42.59L83.24 43.63L85.04 44.68L86.82 45.76L88.59 46.87L90.33 48L92.07 49.16L93.8 50.34L95.51 51.54L97.21 52.77L98.9 54.02L100.58 55.29L102.26 56.58L103.94 57.89L105.61 59.22L107.29 60.57L108.96 61.95L110.62 63.34L112.28 64.75L113.94 66.18L115.6 67.61L117.25 69.07L118.89 70.54L120.54 72.02L122.19 73.52L123.83 75.02L125.48 76.53L127.12 78.05L128.76 79.59L130.41 81.13L132.05 82.69L133.7 84.25L135.34 85.81L136.99 87.39L138.64 88.97L140.29 90.56L141.94 92.16L143.59 93.75L145.23 95.35L146.87 96.95L148.51 98.56L150.15 100.17L151.79 101.78L153.42 103.39L155.06 105L156.7 106.61L158.33 108.22L159.96 109.83L161.59 111.44L163.2 113.04L164.82 114.63L166.43 116.23L168.03 117.83L169.62 119.41L171.21 121L172.79 122.57L174.36 124.13L175.93 125.7L177.49 127.25L179.04 128.8L180.58 130.33L182.1 131.85L183.62 133.36L185.13 134.87L186.62 136.36L188.11 137.84L189.58 139.3L191.03 140.75L192.47 142.18L193.89 143.6L195.31 145L196.7 146.38L198.08 147.75L199.43 149.09L200.76 150.42L202.07 151.73L203.36 153.03L204.63 154.3L205.87 155.54L207.08 156.75L208.26 157.92L209.4 159.06L210.52 160.18L211.62 161.27L212.69 162.33L213.74 163.38L214.77 164.41L215.79 165.42L216.78 166.41L217.75 167.37L218.69 168.3L219.6 169.21L220.48 170.08L221.33 170.92L222.15 171.73L222.94 172.51L223.71 173.28L224.46 174.02L225.18 174.73L225.87 175.43L226.54 176.09L227.19 176.74L227.81 177.36L228.41 177.97L228.99 178.55L229.54 179.1L230.08 179.63L230.59 180.15L231.08 180.64L231.56 181.12L232.02 181.57L232.47 182.01L232.89 182.43L233.3 182.83L233.69 183.22L234.08 183.6L234.44 183.97L234.8 184.32L235.14 184.66L235.46 184.99L235.78 185.31L236.09 185.62L236.4 185.92L236.69 186.22L236.98 186.5L237.25 186.78L237.52 187.05L237.78 187.31L238.03 187.56L238.27 187.8L238.51 188.03L238.73 188.26L238.95 188.48L239.16 188.69L239.36 188.89L239.56 189.08L239.75 189.26L239.93 189.44L240.1 189.6L240.26 189.76L240.42 189.92L240.57 190.07L240.71 190.21L240.84 190.34L240.97 190.47L241.09 190.59L241.21 190.71L241.33 190.83L241.43 190.93L241.54 191.04L241.64 191.14L241.73 191.23L241.82 191.32L241.9 191.4L241.98 191.48L242.06 191.56L242.13 191.63L242.2 191.7L242.26 191.76L242.31 191.81L242.36 191.86L242.41 191.91L242.46 191.96L242.5 192L242.55 192.05L242.59 192.09L242.63 192.13L242.67 192.17L242.71 192.21L242.75 192.25L242.79 192.29L242.82 192.32L242.85 192.35L242.88 192.38L242.91 192.41L242.95 192.45L242.98 192.48L243.01 192.51L243.04 192.54L243.08 192.58L243.11 192.61L243.14 192.64L243.17 192.67L243.2 192.7L243.23 192.73L243.25 192.75L243.28 192.78L243.3 192.8L243.33 192.83L243.35 192.85L243.37 192.87L243.38 192.88L243.4 192.9L243.41 192.91L243.43 192.93L243.44 192.94L243.45 192.95L243.46 192.96L243.46 192.96L243.47 192.97L243.48 192.98L243.48 192.98L243.49 192.99L243.49 192.99L243.49 192.99L243.5 193Z" fill="none" stroke="#111" stroke-width="1.35" stroke-linejoin="round"/><path d="M39.8 31.45H248.33" fill="none" stroke="#2e2e2e" stroke-width="1.1"/><path d="M247.73 31.45V267" fill="none" stroke="#111" stroke-width="1.3"/><path d="M40.5 30.95V266.3H248.33" fill="none" stroke="#111" stroke-width="1.45" stroke-linejoin="miter"/><path d="M40.5 266.3v3.2" stroke="#222" stroke-width="1"/><text x="41.4" y="278.9" text-anchor="middle" class="tk">0.0</text><path d="M68.13 266.3v3.2" stroke="#222" stroke-width="1"/><text x="69.03" y="278.9" text-anchor="middle" class="tk">0.1</text><path d="M95.76 266.3v3.2" stroke="#222" stroke-width="1"/><text x="96.66" y="278.9" text-anchor="middle" class="tk">0.2</text><path d="M123.39 266.3v3.2" stroke="#222" stroke-width="1"/><text x="124.29" y="278.9" text-anchor="middle" class="tk">0.3</text><path d="M151.02 266.3v3.2" stroke="#222" stroke-width="1"/><text x="151.92" y="278.9" text-anchor="middle" class="tk">0.4</text><path d="M178.65 266.3v3.2" stroke="#222" stroke-width="1"/><text x="179.55" y="278.9" text-anchor="middle" class="tk">0.5</text><path d="M206.28 266.3v3.2" stroke="#222" stroke-width="1"/><text x="207.18" y="278.9" text-anchor="middle" class="tk">0.6</text><path d="M233.91 266.3v3.2" stroke="#222" stroke-width="1"/><text x="234.81" y="278.9" text-anchor="middle" class="tk">0.7</text><path d="M40.5 266.3h-3.2" stroke="#222" stroke-width="1"/><text x="34.2" y="269.6" text-anchor="end" class="tk">0.0</text><path d="M40.5 238.67h-3.2" stroke="#222" stroke-width="1"/><text x="34.2" y="241.97" text-anchor="end" class="tk">0.1</text><path d="M40.5 211.04h-3.2" stroke="#222" stroke-width="1"/><text x="34.2" y="214.34" text-anchor="end" class="tk">0.2</text><path d="M40.5 183.41h-3.2" stroke="#222" stroke-width="1"/><text x="34.2" y="186.71" text-anchor="end" class="tk">0.3</text><path d="M40.5 155.78h-3.2" stroke="#222" stroke-width="1"/><text x="34.2" y="159.08" text-anchor="end" class="tk">0.4</text><path d="M40.5 128.15h-3.2" stroke="#222" stroke-width="1"/><text x="34.2" y="131.45" text-anchor="end" class="tk">0.5</text><path d="M40.5 100.52h-3.2" stroke="#222" stroke-width="1"/><text x="34.2" y="103.82" text-anchor="end" class="tk">0.6</text><path d="M40.5 72.89h-3.2" stroke="#222" stroke-width="1"/><text x="34.2" y="76.19" text-anchor="end" class="tk">0.7</text><path d="M40.5 45.26h-3.2" stroke="#222" stroke-width="1"/><text x="34.2" y="48.56" text-anchor="end" class="tk">0.8</text><path d="M326.7 27.97H538" fill="none" stroke="#2e2e2e" stroke-width="1.1"/><path d="M537.4 27.97V266.5" fill="none" stroke="#111" stroke-width="1.3"/><path d="M327.4 27.47V265.8H538" fill="none" stroke="#111" stroke-width="1.45" stroke-linejoin="miter"/><path d="M327.4 265.8v3.2" stroke="#222" stroke-width="1"/><text x="328.3" y="278.4" text-anchor="middle" class="tk">0.0</text><path d="M355.4 265.8v3.2" stroke="#222" stroke-width="1"/><text x="356.3" y="278.4" text-anchor="middle" class="tk">0.1</text><path d="M383.4 265.8v3.2" stroke="#222" stroke-width="1"/><text x="384.3" y="278.4" text-anchor="middle" class="tk">0.2</text><path d="M411.4 265.8v3.2" stroke="#222" stroke-width="1"/><text x="412.3" y="278.4" text-anchor="middle" class="tk">0.3</text><path d="M439.4 265.8v3.2" stroke="#222" stroke-width="1"/><text x="440.3" y="278.4" text-anchor="middle" class="tk">0.4</text><path d="M467.4 265.8v3.2" stroke="#222" stroke-width="1"/><text x="468.3" y="278.4" text-anchor="middle" class="tk">0.5</text><path d="M495.4 265.8v3.2" stroke="#222" stroke-width="1"/><text x="496.3" y="278.4" text-anchor="middle" class="tk">0.6</text><path d="M523.4 265.8v3.2" stroke="#222" stroke-width="1"/><text x="524.3" y="278.4" text-anchor="middle" class="tk">0.7</text><path d="M327.4 265.8h-3.2" stroke="#222" stroke-width="1"/><text x="321.1" y="269.1" text-anchor="end" class="tk">0.0</text><path d="M327.4 237.82h-3.2" stroke="#222" stroke-width="1"/><text x="321.1" y="241.12" text-anchor="end" class="tk">0.1</text><path d="M327.4 209.84h-3.2" stroke="#222" stroke-width="1"/><text x="321.1" y="213.14" text-anchor="end" class="tk">0.2</text><path d="M327.4 181.86h-3.2" stroke="#222" stroke-width="1"/><text x="321.1" y="185.16" text-anchor="end" class="tk">0.3</text><path d="M327.4 153.88h-3.2" stroke="#222" stroke-width="1"/><text x="321.1" y="157.18" text-anchor="end" class="tk">0.4</text><path d="M327.4 125.9h-3.2" stroke="#222" stroke-width="1"/><text x="321.1" y="129.2" text-anchor="end" class="tk">0.5</text><path d="M327.4 97.92h-3.2" stroke="#222" stroke-width="1"/><text x="321.1" y="101.22" text-anchor="end" class="tk">0.6</text><path d="M327.4 69.94h-3.2" stroke="#222" stroke-width="1"/><text x="321.1" y="73.24" text-anchor="end" class="tk">0.7</text><path d="M327.4 41.96h-3.2" stroke="#222" stroke-width="1"/><text x="321.1" y="45.26" text-anchor="end" class="tk">0.8</text><path d="M61.03 35.92L60.47 32.97" stroke="#222" stroke-width="0.8"/><text x="59.53" y="34.17" text-anchor="middle" class="wl">520</text><path d="M83.24 43.63L84.72 41.02" stroke="#222" stroke-width="0.8"/><text x="81.44" y="40.48" class="wl">530</text><path d="M103.94 57.89L105.79 55.53" stroke="#222" stroke-width="0.8"/><text x="103.24" y="54.74" class="wl">540</text><path d="M123.83 75.02L125.86 72.8" stroke="#222" stroke-width="0.8"/><text x="124.03" y="71.87" class="wl">550</text><path d="M143.59 93.75L145.68 91.6" stroke="#222" stroke-width="0.8"/><text x="143.79" y="90.6" class="wl">560</text><path d="M163.2 113.04L165.32 110.9" stroke="#222" stroke-width="0.8"/><text x="163.4" y="109.89" class="wl">570</text><path d="M182.1 131.85L184.22 129.73" stroke="#222" stroke-width="0.8"/><text x="182.3" y="128.7" class="wl">580</text><path d="M199.43 149.09L201.55 146.97" stroke="#222" stroke-width="0.8"/><text x="199.63" y="145.94" class="wl">590</text><path d="M213.74 163.38L215.86 161.25" stroke="#222" stroke-width="0.8"/><text x="213.94" y="160.23" class="wl">600</text><path d="M224.46 174.02L226.58 171.89" stroke="#222" stroke-width="0.8"/><text x="224.66" y="170.87" class="wl">610</text><path d="M231.56 181.12L233.68 178.99" stroke="#222" stroke-width="0.8"/><text x="231.76" y="177.97" class="wl">620</text><path d="M236.09 185.62L238.21 183.5" stroke="#222" stroke-width="0.8"/><text x="236.29" y="182.47" class="wl">630</text><path d="M241.09 190.59L243.22 188.47" stroke="#222" stroke-width="0.8"/><text x="241.29" y="187.44" class="wl">650</text><path d="M44.34 59.02L41.41 58.37" stroke="#222" stroke-width="0.8"/><text x="39.84" y="59.97" text-anchor="end" class="wl">510</text><path d="M42.77 117.54L39.78 117.78" stroke="#222" stroke-width="0.8"/><text x="37.77" y="120.59" text-anchor="end" class="wl">500</text><path d="M53.04 184.79L50.11 185.42" stroke="#222" stroke-width="0.8"/><text x="50.54" y="188.84" text-anchor="end" class="wl">490</text><path d="M65.73 229.63L62.9 230.65" stroke="#222" stroke-width="0.8"/><text x="62.33" y="234.68" text-anchor="end" class="wl">480</text><path d="M74.79 250.33L72.16 251.78" stroke="#222" stroke-width="0.8"/><text x="71.89" y="256.48" text-anchor="end" class="wl">470</text><path d="M80.29 258.09L78.06 260.1" stroke="#222" stroke-width="0.8"/><text x="77.39" y="265.84" text-anchor="end" class="wl">460</text><path d="M83.77 261.41L81.79 263.66" stroke="#222" stroke-width="0.8"/><text x="82.37" y="268.76" text-anchor="end" class="wl">450</text><path d="M137.1 102.4L216.3 170L81.1 256.7Z" fill="none" stroke="#7a7af2" stroke-width="1.6" stroke-linejoin="round"/><path d="M133 99.6H141.2L137.1 105.2Z" fill="none" stroke="#7a7af2" stroke-width="1.2" stroke-linejoin="miter"/><path d="M212.2 167.2H220.4L216.3 172.8Z" fill="none" stroke="#7a7af2" stroke-width="1.2" stroke-linejoin="miter"/><path d="M77 253.9H85.2L81.1 259.5Z" fill="none" stroke="#7a7af2" stroke-width="1.2" stroke-linejoin="miter"/><path d="M110.7 187.3H118.9L114.8 193.1Z" fill="none" stroke="#6666ec" stroke-width="1.3" stroke-linejoin="miter"/><path d="M425.4 99.5L506.3 168.1L369.2 255.2Z" fill="none" stroke="#7a7af2" stroke-width="1.6" stroke-linejoin="round"/><path d="M421.3 96.7H429.5L425.4 102.3Z" fill="none" stroke="#7a7af2" stroke-width="1.2" stroke-linejoin="miter"/><path d="M502.2 165.3H510.4L506.3 170.9Z" fill="none" stroke="#7a7af2" stroke-width="1.2" stroke-linejoin="miter"/><path d="M365.1 252.4H373.3L369.2 258Z" fill="none" stroke="#7a7af2" stroke-width="1.2" stroke-linejoin="miter"/><path d="M398.6 185.8H406.8L402.7 191.6Z" fill="none" stroke="#6666ec" stroke-width="1.3" stroke-linejoin="miter"/><path d="M68.4 241.7H76L72.2 247.5Z" fill="none" stroke="#2a8a2a" stroke-width="1.2" stroke-linejoin="miter"/><path d="M77.6 237.1L84 243.5M77.6 243.5L84 237.1" stroke="#f0e428" stroke-width="1.2"/><rect x="82.1" y="232.4" width="6.4" height="6.4" fill="none" stroke="#d2caf0" stroke-width="1.3"/><path d="M91.5 230.8L97.9 237.2M91.5 237.2L97.9 230.8" stroke="#e8206a" stroke-width="1.2"/><path d="M97.2 226.4L98.24 229.17L101.19 229.3L98.88 231.15L99.67 234L97.2 232.36L94.73 234L95.52 231.15L93.21 229.3L96.16 229.17Z" fill="none" stroke="#c8b020" stroke-width="1.0" stroke-linejoin="miter"/><circle cx="97.2" cy="230.3" r="3.6" fill="none" stroke="#20e0e0" stroke-width="1.2"/><path d="M394.1 146.9L400.5 153.3M394.1 153.3L400.5 146.9" stroke="#f0e428" stroke-width="1.2"/><path d="M403.2 142.2L409.6 148.6M403.2 148.6L409.6 142.2" stroke="#e8206a" stroke-width="1.2"/><rect x="404.8" y="134.8" width="6.4" height="6.4" fill="none" stroke="#d2caf0" stroke-width="1.3"/><path d="M410.2 134.2L411.04 136.44L413.43 136.55L411.56 138.04L412.2 140.35L410.2 139.03L408.2 140.35L408.84 138.04L406.97 136.55L409.36 136.44Z" fill="none" stroke="#20e0e0" stroke-width="1.0" stroke-linejoin="miter"/><path d="M413.3 128.8L414.39 131.7L417.48 131.84L415.06 133.77L415.89 136.76L413.3 135.05L410.71 136.76L411.54 133.77L409.12 131.84L412.21 131.7Z" fill="none" stroke="#111" stroke-width="1.1" stroke-linejoin="miter"/><circle cx="418.3" cy="133.3" r="3.6" fill="none" stroke="#20e0e0" stroke-width="1.2"/><path d="M418.3 130.2L418.3 136.6M415.53 131.8L421.07 135M421.07 131.8L415.53 135" stroke="#e0206a" stroke-width="1.0"/><path d="M415 138.2H422.8L418.9 143.8Z" fill="none" stroke="#2a8a2a" stroke-width="1.2" stroke-linejoin="miter"/><rect x="159.3" y="7.7" width="142.5" height="93.5" fill="#ebebeb" stroke="#2a2a2a" stroke-width="1.15"/><path d="M163.2 17H193.6" stroke="#e83a7c" stroke-width="1.5"/><path d="M163.2 30H193.6" stroke="#3a9a30" stroke-width="1.5"/><path d="M163.2 43H193.6" stroke="#c8c8c8" stroke-width="1.5"/><path d="M163.2 56H193.6" stroke="#30e4e4" stroke-width="1.5"/><path d="M163.2 68.9H193.6" stroke="#c8b828" stroke-width="1.5"/><path d="M163.2 81.3H193.6" stroke="#8080ea" stroke-width="1.5"/><path d="M175.6 14.1L181.4 19.9M175.6 19.9L181.4 14.1" stroke="#e83a7c" stroke-width="1.1"/><path d="M174.8 28.1H182.2L178.5 33.7Z" fill="none" stroke="#3a9a30" stroke-width="1.2" stroke-linejoin="miter"/><rect x="175.7" y="40.2" width="5.6" height="5.6" fill="none" stroke="#c8c8c8" stroke-width="1.0"/><circle cx="178.5" cy="56" r="3.6" fill="none" stroke="#30e4e4" stroke-width="1.2"/><path d="M178.5 64L179.64 67.04L182.87 67.18L180.34 69.2L181.2 72.32L178.5 70.53L175.8 72.32L176.66 69.2L174.13 67.18L177.36 67.04Z" fill="none" stroke="#c8b828" stroke-width="1.0" stroke-linejoin="miter"/><path d="M174.7 79.4H182.3L178.5 85Z" fill="none" stroke="#8080ea" stroke-width="1.2" stroke-linejoin="miter"/><path d="M174.7 91H182.3L178.5 97Z" fill="none" stroke="#6c6cf0" stroke-width="1.2" stroke-linejoin="miter"/><text x="200.6" y="20.1" class="lg">75°</text><text x="200.6" y="33.1" class="lg">70°</text><text x="200.6" y="46.1" class="lg">65°</text><text x="200.6" y="59.1" class="lg">60°</text><text x="200.6" y="72" class="lg">55°</text><text x="200.4" y="84.3" class="lgb" textLength="94.4" lengthAdjust="spacingAndGlyphs">Color gamut of projector</text><text x="199.6" y="97.3" class="lgb" textLength="92.8" lengthAdjust="spacingAndGlyphs">White point of projector</text><text x="12.4" y="165.2" text-anchor="middle" class="axl">y</text><text x="298.8" y="162.6" text-anchor="middle" class="axl">y</text><text x="144" y="292" text-anchor="middle" class="axl">x</text><text x="432.5" y="292" text-anchor="middle" class="axl">x</text><text x="251.5" y="295.9" text-anchor="end" class="cie">CIE1931</text><text x="541.5" y="295.9" text-anchor="end" class="cie">CIE1931</text><text x="119.8" y="312.2" class="cap" textLength="45.6" lengthAdjust="spacingAndGlyphs">(<tspan font-weight="bold">a</tspan>) Blue</text><text x="379.5" y="312.2" class="cap" textLength="57.1" lengthAdjust="spacingAndGlyphs">(<tspan font-weight="bold">b</tspan>) Green</text></svg></div></body></html>
